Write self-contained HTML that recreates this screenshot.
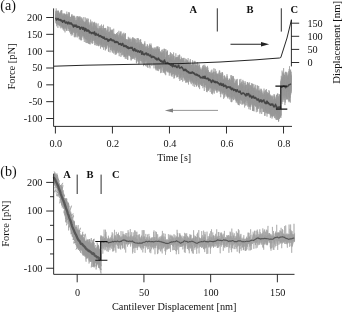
<!DOCTYPE html>
<html><head><meta charset="utf-8"><title>Force curves</title>
<style>html,body{margin:0;padding:0;background:#fff}body{width:342px;height:312px;overflow:hidden}</style></head>
<body>
<svg width="342" height="312" viewBox="0 0 342 312" style="display:block;font-family:'Liberation Serif',serif">
<rect width="342" height="312" fill="#fff"/>
<polyline fill="none" stroke="#999" stroke-width="0.6" stroke-linejoin="round" points="55.6,18.0 55.6,19.2 55.6,16.9 55.7,14.6 55.7,16.3 55.7,14.2 55.7,18.3 55.8,23.3 55.8,16.1 55.8,15.7 55.8,20.0 55.8,19.5 55.9,18.5 55.9,14.5 55.9,18.0 55.9,20.9 56.0,12.9 56.0,16.4 56.0,10.7 56.0,13.1 56.1,11.0 56.1,17.3 56.1,13.2 56.1,19.3 56.1,18.8 56.2,17.5 56.2,8.4 56.2,16.1 56.2,18.1 56.3,18.7 56.3,12.3 56.3,16.4 56.3,14.4 56.3,15.1 56.4,22.5 56.4,15.1 56.4,18.2 56.4,21.8 56.5,16.0 56.5,17.9 56.5,18.8 56.5,18.6 56.5,13.6 56.6,18.7 56.6,23.8 56.6,12.3 56.6,21.8 56.7,18.9 56.7,15.9 56.7,26.3 56.7,21.5 56.7,13.7 56.8,18.8 56.8,20.8 56.8,17.7 56.8,21.2 56.9,18.2 56.9,21.2 56.9,24.2 56.9,15.9 57.0,19.3 57.0,16.7 57.0,19.1 57.0,13.9 57.0,16.3 57.1,17.8 57.1,22.2 57.1,23.1 57.1,13.4 57.2,15.5 57.2,21.2 57.2,10.7 57.2,16.8 57.2,18.3 57.3,23.7 57.3,21.4 57.3,17.4 57.3,17.2 57.4,17.7 57.4,24.8 57.4,17.0 57.4,17.5 57.4,20.1 57.5,18.3 57.5,18.0 57.5,14.3 57.5,18.7 57.6,17.0 57.6,23.4 57.6,21.4 57.6,18.7 57.7,21.5 57.7,17.5 57.7,23.0 57.7,18.8 57.7,21.2 57.8,13.7 57.8,20.3 57.8,12.2 57.8,10.8 57.9,17.7 57.9,15.3 57.9,19.6 57.9,27.9 57.9,15.6 58.0,16.5 58.0,19.8 58.0,20.9 58.0,18.3 58.1,18.2 58.1,21.8 58.1,21.1 58.1,14.9 58.1,18.7 58.2,19.2 58.2,14.8 58.2,20.1 58.2,15.6 58.3,23.0 58.3,19.9 58.3,19.4 58.3,16.7 58.4,18.6 58.4,11.1 58.4,14.6 58.4,20.6 58.4,10.6 58.5,22.5 58.5,12.2 58.5,22.2 58.5,15.8 58.6,22.3 58.6,19.7 58.6,13.0 58.6,24.2 58.6,25.0 58.7,19.0 58.7,18.1 58.7,18.6 58.7,15.3 58.8,23.7 58.8,17.1 58.8,19.1 58.8,16.1 58.8,16.8 58.9,14.2 58.9,24.4 58.9,18.7 58.9,23.2 59.0,19.4 59.0,16.6 59.0,18.1 59.0,17.1 59.0,19.4 59.1,17.9 59.1,18.2 59.1,13.8 59.1,16.2 59.2,26.1 59.2,16.7 59.2,15.2 59.2,20.8 59.3,25.2 59.3,13.6 59.3,18.6 59.3,16.9 59.3,12.4 59.4,22.5 59.4,19.4 59.4,19.8 59.4,16.5 59.5,21.4 59.5,17.4 59.5,19.0 59.5,15.1 59.5,14.7 59.6,25.0 59.6,17.5 59.6,20.8 59.6,19.5 59.7,17.8 59.7,17.6 59.7,22.2 59.7,18.4 59.7,19.1 59.8,19.8 59.8,24.5 59.8,22.5 59.8,21.3 59.9,17.4 59.9,14.1 59.9,23.6 59.9,23.7 60.0,19.2 60.0,22.0 60.0,23.0 60.0,23.2 60.0,23.5 60.1,17.9 60.1,26.0 60.1,14.7 60.1,23.3 60.2,21.8 60.2,23.4 60.2,27.5 60.2,25.9 60.2,15.2 60.3,13.0 60.3,23.2 60.3,15.7 60.3,19.9 60.4,23.3 60.4,13.2 60.4,11.3 60.4,21.0 60.4,20.1 60.5,19.0 60.5,20.1 60.5,16.5 60.5,13.8 60.6,19.3 60.6,16.0 60.6,13.3 60.6,22.1 60.6,19.8 60.7,21.7 60.7,16.0 60.7,17.4 60.7,16.0 60.8,16.4 60.8,20.9 60.8,16.9 60.8,21.6 60.9,21.5 60.9,28.4 60.9,14.4 60.9,23.8 60.9,19.8 61.0,20.1 61.0,14.2 61.0,18.3 61.0,23.2 61.1,19.9 61.1,20.5 61.1,19.0 61.1,25.0 61.1,20.1 61.2,11.2 61.2,17.4 61.2,12.1 61.2,10.0 61.3,18.1 61.3,25.8 61.3,20.5 61.3,15.5 61.3,16.4 61.4,25.0 61.4,21.0 61.4,20.5 61.4,20.1 61.5,20.5 61.5,23.7 61.5,22.7 61.5,21.3 61.6,16.1 61.6,22.5 61.6,17.6 61.6,24.9 61.6,15.2 61.7,19.9 61.7,20.4 61.7,15.0 61.7,27.6 61.8,26.5 61.8,18.6 61.8,23.7 61.8,22.1 61.8,10.1 61.9,21.6 61.9,20.3 61.9,20.9 61.9,16.1 62.0,19.4 62.0,19.8 62.0,25.5 62.0,22.0 62.0,20.6 62.1,27.0 62.1,18.3 62.1,19.0 62.1,13.1 62.2,27.2 62.2,24.7 62.2,24.5 62.2,23.4 62.2,21.1 62.3,21.6 62.3,19.6 62.3,19.9 62.3,20.9 62.4,27.0 62.4,23.0 62.4,20.5 62.4,18.3 62.5,18.1 62.5,27.5 62.5,22.9 62.5,21.1 62.5,19.3 62.6,16.2 62.6,20.5 62.6,24.5 62.6,19.2 62.7,19.9 62.7,19.9 62.7,21.3 62.7,14.2 62.7,19.9 62.8,17.3 62.8,24.6 62.8,17.7 62.8,23.3 62.9,27.3 62.9,19.6 62.9,18.4 62.9,21.7 62.9,20.9 63.0,16.8 63.0,22.9 63.0,29.4 63.0,19.9 63.1,20.1 63.1,16.6 63.1,22.4 63.1,15.8 63.2,16.4 63.2,26.4 63.2,17.2 63.2,25.6 63.2,27.5 63.3,22.2 63.3,23.4 63.3,29.3 63.3,20.3 63.4,18.6 63.4,15.4 63.4,21.3 63.4,27.4 63.4,25.2 63.5,17.2 63.5,17.6 63.5,19.1 63.5,22.4 63.6,20.3 63.6,22.1 63.6,22.5 63.6,20.0 63.6,21.1 63.7,22.1 63.7,20.9 63.7,23.4 63.7,29.2 63.8,23.8 63.8,21.5 63.8,14.2 63.8,22.9 63.9,13.1 63.9,15.4 63.9,24.9 63.9,24.3 63.9,20.7 64.0,14.1 64.0,19.8 64.0,18.5 64.0,24.1 64.1,31.0 64.1,22.3 64.1,18.1 64.1,16.5 64.1,21.2 64.2,20.7 64.2,16.6 64.2,22.0 64.2,16.6 64.3,26.2 64.3,26.0 64.3,26.1 64.3,19.5 64.3,23.7 64.4,21.0 64.4,19.9 64.4,20.1 64.4,16.0 64.5,15.4 64.5,24.9 64.5,20.8 64.5,22.5 64.5,25.9 64.6,14.2 64.6,18.3 64.6,22.4 64.6,23.3 64.7,20.0 64.7,26.0 64.7,22.6 64.7,16.5 64.8,17.7 64.8,25.1 64.8,23.7 64.8,13.6 64.8,27.5 64.9,24.3 64.9,27.5 64.9,20.1 64.9,20.5 65.0,16.9 65.0,32.4 65.0,21.0 65.0,28.6 65.0,19.0 65.1,22.5 65.1,14.7 65.1,20.2 65.1,26.0 65.2,16.5 65.2,26.4 65.2,23.3 65.2,17.4 65.2,19.7 65.3,19.9 65.3,21.7 65.3,19.6 65.3,18.4 65.4,20.6 65.4,17.5 65.4,16.4 65.4,21.7 65.5,25.7 65.5,15.4 65.5,22.0 65.5,19.2 65.5,17.8 65.6,25.7 65.6,19.8 65.6,28.5 65.6,18.7 65.7,23.7 65.7,21.1 65.7,18.8 65.7,24.6 65.7,21.4 65.8,24.7 65.8,21.9 65.8,17.4 65.8,21.7 65.9,22.3 65.9,26.3 65.9,18.2 65.9,22.0 65.9,14.7 66.0,25.0 66.0,17.5 66.0,14.4 66.0,21.9 66.1,27.0 66.1,15.6 66.1,17.5 66.1,19.0 66.1,17.4 66.2,23.9 66.2,18.8 66.2,19.2 66.2,24.8 66.3,19.0 66.3,24.2 66.3,18.1 66.3,17.1 66.4,14.4 66.4,30.4 66.4,21.0 66.4,23.4 66.4,22.2 66.5,23.1 66.5,22.6 66.5,30.7 66.5,17.9 66.6,15.7 66.6,18.0 66.6,16.6 66.6,25.7 66.6,26.0 66.7,18.3 66.7,16.4 66.7,20.9 66.7,28.5 66.8,11.6 66.8,24.8 66.8,17.8 66.8,27.0 66.8,17.8 66.9,21.3 66.9,16.0 66.9,18.3 66.9,28.6 67.0,26.1 67.0,20.8 67.0,18.8 67.0,14.4 67.1,20.9 67.1,22.5 67.1,22.3 67.1,22.2 67.1,17.8 67.2,22.4 67.2,22.5 67.2,28.3 67.2,30.8 67.3,22.1 67.3,19.4 67.3,22.4 67.3,20.1 67.3,19.5 67.4,22.5 67.4,18.2 67.4,25.4 67.4,22.3 67.5,23.9 67.5,22.0 67.5,19.6 67.5,18.6 67.5,21.8 67.6,20.4 67.6,23.8 67.6,22.8 67.6,16.9 67.7,23.1 67.7,17.0 67.7,20.2 67.7,21.6 67.8,13.8 67.8,23.3 67.8,23.6 67.8,22.2 67.8,21.1 67.9,21.3 67.9,18.7 67.9,21.8 67.9,20.5 68.0,23.4 68.0,17.7 68.0,24.0 68.0,23.6 68.0,22.4 68.1,21.1 68.1,25.4 68.1,15.7 68.1,25.1 68.2,24.1 68.2,24.3 68.2,24.8 68.2,20.2 68.2,21.9 68.3,25.9 68.3,25.0 68.3,24.0 68.3,16.4 68.4,25.5 68.4,28.3 68.4,27.6 68.4,24.2 68.4,16.3 68.5,27.3 68.5,22.5 68.5,12.2 68.5,24.9 68.6,16.6 68.6,17.5 68.6,20.4 68.6,28.9 68.7,21.6 68.7,24.5 68.7,31.0 68.7,30.3 68.7,22.8 68.8,22.2 68.8,17.7 68.8,20.2 68.8,25.2 68.9,25.1 68.9,23.8 68.9,27.8 68.9,19.9 68.9,23.1 69.0,26.6 69.0,26.0 69.0,28.1 69.0,25.2 69.1,22.0 69.1,25.0 69.1,19.0 69.1,16.2 69.1,26.0 69.2,23.2 69.2,24.8 69.2,15.9 69.2,21.9 69.3,20.8 69.3,19.7 69.3,13.5 69.3,22.0 69.4,27.5 69.4,25.2 69.4,20.9 69.4,23.5 69.4,26.9 69.5,12.4 69.5,23.0 69.5,26.0 69.5,26.6 69.6,31.2 69.6,28.7 69.6,25.0 69.6,25.0 69.6,27.2 69.7,21.2 69.7,23.5 69.7,27.7 69.7,32.4 69.8,23.0 69.8,23.5 69.8,24.6 69.8,29.7 69.8,23.6 69.9,30.3 69.9,19.4 69.9,22.9 69.9,22.9 70.0,27.3 70.0,28.5 70.0,17.0 70.0,19.7 70.0,25.3 70.1,20.9 70.1,17.0 70.1,28.5 70.1,26.1 70.2,26.1 70.2,21.7 70.2,28.5 70.2,22.8 70.3,28.8 70.3,19.8 70.3,20.1 70.3,24.8 70.3,20.8 70.4,27.0 70.4,25.1 70.4,19.8 70.4,24.3 70.5,22.4 70.5,28.1 70.5,21.1 70.5,22.0 70.5,29.4 70.6,34.1 70.6,33.0 70.6,24.3 70.6,25.0 70.7,30.9 70.7,23.5 70.7,19.7 70.7,24.6 70.7,26.1 70.8,20.4 70.8,16.7 70.8,17.6 70.8,27.1 70.9,20.7 70.9,23.5 70.9,25.1 70.9,27.0 71.0,22.7 71.0,26.4 71.0,20.2 71.0,22.6 71.0,19.6 71.1,29.3 71.1,24.1 71.1,20.9 71.1,22.7 71.2,23.3 71.2,27.4 71.2,17.1 71.2,19.6 71.2,22.6 71.3,35.6 71.3,28.6 71.3,23.8 71.3,27.5 71.4,33.6 71.4,23.3 71.4,22.7 71.4,29.8 71.4,26.6 71.5,27.4 71.5,22.1 71.5,33.1 71.5,32.2 71.6,27.0 71.6,27.5 71.6,15.2 71.6,27.3 71.7,23.6 71.7,26.4 71.7,27.6 71.7,22.9 71.7,16.8 71.8,26.2 71.8,21.1 71.8,23.0 71.8,21.8 71.9,23.0 71.9,14.0 71.9,30.1 71.9,25.7 71.9,29.6 72.0,33.6 72.0,24.7 72.0,16.4 72.0,20.5 72.1,19.1 72.1,22.3 72.1,25.0 72.1,15.5 72.1,26.2 72.2,17.8 72.2,26.0 72.2,24.2 72.2,23.3 72.3,24.4 72.3,22.2 72.3,21.9 72.3,17.0 72.3,24.6 72.4,33.2 72.4,33.8 72.4,30.8 72.4,28.0 72.5,21.7 72.5,31.4 72.5,24.5 72.5,24.5 72.6,23.5 72.6,25.2 72.6,22.8 72.6,24.5 72.6,19.9 72.7,23.1 72.7,35.3 72.7,24.6 72.7,23.8 72.8,27.3 72.8,28.1 72.8,19.8 72.8,24.0 72.8,29.1 72.9,26.2 72.9,25.5 72.9,32.1 72.9,21.9 73.0,25.4 73.0,22.6 73.0,31.8 73.0,16.0 73.0,21.9 73.1,22.6 73.1,28.1 73.1,27.8 73.1,31.5 73.2,17.8 73.2,28.5 73.2,23.7 73.2,22.0 73.3,27.6 73.3,20.9 73.3,15.6 73.3,23.4 73.3,18.2 73.4,22.2 73.4,26.9 73.4,26.6 73.4,32.5 73.5,24.3 73.5,18.1 73.5,21.7 73.5,21.0 73.5,19.6 73.6,27.2 73.6,22.3 73.6,16.1 73.6,28.5 73.7,24.7 73.7,26.9 73.7,25.8 73.7,28.2 73.7,25.5 73.8,31.0 73.8,27.3 73.8,27.1 73.8,27.2 73.9,18.6 73.9,24.6 73.9,24.2 73.9,26.3 73.9,19.1 74.0,32.9 74.0,25.9 74.0,19.8 74.0,17.5 74.1,24.1 74.1,25.0 74.1,22.1 74.1,25.9 74.2,22.5 74.2,28.0 74.2,22.1 74.2,25.3 74.2,30.0 74.3,37.1 74.3,20.8 74.3,23.4 74.3,21.6 74.4,29.2 74.4,20.2 74.4,23.3 74.4,25.4 74.4,21.0 74.5,21.1 74.5,23.4 74.5,15.8 74.5,18.9 74.6,23.7 74.6,26.3 74.6,24.8 74.6,17.4 74.6,23.5 74.7,29.4 74.7,28.3 74.7,25.3 74.7,21.6 74.8,28.6 74.8,23.0 74.8,20.3 74.8,22.0 74.9,32.5 74.9,26.8 74.9,31.2 74.9,23.5 74.9,30.2 75.0,23.0 75.0,25.1 75.0,37.4 75.0,29.4 75.1,23.5 75.1,25.4 75.1,27.4 75.1,31.5 75.1,23.6 75.2,17.7 75.2,24.6 75.2,26.0 75.2,26.4 75.3,32.1 75.3,27.4 75.3,29.7 75.3,20.8 75.3,30.0 75.4,35.8 75.4,29.6 75.4,27.2 75.4,26.7 75.5,34.4 75.5,21.6 75.5,25.5 75.5,28.2 75.5,29.5 75.6,24.0 75.6,27.5 75.6,24.7 75.6,26.6 75.7,25.4 75.7,20.7 75.7,26.0 75.7,30.2 75.8,21.6 75.8,25.0 75.8,29.2 75.8,21.1 75.8,27.0 75.9,21.2 75.9,31.5 75.9,37.0 75.9,35.7 76.0,25.2 76.0,29.7 76.0,26.8 76.0,26.7 76.0,33.5 76.1,20.0 76.1,31.2 76.1,26.0 76.1,32.9 76.2,27.1 76.2,23.1 76.2,27.6 76.2,29.8 76.2,26.5 76.3,28.6 76.3,23.9 76.3,16.3 76.3,30.6 76.4,29.6 76.4,27.1 76.4,26.7 76.4,31.3 76.5,24.2 76.5,23.1 76.5,25.5 76.5,32.0 76.5,19.9 76.6,32.1 76.6,23.4 76.6,21.2 76.6,32.4 76.7,26.0 76.7,20.3 76.7,24.8 76.7,30.9 76.7,32.1 76.8,24.5 76.8,28.4 76.8,29.9 76.8,23.5 76.9,28.2 76.9,26.4 76.9,24.0 76.9,24.2 76.9,26.9 77.0,26.7 77.0,23.9 77.0,24.6 77.0,31.9 77.1,27.6 77.1,30.8 77.1,32.4 77.1,29.5 77.2,37.5 77.2,22.7 77.2,30.5 77.2,25.2 77.2,35.5 77.3,34.8 77.3,17.4 77.3,22.1 77.3,29.9 77.4,30.5 77.4,30.3 77.4,26.4 77.4,28.9 77.4,29.9 77.5,26.4 77.5,31.7 77.5,16.0 77.5,29.8 77.6,21.9 77.6,31.4 77.6,25.8 77.6,22.6 77.6,28.6 77.7,22.5 77.7,22.5 77.7,19.4 77.7,26.8 77.8,29.3 77.8,31.8 77.8,26.2 77.8,31.9 77.8,27.0 77.9,26.5 77.9,29.7 77.9,32.0 77.9,25.3 78.0,25.8 78.0,26.2 78.0,27.4 78.0,22.7 78.1,31.9 78.1,25.1 78.1,29.3 78.1,23.1 78.1,28.8 78.2,28.9 78.2,25.1 78.2,36.8 78.2,28.9 78.3,35.6 78.3,31.7 78.3,23.9 78.3,25.3 78.3,29.2 78.4,27.4 78.4,27.4 78.4,25.8 78.4,18.5 78.5,26.1 78.5,16.5 78.5,29.0 78.5,23.7 78.5,23.8 78.6,26.2 78.6,28.6 78.6,20.4 78.6,18.8 78.7,22.1 78.7,17.4 78.7,22.6 78.7,35.0 78.8,22.2 78.8,30.5 78.8,20.7 78.8,28.8 78.8,25.8 78.9,27.1 78.9,30.1 78.9,35.8 78.9,28.3 79.0,28.0 79.0,22.7 79.0,30.2 79.0,26.2 79.0,31.4 79.1,27.2 79.1,35.9 79.1,17.9 79.1,26.0 79.2,31.7 79.2,25.8 79.2,23.7 79.2,26.2 79.2,20.8 79.3,28.1 79.3,39.3 79.3,33.1 79.3,22.2 79.4,23.3 79.4,25.6 79.4,32.4 79.4,23.6 79.4,24.2 79.5,31.9 79.5,31.8 79.5,25.8 79.5,22.2 79.6,20.1 79.6,24.3 79.6,16.8 79.6,31.3 79.7,24.6 79.7,30.0 79.7,36.8 79.7,33.4 79.7,22.1 79.8,31.9 79.8,33.3 79.8,24.1 79.8,23.1 79.9,27.2 79.9,20.0 79.9,34.9 79.9,16.1 79.9,22.4 80.0,26.5 80.0,26.7 80.0,28.6 80.0,29.1 80.1,26.8 80.1,33.4 80.1,17.4 80.1,27.9 80.1,24.4 80.2,28.5 80.2,29.0 80.2,23.4 80.2,24.8 80.3,31.8 80.3,29.6 80.3,24.6 80.3,37.9 80.4,39.2 80.4,20.8 80.4,29.4 80.4,40.2 80.4,31.8 80.5,29.1 80.5,27.0 80.5,25.4 80.5,27.0 80.6,25.3 80.6,31.7 80.6,26.1 80.6,25.9 80.6,22.2 80.7,27.8 80.7,23.7 80.7,27.2 80.7,33.2 80.8,29.9 80.8,30.6 80.8,29.9 80.8,28.4 80.8,27.5 80.9,26.6 80.9,31.9 80.9,22.9 80.9,34.8 81.0,28.4 81.0,24.5 81.0,25.8 81.0,24.9 81.1,29.0 81.1,24.7 81.1,33.9 81.1,24.4 81.1,17.1 81.2,24.7 81.2,18.4 81.2,28.1 81.2,33.5 81.3,31.5 81.3,21.7 81.3,24.6 81.3,37.1 81.3,29.9 81.4,28.4 81.4,33.6 81.4,40.4 81.4,34.8 81.5,29.1 81.5,30.1 81.5,31.5 81.5,25.4 81.5,23.2 81.6,28.7 81.6,23.8 81.6,28.2 81.6,28.9 81.7,40.0 81.7,24.3 81.7,27.9 81.7,27.7 81.7,30.7 81.8,33.7 81.8,26.1 81.8,24.5 81.8,20.4 81.9,24.0 81.9,31.2 81.9,28.8 81.9,23.6 82.0,26.7 82.0,28.8 82.0,31.1 82.0,25.7 82.0,27.4 82.1,19.6 82.1,22.9 82.1,36.7 82.1,17.8 82.2,27.0 82.2,29.8 82.2,26.8 82.2,24.7 82.2,28.4 82.3,28.7 82.3,28.3 82.3,19.4 82.3,28.0 82.4,24.5 82.4,26.0 82.4,29.9 82.4,32.0 82.4,33.2 82.5,26.3 82.5,33.4 82.5,34.6 82.5,34.5 82.6,35.7 82.6,28.1 82.6,28.0 82.6,33.0 82.7,22.1 82.7,29.9 82.7,26.3 82.7,27.1 82.7,20.3 82.8,24.5 82.8,28.8 82.8,33.4 82.8,33.9 82.9,28.6 82.9,28.0 82.9,24.8 82.9,31.0 82.9,27.8 83.0,32.0 83.0,37.7 83.0,28.9 83.0,21.6 83.1,24.8 83.1,21.8 83.1,23.1 83.1,35.6 83.1,30.2 83.2,21.5 83.2,32.3 83.2,35.4 83.2,27.3 83.3,25.8 83.3,27.4 83.3,30.6 83.3,32.3 83.3,35.0 83.4,35.2 83.4,35.1 83.4,36.0 83.4,32.5 83.5,21.6 83.5,28.6 83.5,30.8 83.5,27.3 83.6,33.8 83.6,27.5 83.6,24.6 83.6,36.4 83.6,32.6 83.7,30.4 83.7,33.9 83.7,34.6 83.7,31.0 83.8,17.1 83.8,26.0 83.8,27.1 83.8,24.4 83.8,30.3 83.9,35.3 83.9,27.0 83.9,23.7 83.9,39.5 84.0,27.2 84.0,23.3 84.0,30.6 84.0,31.5 84.0,25.9 84.1,33.4 84.1,27.0 84.1,24.9 84.1,30.4 84.2,33.3 84.2,26.3 84.2,31.1 84.2,29.0 84.3,42.0 84.3,26.0 84.3,36.4 84.3,29.3 84.3,28.9 84.4,33.2 84.4,34.0 84.4,35.9 84.4,31.2 84.5,26.6 84.5,26.9 84.5,32.2 84.5,32.5 84.5,36.6 84.6,31.7 84.6,34.9 84.6,37.2 84.6,30.5 84.7,22.3 84.7,23.8 84.7,22.5 84.7,37.6 84.7,25.5 84.8,35.9 84.8,32.6 84.8,38.3 84.8,34.7 84.9,29.3 84.9,28.8 84.9,30.2 84.9,30.7 85.0,27.2 85.0,29.6 85.0,37.8 85.0,21.4 85.0,31.1 85.1,25.3 85.1,30.8 85.1,34.0 85.1,29.6 85.2,33.7 85.2,22.0 85.2,35.4 85.2,26.9 85.2,33.0 85.3,30.8 85.3,17.5 85.3,26.2 85.3,31.0 85.4,37.7 85.4,31.4 85.4,31.3 85.4,23.0 85.4,37.1 85.5,39.0 85.5,30.2 85.5,28.9 85.5,22.0 85.6,34.4 85.6,42.5 85.6,33.6 85.6,36.4 85.6,32.8 85.7,25.2 85.7,36.8 85.7,24.0 85.7,29.1 85.8,31.5 85.8,34.5 85.8,32.2 85.8,32.1 85.9,26.4 85.9,23.7 85.9,30.5 85.9,26.6 85.9,23.7 86.0,23.9 86.0,27.8 86.0,21.0 86.0,23.5 86.1,22.1 86.1,31.2 86.1,32.3 86.1,40.3 86.1,22.8 86.2,26.9 86.2,34.8 86.2,29.2 86.2,28.7 86.3,38.8 86.3,28.6 86.3,24.6 86.3,23.8 86.3,32.0 86.4,31.9 86.4,23.5 86.4,25.5 86.4,33.1 86.5,33.3 86.5,27.2 86.5,33.5 86.5,33.3 86.6,21.6 86.6,28.9 86.6,32.5 86.6,27.6 86.6,19.8 86.7,29.1 86.7,34.2 86.7,38.4 86.7,19.6 86.8,43.0 86.8,24.9 86.8,35.3 86.8,36.7 86.8,35.5 86.9,31.3 86.9,24.8 86.9,33.7 86.9,27.0 87.0,18.1 87.0,43.1 87.0,34.2 87.0,39.7 87.0,26.1 87.1,38.0 87.1,38.6 87.1,38.4 87.1,30.6 87.2,24.7 87.2,29.8 87.2,19.7 87.2,22.2 87.2,31.2 87.3,25.8 87.3,29.9 87.3,30.2 87.3,40.4 87.4,37.2 87.4,30.6 87.4,36.8 87.4,26.9 87.5,29.1 87.5,35.3 87.5,24.6 87.5,29.4 87.5,24.3 87.6,31.4 87.6,39.0 87.6,27.1 87.6,32.0 87.7,26.4 87.7,25.2 87.7,24.7 87.7,38.2 87.7,42.7 87.8,33.3 87.8,27.4 87.8,34.5 87.8,29.3 87.9,35.0 87.9,32.4 87.9,32.4 87.9,34.0 87.9,28.1 88.0,29.0 88.0,22.4 88.0,28.8 88.0,23.9 88.1,30.3 88.1,26.3 88.1,31.6 88.1,33.3 88.2,24.0 88.2,27.0 88.2,26.4 88.2,34.8 88.2,39.6 88.3,35.4 88.3,29.4 88.3,38.5 88.3,23.6 88.4,38.6 88.4,27.9 88.4,18.7 88.4,43.7 88.4,39.1 88.5,26.1 88.5,32.1 88.5,30.2 88.5,31.7 88.6,23.8 88.6,27.9 88.6,33.6 88.6,32.4 88.6,37.3 88.7,31.7 88.7,43.0 88.7,27.7 88.7,32.6 88.8,21.8 88.8,25.1 88.8,38.0 88.8,26.7 88.8,34.0 88.9,31.1 88.9,26.2 88.9,29.7 88.9,28.8 89.0,29.0 89.0,35.2 89.0,34.7 89.0,28.6 89.1,26.9 89.1,32.9 89.1,31.0 89.1,36.6 89.1,44.0 89.2,35.7 89.2,31.3 89.2,30.7 89.2,27.2 89.3,27.0 89.3,26.5 89.3,29.6 89.3,29.4 89.3,35.3 89.4,29.6 89.4,30.6 89.4,25.5 89.4,39.8 89.5,34.1 89.5,40.5 89.5,35.6 89.5,39.1 89.5,30.4 89.6,35.2 89.6,44.1 89.6,25.6 89.6,37.6 89.7,40.2 89.7,33.8 89.7,35.5 89.7,38.1 89.8,28.4 89.8,33.8 89.8,27.3 89.8,28.3 89.8,28.6 89.9,31.0 89.9,32.5 89.9,34.1 89.9,24.6 90.0,41.9 90.0,37.7 90.0,35.5 90.0,30.0 90.0,31.4 90.1,34.7 90.1,34.0 90.1,23.3 90.1,35.7 90.2,44.4 90.2,22.4 90.2,37.0 90.2,33.8 90.2,31.4 90.3,39.0 90.3,25.9 90.3,32.8 90.3,39.5 90.4,31.0 90.4,29.8 90.4,32.6 90.4,29.7 90.5,39.9 90.5,27.4 90.5,36.5 90.5,25.6 90.5,35.5 90.6,31.5 90.6,19.6 90.6,32.0 90.6,26.6 90.7,29.8 90.7,40.0 90.7,26.4 90.7,26.7 90.7,39.5 90.8,32.7 90.8,40.1 90.8,33.8 90.8,27.6 90.9,31.8 90.9,38.5 90.9,37.0 90.9,32.2 90.9,32.5 91.0,31.6 91.0,29.3 91.0,42.2 91.0,32.3 91.1,26.4 91.1,29.8 91.1,36.0 91.1,35.6 91.1,31.6 91.2,28.9 91.2,32.4 91.2,23.7 91.2,25.6 91.3,36.4 91.3,29.9 91.3,34.3 91.3,38.6 91.4,35.7 91.4,32.5 91.4,43.3 91.4,35.8 91.4,30.6 91.5,36.2 91.5,34.5 91.5,28.0 91.5,32.8 91.6,31.6 91.6,22.4 91.6,31.6 91.6,31.0 91.6,30.2 91.7,24.0 91.7,30.7 91.7,32.3 91.7,33.0 91.8,26.7 91.8,35.8 91.8,26.3 91.8,31.4 91.8,39.3 91.9,29.0 91.9,30.0 91.9,38.1 91.9,30.6 92.0,31.1 92.0,33.8 92.0,38.0 92.0,21.3 92.1,28.4 92.1,27.5 92.1,27.1 92.1,28.3 92.1,28.4 92.2,34.2 92.2,28.1 92.2,33.3 92.2,34.8 92.3,29.0 92.3,33.4 92.3,41.1 92.3,34.4 92.3,29.5 92.4,32.4 92.4,28.1 92.4,34.2 92.4,37.2 92.5,28.6 92.5,31.8 92.5,38.5 92.5,30.3 92.5,33.8 92.6,27.6 92.6,28.7 92.6,30.3 92.6,43.8 92.7,30.9 92.7,30.3 92.7,30.1 92.7,32.1 92.7,36.2 92.8,33.9 92.8,43.2 92.8,34.0 92.8,40.2 92.9,34.4 92.9,36.0 92.9,25.8 92.9,32.4 93.0,32.7 93.0,31.8 93.0,22.3 93.0,37.4 93.0,31.1 93.1,30.9 93.1,31.8 93.1,31.9 93.1,35.1 93.2,26.7 93.2,28.4 93.2,34.6 93.2,33.9 93.2,31.2 93.3,30.3 93.3,29.0 93.3,32.9 93.3,39.1 93.4,27.9 93.4,40.8 93.4,37.4 93.4,30.9 93.4,37.1 93.5,25.9 93.5,24.6 93.5,26.8 93.5,31.2 93.6,31.6 93.6,30.7 93.6,33.8 93.6,22.6 93.7,35.8 93.7,26.2 93.7,30.0 93.7,31.3 93.7,27.5 93.8,26.5 93.8,28.3 93.8,33.3 93.8,36.3 93.9,36.2 93.9,28.4 93.9,29.4 93.9,28.8 93.9,35.7 94.0,23.2 94.0,39.6 94.0,31.0 94.0,29.5 94.1,35.2 94.1,38.6 94.1,35.2 94.1,38.8 94.1,34.2 94.2,39.7 94.2,39.7 94.2,33.0 94.2,40.7 94.3,34.4 94.3,34.0 94.3,28.9 94.3,32.1 94.4,37.5 94.4,27.0 94.4,36.8 94.4,35.3 94.4,35.0 94.5,22.6 94.5,33.1 94.5,36.9 94.5,29.8 94.6,34.1 94.6,21.8 94.6,37.0 94.6,30.4 94.6,38.1 94.7,24.5 94.7,37.2 94.7,32.5 94.7,37.8 94.8,29.1 94.8,30.7 94.8,45.0 94.8,29.6 94.8,30.2 94.9,32.4 94.9,28.7 94.9,39.8 94.9,42.4 95.0,30.3 95.0,25.2 95.0,39.7 95.0,39.4 95.0,38.0 95.1,39.7 95.1,29.5 95.1,33.0 95.1,27.0 95.2,26.8 95.2,38.8 95.2,30.6 95.2,45.3 95.3,34.3 95.3,30.7 95.3,38.0 95.3,43.0 95.3,36.4 95.4,27.9 95.4,35.8 95.4,40.9 95.4,31.5 95.5,30.1 95.5,39.1 95.5,34.7 95.5,28.5 95.5,32.2 95.6,30.3 95.6,35.6 95.6,34.6 95.6,39.9 95.7,37.7 95.7,26.3 95.7,36.2 95.7,38.6 95.7,36.4 95.8,39.3 95.8,31.4 95.8,29.4 95.8,38.8 95.9,28.8 95.9,23.4 95.9,39.3 95.9,30.6 96.0,32.7 96.0,27.2 96.0,27.6 96.0,28.5 96.0,32.4 96.1,36.1 96.1,22.8 96.1,38.0 96.1,28.4 96.2,29.0 96.2,37.7 96.2,33.9 96.2,26.6 96.2,43.6 96.3,30.0 96.3,35.6 96.3,35.4 96.3,41.4 96.4,32.1 96.4,39.4 96.4,30.7 96.4,40.0 96.4,30.6 96.5,32.6 96.5,43.9 96.5,36.0 96.5,35.0 96.6,45.7 96.6,36.3 96.6,30.4 96.6,38.2 96.6,28.6 96.7,40.2 96.7,40.6 96.7,31.7 96.7,31.4 96.8,35.4 96.8,34.6 96.8,29.7 96.8,37.4 96.9,24.4 96.9,32.4 96.9,32.6 96.9,33.2 96.9,36.2 97.0,28.5 97.0,37.6 97.0,33.7 97.0,31.4 97.1,27.8 97.1,28.7 97.1,36.5 97.1,29.9 97.1,35.0 97.2,40.0 97.2,39.9 97.2,42.5 97.2,33.3 97.3,29.3 97.3,39.9 97.3,36.3 97.3,40.4 97.3,34.8 97.4,40.8 97.4,39.0 97.4,38.4 97.4,37.3 97.5,36.8 97.5,36.0 97.5,36.0 97.5,39.8 97.6,32.3 97.6,43.6 97.6,34.3 97.6,39.8 97.6,34.4 97.7,33.7 97.7,45.1 97.7,33.4 97.7,28.5 97.8,31.4 97.8,33.4 97.8,45.8 97.8,36.0 97.8,39.7 97.9,30.0 97.9,36.8 97.9,38.4 97.9,44.0 98.0,31.5 98.0,38.1 98.0,36.6 98.0,29.9 98.0,35.0 98.1,33.7 98.1,23.4 98.1,38.1 98.1,37.8 98.2,32.9 98.2,28.4 98.2,42.5 98.2,36.5 98.2,40.2 98.3,42.2 98.3,32.5 98.3,39.2 98.3,34.0 98.4,34.9 98.4,34.8 98.4,35.2 98.4,40.8 98.5,35.8 98.5,34.5 98.5,33.9 98.5,37.0 98.5,30.8 98.6,32.7 98.6,35.0 98.6,32.5 98.6,34.7 98.7,32.2 98.7,45.4 98.7,42.0 98.7,37.6 98.7,35.1 98.8,46.3 98.8,37.0 98.8,34.9 98.8,36.9 98.9,36.9 98.9,42.5 98.9,35.3 98.9,45.9 98.9,31.0 99.0,38.9 99.0,30.4 99.0,44.6 99.0,33.8 99.1,35.2 99.1,40.1 99.1,41.8 99.1,29.9 99.2,33.8 99.2,28.5 99.2,36.2 99.2,35.0 99.2,33.8 99.3,32.1 99.3,33.6 99.3,31.8 99.3,38.2 99.4,43.2 99.4,25.9 99.4,35.0 99.4,33.5 99.4,38.1 99.5,30.9 99.5,34.9 99.5,30.4 99.5,39.2 99.6,36.2 99.6,34.9 99.6,37.5 99.6,34.5 99.6,27.9 99.7,38.7 99.7,37.2 99.7,35.0 99.7,40.7 99.8,41.9 99.8,30.3 99.8,31.8 99.8,43.5 99.9,42.9 99.9,32.1 99.9,29.9 99.9,32.6 99.9,33.3 100.0,27.9 100.0,36.0 100.0,29.4 100.0,29.8 100.1,40.5 100.1,32.4 100.1,35.5 100.1,39.1 100.1,40.0 100.2,34.2 100.2,36.1 100.2,31.8 100.2,44.7 100.3,39.2 100.3,30.4 100.3,36.0 100.3,39.6 100.3,38.4 100.4,45.2 100.4,42.9 100.4,33.3 100.4,35.6 100.5,29.6 100.5,37.3 100.5,36.8 100.5,48.6 100.5,36.6 100.6,25.6 100.6,32.7 100.6,36.7 100.6,29.8 100.7,31.8 100.7,34.3 100.7,37.8 100.7,35.3 100.8,31.7 100.8,40.1 100.8,33.5 100.8,33.7 100.8,29.3 100.9,32.2 100.9,39.5 100.9,28.1 100.9,35.9 101.0,39.8 101.0,34.3 101.0,37.5 101.0,30.7 101.0,42.8 101.1,41.8 101.1,37.5 101.1,27.5 101.1,31.1 101.2,41.2 101.2,44.9 101.2,37.8 101.2,42.6 101.2,33.3 101.3,35.4 101.3,36.4 101.3,38.5 101.3,28.7 101.4,41.1 101.4,43.0 101.4,30.6 101.4,29.6 101.5,38.2 101.5,33.2 101.5,24.5 101.5,40.5 101.5,37.2 101.6,34.1 101.6,47.1 101.6,37.2 101.6,32.7 101.7,37.0 101.7,31.3 101.7,32.7 101.7,38.5 101.7,33.8 101.8,34.3 101.8,44.9 101.8,40.9 101.8,40.6 101.9,39.2 101.9,39.0 101.9,43.9 101.9,36.5 101.9,46.0 102.0,31.9 102.0,35.4 102.0,29.7 102.0,34.9 102.1,39.3 102.1,44.0 102.1,33.4 102.1,36.7 102.1,34.9 102.2,33.0 102.2,30.8 102.2,37.0 102.2,28.0 102.3,37.3 102.3,36.9 102.3,33.5 102.3,31.7 102.4,29.8 102.4,46.2 102.4,30.1 102.4,44.6 102.4,39.8 102.5,35.0 102.5,31.0 102.5,42.1 102.5,45.6 102.6,32.2 102.6,35.4 102.6,42.2 102.6,38.6 102.6,47.0 102.7,34.1 102.7,39.7 102.7,30.7 102.7,47.5 102.8,33.3 102.8,25.9 102.8,36.3 102.8,36.3 102.8,46.6 102.9,35.3 102.9,36.9 102.9,40.0 102.9,45.0 103.0,36.7 103.0,42.3 103.0,39.7 103.0,35.6 103.1,37.5 103.1,37.2 103.1,32.5 103.1,43.2 103.1,30.1 103.2,43.0 103.2,41.9 103.2,36.7 103.2,33.3 103.3,36.0 103.3,39.5 103.3,40.9 103.3,38.6 103.3,42.2 103.4,34.4 103.4,38.4 103.4,29.3 103.4,41.1 103.5,38.0 103.5,35.2 103.5,43.1 103.5,40.7 103.5,24.7 103.6,37.5 103.6,30.0 103.6,42.7 103.6,49.8 103.7,34.7 103.7,37.7 103.7,36.1 103.7,39.1 103.8,40.6 103.8,43.8 103.8,32.4 103.8,45.3 103.8,32.7 103.9,38.8 103.9,43.2 103.9,41.0 103.9,32.7 104.0,33.9 104.0,35.1 104.0,37.2 104.0,43.2 104.0,31.0 104.1,39.8 104.1,40.6 104.1,40.3 104.1,39.9 104.2,45.2 104.2,40.0 104.2,41.8 104.2,40.4 104.2,46.6 104.3,28.0 104.3,44.0 104.3,36.3 104.3,36.2 104.4,32.7 104.4,28.2 104.4,35.7 104.4,34.2 104.4,40.1 104.5,30.2 104.5,44.9 104.5,39.0 104.5,36.4 104.6,34.1 104.6,33.7 104.6,32.0 104.6,35.0 104.7,37.7 104.7,36.8 104.7,30.6 104.7,36.4 104.7,33.3 104.8,38.6 104.8,47.2 104.8,40.9 104.8,36.2 104.9,29.6 104.9,30.7 104.9,29.3 104.9,41.5 104.9,34.0 105.0,38.2 105.0,34.7 105.0,38.3 105.0,44.9 105.1,34.4 105.1,36.2 105.1,33.8 105.1,42.3 105.1,32.8 105.2,32.2 105.2,31.0 105.2,30.9 105.2,40.3 105.3,50.5 105.3,33.0 105.3,42.8 105.3,39.3 105.4,32.5 105.4,36.6 105.4,36.8 105.4,34.5 105.4,47.7 105.5,28.4 105.5,40.0 105.5,39.7 105.5,35.2 105.6,38.8 105.6,42.5 105.6,38.9 105.6,40.2 105.6,41.6 105.7,27.9 105.7,45.6 105.7,49.6 105.7,43.1 105.8,43.3 105.8,31.1 105.8,37.6 105.8,34.1 105.8,35.2 105.9,43.1 105.9,34.2 105.9,37.6 105.9,28.6 106.0,37.4 106.0,38.7 106.0,34.7 106.0,34.6 106.0,47.8 106.1,32.2 106.1,33.0 106.1,34.2 106.1,44.4 106.2,48.9 106.2,40.0 106.2,34.7 106.2,36.2 106.3,43.7 106.3,33.8 106.3,45.7 106.3,45.5 106.3,38.7 106.4,41.7 106.4,42.2 106.4,46.2 106.4,33.1 106.5,44.4 106.5,36.6 106.5,34.6 106.5,39.0 106.5,37.4 106.6,33.5 106.6,30.5 106.6,33.8 106.6,45.8 106.7,48.4 106.7,41.8 106.7,44.5 106.7,35.9 106.7,38.2 106.8,40.0 106.8,33.1 106.8,33.6 106.8,39.1 106.9,37.0 106.9,33.3 106.9,40.6 106.9,37.3 107.0,43.8 107.0,38.6 107.0,37.1 107.0,39.3 107.0,37.8 107.1,35.3 107.1,36.7 107.1,42.5 107.1,42.0 107.2,45.2 107.2,30.2 107.2,36.8 107.2,36.7 107.2,39.6 107.3,36.5 107.3,36.2 107.3,42.7 107.3,39.7 107.4,32.9 107.4,45.5 107.4,43.8 107.4,35.9 107.4,43.0 107.5,35.1 107.5,44.5 107.5,37.8 107.5,34.8 107.6,37.0 107.6,35.0 107.6,39.9 107.6,39.8 107.7,39.1 107.7,36.1 107.7,26.3 107.7,39.4 107.7,29.4 107.8,40.2 107.8,44.7 107.8,40.4 107.8,37.0 107.9,38.1 107.9,38.3 107.9,36.3 107.9,36.1 107.9,34.4 108.0,45.0 108.0,39.0 108.0,43.9 108.0,37.8 108.1,39.4 108.1,38.2 108.1,41.4 108.1,43.3 108.1,40.3 108.2,35.7 108.2,35.2 108.2,47.5 108.2,37.7 108.3,37.7 108.3,46.6 108.3,44.7 108.3,41.9 108.3,37.2 108.4,51.1 108.4,41.2 108.4,42.0 108.4,38.4 108.5,32.1 108.5,32.5 108.5,41.3 108.5,41.3 108.6,38.1 108.6,33.4 108.6,32.0 108.6,37.7 108.6,32.0 108.7,43.9 108.7,45.1 108.7,52.0 108.7,43.8 108.8,36.4 108.8,35.0 108.8,26.8 108.8,36.4 108.8,38.5 108.9,44.3 108.9,42.5 108.9,42.4 108.9,40.5 109.0,42.8 109.0,46.8 109.0,34.1 109.0,37.2 109.0,32.5 109.1,47.7 109.1,46.0 109.1,43.3 109.1,33.5 109.2,40.4 109.2,38.4 109.2,40.0 109.2,38.6 109.3,42.2 109.3,37.6 109.3,43.9 109.3,40.8 109.3,38.1 109.4,39.0 109.4,37.4 109.4,43.7 109.4,38.3 109.5,41.1 109.5,37.7 109.5,32.2 109.5,44.2 109.5,34.3 109.6,43.1 109.6,41.8 109.6,31.4 109.6,35.0 109.7,37.1 109.7,35.6 109.7,33.8 109.7,43.5 109.7,38.6 109.8,41.7 109.8,37.6 109.8,41.3 109.8,36.0 109.9,39.7 109.9,42.8 109.9,40.1 109.9,37.5 109.9,34.4 110.0,40.7 110.0,41.6 110.0,38.6 110.0,36.0 110.1,42.6 110.1,52.4 110.1,38.4 110.1,41.6 110.2,41.8 110.2,27.3 110.2,40.6 110.2,36.4 110.2,47.0 110.3,38.7 110.3,36.1 110.3,38.9 110.3,40.8 110.4,37.2 110.4,39.8 110.4,33.2 110.4,38.9 110.4,44.0 110.5,50.0 110.5,43.6 110.5,41.4 110.5,46.1 110.6,45.2 110.6,48.5 110.6,45.6 110.6,39.5 110.6,41.4 110.7,41.0 110.7,41.7 110.7,41.2 110.7,36.2 110.8,29.6 110.8,36.8 110.8,30.0 110.8,40.5 110.9,40.2 110.9,31.8 110.9,43.7 110.9,44.6 110.9,40.7 111.0,48.7 111.0,49.7 111.0,34.2 111.0,45.5 111.1,42.5 111.1,42.4 111.1,45.0 111.1,36.7 111.1,37.3 111.2,36.2 111.2,36.5 111.2,39.9 111.2,33.0 111.3,35.1 111.3,43.3 111.3,40.0 111.3,42.3 111.3,30.9 111.4,36.5 111.4,37.6 111.4,40.6 111.4,37.5 111.5,45.2 111.5,40.2 111.5,40.6 111.5,40.5 111.5,44.1 111.6,38.1 111.6,46.2 111.6,42.8 111.6,41.3 111.7,40.7 111.7,43.2 111.7,45.7 111.7,45.3 111.8,42.5 111.8,45.0 111.8,41.2 111.8,46.9 111.8,40.5 111.9,30.1 111.9,47.4 111.9,41.2 111.9,34.7 112.0,39.7 112.0,36.2 112.0,51.3 112.0,43.2 112.0,32.8 112.1,43.5 112.1,38.7 112.1,50.4 112.1,35.4 112.2,29.4 112.2,41.1 112.2,39.0 112.2,38.7 112.2,30.0 112.3,42.9 112.3,49.2 112.3,31.2 112.3,46.7 112.4,37.9 112.4,52.7 112.4,43.0 112.4,39.9 112.5,46.4 112.5,43.5 112.5,37.9 112.5,44.5 112.5,38.3 112.6,31.9 112.6,51.2 112.6,39.1 112.6,37.8 112.7,42.6 112.7,33.1 112.7,34.1 112.7,38.4 112.7,38.3 112.8,41.3 112.8,46.7 112.8,38.6 112.8,43.5 112.9,44.1 112.9,35.5 112.9,42.2 112.9,36.3 112.9,46.4 113.0,43.4 113.0,41.2 113.0,34.3 113.0,41.7 113.1,37.2 113.1,44.7 113.1,40.5 113.1,37.0 113.2,45.8 113.2,44.8 113.2,38.2 113.2,47.0 113.2,39.7 113.3,39.6 113.3,41.8 113.3,37.4 113.3,39.0 113.4,40.4 113.4,49.0 113.4,48.8 113.4,39.9 113.4,49.4 113.5,41.0 113.5,43.2 113.5,45.7 113.5,42.8 113.6,53.5 113.6,42.5 113.6,35.3 113.6,47.9 113.6,39.2 113.7,39.8 113.7,28.7 113.7,46.4 113.7,45.5 113.8,45.4 113.8,46.3 113.8,49.9 113.8,41.2 113.8,46.2 113.9,37.7 113.9,39.6 113.9,46.8 113.9,43.4 114.0,34.7 114.0,43.3 114.0,40.6 114.0,37.3 114.1,43.7 114.1,39.5 114.1,33.6 114.1,35.9 114.1,50.5 114.2,33.9 114.2,42.7 114.2,44.6 114.2,44.8 114.3,35.4 114.3,40.0 114.3,42.3 114.3,45.6 114.3,38.4 114.4,35.7 114.4,46.7 114.4,47.2 114.4,43.5 114.5,38.6 114.5,43.7 114.5,42.2 114.5,45.9 114.5,35.4 114.6,42.3 114.6,40.9 114.6,36.1 114.6,42.8 114.7,41.9 114.7,39.7 114.7,43.8 114.7,34.6 114.8,41.5 114.8,44.0 114.8,43.2 114.8,47.2 114.8,35.7 114.9,34.2 114.9,43.0 114.9,44.1 114.9,52.6 115.0,45.0 115.0,37.4 115.0,46.0 115.0,37.6 115.0,34.4 115.1,54.5 115.1,43.6 115.1,45.5 115.1,44.8 115.2,51.1 115.2,43.4 115.2,48.1 115.2,36.8 115.2,34.9 115.3,49.2 115.3,49.5 115.3,44.6 115.3,43.2 115.4,42.9 115.4,38.5 115.4,49.8 115.4,45.4 115.4,44.6 115.5,44.0 115.5,47.4 115.5,44.6 115.5,45.9 115.6,36.2 115.6,44.7 115.6,53.2 115.6,39.5 115.7,41.5 115.7,46.7 115.7,47.0 115.7,45.3 115.7,34.0 115.8,44.7 115.8,36.2 115.8,38.0 115.8,45.0 115.9,40.7 115.9,46.3 115.9,54.9 115.9,46.2 115.9,45.9 116.0,37.7 116.0,39.0 116.0,36.9 116.0,39.6 116.1,36.8 116.1,39.0 116.1,41.3 116.1,37.3 116.1,35.2 116.2,35.5 116.2,44.7 116.2,42.7 116.2,47.6 116.3,47.7 116.3,40.7 116.3,45.8 116.3,35.1 116.4,54.0 116.4,48.5 116.4,41.3 116.4,36.6 116.4,44.4 116.5,33.0 116.5,38.5 116.5,46.3 116.5,42.9 116.6,40.0 116.6,47.3 116.6,37.3 116.6,44.0 116.6,40.0 116.7,38.3 116.7,44.9 116.7,37.5 116.7,52.2 116.8,39.6 116.8,52.7 116.8,37.1 116.8,45.7 116.8,36.5 116.9,35.8 116.9,43.4 116.9,46.1 116.9,36.2 117.0,48.7 117.0,38.6 117.0,43.3 117.0,44.6 117.1,45.7 117.1,33.6 117.1,50.9 117.1,45.6 117.1,40.6 117.2,37.6 117.2,34.2 117.2,35.9 117.2,45.5 117.3,41.1 117.3,37.1 117.3,40.1 117.3,50.7 117.3,41.1 117.4,39.9 117.4,49.7 117.4,45.2 117.4,43.1 117.5,39.8 117.5,35.0 117.5,37.0 117.5,40.5 117.5,41.8 117.6,44.7 117.6,45.7 117.6,44.1 117.6,44.1 117.7,37.8 117.7,32.0 117.7,40.3 117.7,38.1 117.7,39.7 117.8,41.6 117.8,36.7 117.8,37.4 117.8,42.5 117.9,43.6 117.9,39.7 117.9,45.6 117.9,41.9 118.0,37.9 118.0,43.3 118.0,52.6 118.0,39.7 118.0,49.0 118.1,50.1 118.1,50.7 118.1,39.0 118.1,53.3 118.2,43.7 118.2,41.9 118.2,42.0 118.2,46.2 118.2,43.4 118.3,42.3 118.3,49.7 118.3,39.5 118.3,37.9 118.4,47.2 118.4,46.8 118.4,48.8 118.4,37.8 118.4,48.7 118.5,45.7 118.5,52.2 118.5,37.0 118.5,44.4 118.6,41.9 118.6,35.3 118.6,39.7 118.6,49.0 118.7,41.0 118.7,39.7 118.7,47.8 118.7,48.4 118.7,48.4 118.8,39.4 118.8,43.1 118.8,48.6 118.8,40.1 118.9,39.6 118.9,47.6 118.9,51.4 118.9,37.6 118.9,30.8 119.0,36.1 119.0,38.3 119.0,42.8 119.0,46.6 119.1,42.8 119.1,40.0 119.1,44.3 119.1,38.7 119.1,43.3 119.2,40.3 119.2,56.2 119.2,47.7 119.2,39.3 119.3,38.5 119.3,41.4 119.3,35.3 119.3,39.9 119.3,39.9 119.4,48.1 119.4,41.5 119.4,39.6 119.4,36.9 119.5,37.7 119.5,43.3 119.5,42.6 119.5,49.4 119.6,40.5 119.6,49.1 119.6,45.0 119.6,43.7 119.6,33.6 119.7,37.2 119.7,47.5 119.7,50.9 119.7,44.8 119.8,47.7 119.8,41.7 119.8,41.9 119.8,40.5 119.8,48.8 119.9,45.6 119.9,42.7 119.9,42.2 119.9,46.7 120.0,45.5 120.0,39.7 120.0,52.6 120.0,45.2 120.0,44.0 120.1,51.4 120.1,49.1 120.1,43.5 120.1,46.7 120.2,38.5 120.2,40.7 120.2,32.5 120.2,50.2 120.3,34.4 120.3,47.5 120.3,39.8 120.3,39.0 120.3,43.0 120.4,45.4 120.4,47.1 120.4,53.0 120.4,45.9 120.5,48.5 120.5,41.0 120.5,47.7 120.5,44.9 120.5,41.8 120.6,43.6 120.6,43.8 120.6,45.1 120.6,46.2 120.7,41.6 120.7,40.4 120.7,48.0 120.7,35.6 120.7,41.0 120.8,52.1 120.8,31.5 120.8,40.7 120.8,47.7 120.9,35.9 120.9,56.9 120.9,31.6 120.9,51.5 120.9,52.2 121.0,48.9 121.0,43.2 121.0,46.1 121.0,39.8 121.1,48.4 121.1,38.6 121.1,42.9 121.1,49.4 121.2,38.7 121.2,42.5 121.2,45.2 121.2,37.6 121.2,50.3 121.3,46.1 121.3,36.7 121.3,44.2 121.3,40.5 121.4,41.1 121.4,44.8 121.4,40.8 121.4,49.4 121.4,40.9 121.5,49.5 121.5,44.3 121.5,48.8 121.5,41.8 121.6,41.9 121.6,38.7 121.6,47.5 121.6,49.3 121.6,55.3 121.7,51.1 121.7,45.8 121.7,43.5 121.7,46.6 121.8,44.5 121.8,52.0 121.8,49.4 121.8,40.4 121.9,41.1 121.9,51.6 121.9,46.2 121.9,43.5 121.9,50.7 122.0,42.7 122.0,43.3 122.0,42.4 122.0,34.7 122.1,49.1 122.1,38.6 122.1,41.8 122.1,41.0 122.1,48.4 122.2,44.4 122.2,44.8 122.2,36.2 122.2,44.3 122.3,37.3 122.3,46.4 122.3,46.7 122.3,44.7 122.3,55.2 122.4,47.5 122.4,47.9 122.4,45.6 122.4,43.9 122.5,49.8 122.5,50.5 122.5,38.3 122.5,50.3 122.6,47.5 122.6,49.8 122.6,47.3 122.6,38.6 122.6,39.0 122.7,54.2 122.7,46.2 122.7,37.8 122.7,46.8 122.8,43.2 122.8,35.6 122.8,33.4 122.8,36.9 122.8,46.4 122.9,44.8 122.9,43.8 122.9,46.5 122.9,48.1 123.0,34.4 123.0,43.6 123.0,40.9 123.0,38.8 123.0,42.3 123.1,44.5 123.1,43.8 123.1,37.7 123.1,42.7 123.2,55.4 123.2,39.8 123.2,36.6 123.2,46.6 123.2,48.2 123.3,47.6 123.3,39.5 123.3,50.3 123.3,41.2 123.4,39.5 123.4,42.2 123.4,44.7 123.4,48.9 123.5,48.4 123.5,45.2 123.5,50.0 123.5,45.7 123.5,49.9 123.6,38.2 123.6,37.3 123.6,49.3 123.6,38.3 123.7,43.8 123.7,44.9 123.7,42.9 123.7,43.1 123.7,52.5 123.8,32.7 123.8,49.9 123.8,57.1 123.8,45.5 123.9,45.3 123.9,49.1 123.9,54.7 123.9,39.4 123.9,45.9 124.0,44.5 124.0,48.3 124.0,46.3 124.0,48.9 124.1,43.4 124.1,45.8 124.1,42.1 124.1,42.2 124.2,44.8 124.2,44.8 124.2,39.6 124.2,53.6 124.2,44.9 124.3,38.6 124.3,51.2 124.3,41.8 124.3,48.2 124.4,45.5 124.4,46.9 124.4,46.5 124.4,42.7 124.4,45.9 124.5,56.0 124.5,34.3 124.5,46.0 124.5,47.9 124.6,40.4 124.6,38.8 124.6,56.7 124.6,43.9 124.6,56.3 124.7,48.5 124.7,46.2 124.7,48.2 124.7,49.0 124.8,51.8 124.8,48.0 124.8,46.6 124.8,46.7 124.8,52.7 124.9,50.0 124.9,40.8 124.9,42.6 124.9,47.6 125.0,42.7 125.0,44.0 125.0,41.0 125.0,44.6 125.1,48.1 125.1,51.0 125.1,46.0 125.1,56.5 125.1,45.6 125.2,58.7 125.2,51.1 125.2,48.5 125.2,43.5 125.3,33.3 125.3,45.2 125.3,46.9 125.3,55.8 125.3,39.0 125.4,55.7 125.4,44.8 125.4,49.7 125.4,33.4 125.5,46.8 125.5,44.3 125.5,49.6 125.5,46.6 125.5,40.3 125.6,50.9 125.6,49.7 125.6,49.2 125.6,51.3 125.7,51.8 125.7,46.1 125.7,39.3 125.7,39.1 125.8,53.1 125.8,49.8 125.8,46.7 125.8,44.0 125.8,46.4 125.9,46.4 125.9,44.5 125.9,42.7 125.9,57.3 126.0,47.4 126.0,43.2 126.0,39.7 126.0,42.6 126.0,50.0 126.1,50.2 126.1,45.2 126.1,46.6 126.1,44.8 126.2,40.7 126.2,53.0 126.2,48.3 126.2,59.0 126.2,42.5 126.3,45.7 126.3,50.9 126.3,45.2 126.3,39.4 126.4,41.6 126.4,47.0 126.4,48.2 126.4,46.0 126.5,51.6 126.5,51.5 126.5,48.1 126.5,46.6 126.5,45.2 126.6,49.3 126.6,51.2 126.6,46.9 126.6,48.8 126.7,44.9 126.7,39.4 126.7,41.5 126.7,50.5 126.7,48.9 126.8,54.7 126.8,46.9 126.8,51.0 126.8,53.4 126.9,51.7 126.9,43.6 126.9,45.7 126.9,47.3 126.9,41.7 127.0,49.1 127.0,51.9 127.0,44.3 127.0,56.8 127.1,45.2 127.1,45.7 127.1,45.5 127.1,43.1 127.1,48.9 127.2,46.9 127.2,55.2 127.2,49.9 127.2,49.5 127.3,45.7 127.3,39.6 127.3,46.4 127.3,42.5 127.4,51.7 127.4,46.7 127.4,55.3 127.4,50.6 127.4,51.1 127.5,48.1 127.5,48.0 127.5,50.2 127.5,51.6 127.6,43.3 127.6,49.4 127.6,59.7 127.6,46.5 127.6,45.7 127.7,43.4 127.7,39.6 127.7,53.0 127.7,47.3 127.8,48.5 127.8,56.4 127.8,59.8 127.8,42.5 127.8,52.4 127.9,50.2 127.9,49.1 127.9,49.5 127.9,47.0 128.0,55.2 128.0,50.2 128.0,48.9 128.0,53.5 128.1,51.7 128.1,49.5 128.1,48.8 128.1,56.1 128.1,49.8 128.2,46.7 128.2,42.8 128.2,45.4 128.2,41.9 128.3,47.8 128.3,48.5 128.3,36.8 128.3,47.3 128.3,50.6 128.4,48.1 128.4,42.4 128.4,53.7 128.4,43.7 128.5,41.0 128.5,41.8 128.5,47.2 128.5,52.3 128.5,53.3 128.6,48.4 128.6,41.3 128.6,44.0 128.6,42.8 128.7,46.5 128.7,38.3 128.7,48.0 128.7,50.7 128.7,46.7 128.8,49.8 128.8,42.6 128.8,40.0 128.8,44.2 128.9,53.3 128.9,52.7 128.9,45.1 128.9,53.6 129.0,45.8 129.0,55.2 129.0,50.0 129.0,45.2 129.0,51.6 129.1,43.6 129.1,42.8 129.1,40.2 129.1,48.9 129.2,47.3 129.2,47.2 129.2,45.5 129.2,54.9 129.2,45.4 129.3,43.9 129.3,54.0 129.3,54.9 129.3,49.4 129.4,38.8 129.4,44.6 129.4,50.8 129.4,47.8 129.4,55.6 129.5,40.7 129.5,51.2 129.5,44.5 129.5,54.5 129.6,47.3 129.6,53.0 129.6,44.4 129.6,40.6 129.7,42.1 129.7,44.7 129.7,42.6 129.7,53.9 129.7,54.6 129.8,49.2 129.8,42.5 129.8,47.2 129.8,44.3 129.9,55.3 129.9,49.5 129.9,50.4 129.9,45.8 129.9,37.6 130.0,44.0 130.0,42.2 130.0,49.8 130.0,48.4 130.1,43.8 130.1,46.0 130.1,55.9 130.1,43.1 130.1,43.3 130.2,46.8 130.2,44.4 130.2,45.8 130.2,50.7 130.3,56.8 130.3,38.9 130.3,47.9 130.3,48.2 130.4,47.6 130.4,47.1 130.4,46.3 130.4,53.2 130.4,45.7 130.5,47.4 130.5,48.1 130.5,48.7 130.5,47.2 130.6,53.2 130.6,48.1 130.6,49.0 130.6,47.9 130.6,43.0 130.7,43.9 130.7,42.8 130.7,49.2 130.7,44.6 130.8,42.8 130.8,49.4 130.8,50.9 130.8,39.3 130.8,56.9 130.9,48.4 130.9,47.7 130.9,53.7 130.9,48.6 131.0,45.2 131.0,59.5 131.0,42.8 131.0,47.8 131.0,52.6 131.1,42.9 131.1,47.8 131.1,50.3 131.1,60.6 131.2,43.8 131.2,48.1 131.2,51.8 131.2,48.8 131.3,42.3 131.3,50.5 131.3,49.0 131.3,50.7 131.3,54.2 131.4,53.6 131.4,50.5 131.4,50.1 131.4,42.9 131.5,47.8 131.5,49.6 131.5,46.5 131.5,49.0 131.5,44.3 131.6,56.4 131.6,59.5 131.6,46.6 131.6,50.6 131.7,47.4 131.7,55.0 131.7,50.8 131.7,49.0 131.7,47.5 131.8,49.3 131.8,43.5 131.8,52.1 131.8,45.0 131.9,51.4 131.9,49.3 131.9,54.3 131.9,48.6 132.0,53.9 132.0,44.0 132.0,51.8 132.0,47.6 132.0,49.7 132.1,49.1 132.1,53.5 132.1,38.4 132.1,50.4 132.2,41.1 132.2,54.9 132.2,38.7 132.2,43.7 132.2,40.3 132.3,57.2 132.3,42.2 132.3,49.4 132.3,46.1 132.4,39.7 132.4,47.1 132.4,52.3 132.4,47.9 132.4,53.7 132.5,47.1 132.5,48.9 132.5,47.0 132.5,50.7 132.6,58.6 132.6,50.8 132.6,49.9 132.6,45.8 132.6,45.1 132.7,56.5 132.7,43.3 132.7,44.3 132.7,48.5 132.8,46.8 132.8,59.0 132.8,37.0 132.8,50.9 132.9,52.7 132.9,43.3 132.9,45.8 132.9,51.3 132.9,57.4 133.0,44.4 133.0,41.0 133.0,54.1 133.0,56.9 133.1,47.4 133.1,37.8 133.1,56.6 133.1,48.1 133.1,54.9 133.2,49.0 133.2,47.3 133.2,46.9 133.2,56.7 133.3,56.5 133.3,38.3 133.3,44.5 133.3,58.3 133.3,47.4 133.4,42.3 133.4,49.3 133.4,48.7 133.4,48.8 133.5,46.8 133.5,47.7 133.5,47.0 133.5,51.0 133.6,45.2 133.6,47.9 133.6,48.6 133.6,56.0 133.6,51.3 133.7,48.8 133.7,52.1 133.7,51.5 133.7,55.0 133.8,52.0 133.8,58.6 133.8,56.3 133.8,49.2 133.8,47.3 133.9,54.0 133.9,52.1 133.9,49.0 133.9,41.9 134.0,40.1 134.0,51.3 134.0,53.5 134.0,53.6 134.0,43.0 134.1,54.8 134.1,46.8 134.1,51.5 134.1,51.7 134.2,45.5 134.2,46.6 134.2,39.0 134.2,44.9 134.2,40.4 134.3,51.9 134.3,49.9 134.3,54.3 134.3,51.5 134.4,46.4 134.4,51.4 134.4,47.7 134.4,52.8 134.5,51.3 134.5,44.7 134.5,49.7 134.5,50.0 134.5,48.2 134.6,54.3 134.6,58.5 134.6,47.9 134.6,48.0 134.7,38.3 134.7,49.1 134.7,47.6 134.7,38.8 134.7,51.3 134.8,52.8 134.8,46.1 134.8,47.9 134.8,44.9 134.9,53.8 134.9,42.1 134.9,48.3 134.9,59.9 134.9,50.2 135.0,52.3 135.0,49.2 135.0,43.9 135.0,49.8 135.1,52.0 135.1,44.7 135.1,51.7 135.1,56.3 135.2,55.4 135.2,41.9 135.2,45.0 135.2,41.8 135.2,55.5 135.3,53.1 135.3,53.6 135.3,45.5 135.3,44.1 135.4,50.5 135.4,50.6 135.4,45.7 135.4,50.8 135.4,53.4 135.5,51.3 135.5,44.8 135.5,39.3 135.5,48.8 135.6,51.0 135.6,48.8 135.6,48.0 135.6,46.6 135.6,53.8 135.7,49.9 135.7,50.8 135.7,45.2 135.7,47.0 135.8,51.1 135.8,45.1 135.8,43.8 135.8,48.6 135.9,56.4 135.9,51.2 135.9,57.7 135.9,49.6 135.9,48.7 136.0,43.2 136.0,47.4 136.0,57.7 136.0,52.0 136.1,54.1 136.1,54.0 136.1,50.3 136.1,49.3 136.1,51.0 136.2,53.8 136.2,52.7 136.2,52.9 136.2,51.2 136.3,46.5 136.3,49.1 136.3,45.6 136.3,55.6 136.3,39.7 136.4,49.4 136.4,62.7 136.4,48.7 136.4,44.7 136.5,50.4 136.5,57.1 136.5,49.7 136.5,53.7 136.5,51.0 136.6,48.6 136.6,63.3 136.6,50.9 136.6,47.8 136.7,48.1 136.7,52.5 136.7,52.7 136.7,54.6 136.8,51.3 136.8,43.3 136.8,53.4 136.8,49.1 136.8,49.2 136.9,43.1 136.9,47.7 136.9,47.0 136.9,50.5 137.0,43.3 137.0,51.0 137.0,51.4 137.0,45.0 137.0,47.5 137.1,46.4 137.1,55.4 137.1,38.0 137.1,49.0 137.2,42.3 137.2,48.6 137.2,55.1 137.2,47.6 137.2,51.5 137.3,46.5 137.3,60.8 137.3,55.5 137.3,56.6 137.4,44.1 137.4,45.2 137.4,56.4 137.4,49.9 137.5,49.6 137.5,52.6 137.5,44.5 137.5,54.9 137.5,51.0 137.6,53.4 137.6,47.5 137.6,53.6 137.6,47.4 137.7,55.9 137.7,56.8 137.7,55.7 137.7,53.7 137.7,54.3 137.8,38.2 137.8,55.3 137.8,49.6 137.8,51.5 137.9,49.6 137.9,44.0 137.9,48.3 137.9,54.5 137.9,58.4 138.0,47.9 138.0,46.5 138.0,58.6 138.0,46.6 138.1,61.8 138.1,51.4 138.1,46.6 138.1,56.2 138.1,59.9 138.2,43.8 138.2,59.2 138.2,49.8 138.2,58.8 138.3,49.3 138.3,43.2 138.3,53.8 138.3,56.0 138.4,62.0 138.4,60.1 138.4,54.8 138.4,50.1 138.4,48.6 138.5,49.8 138.5,47.1 138.5,49.9 138.5,38.5 138.6,52.3 138.6,51.2 138.6,64.2 138.6,55.3 138.6,48.9 138.7,54.3 138.7,45.1 138.7,48.3 138.7,41.9 138.8,58.8 138.8,54.5 138.8,45.4 138.8,51.1 138.8,56.3 138.9,54.0 138.9,53.4 138.9,47.1 138.9,48.2 139.0,52.0 139.0,56.2 139.0,47.3 139.0,45.8 139.1,57.4 139.1,46.8 139.1,57.1 139.1,52.8 139.1,56.1 139.2,60.5 139.2,55.1 139.2,55.6 139.2,46.9 139.3,48.1 139.3,54.9 139.3,59.5 139.3,58.8 139.3,63.5 139.4,53.3 139.4,52.7 139.4,56.8 139.4,51.8 139.5,51.4 139.5,46.3 139.5,56.8 139.5,46.2 139.5,54.4 139.6,44.5 139.6,57.4 139.6,46.5 139.6,56.1 139.7,43.6 139.7,49.5 139.7,57.8 139.7,47.7 139.8,52.2 139.8,49.4 139.8,40.0 139.8,53.4 139.8,54.1 139.9,46.2 139.9,54.8 139.9,47.8 139.9,46.8 140.0,51.9 140.0,48.4 140.0,63.7 140.0,44.0 140.0,55.7 140.1,57.0 140.1,41.8 140.1,43.1 140.1,54.9 140.2,49.5 140.2,54.0 140.2,57.8 140.2,50.1 140.2,46.6 140.3,39.2 140.3,53.1 140.3,47.3 140.3,53.7 140.4,53.3 140.4,45.0 140.4,60.9 140.4,57.6 140.4,56.5 140.5,46.0 140.5,50.0 140.5,49.3 140.5,50.0 140.6,46.4 140.6,54.4 140.6,53.3 140.6,54.1 140.7,49.6 140.7,58.8 140.7,53.2 140.7,39.4 140.7,48.9 140.8,51.9 140.8,57.2 140.8,50.7 140.8,51.0 140.9,48.9 140.9,55.7 140.9,50.0 140.9,49.2 140.9,48.5 141.0,55.2 141.0,49.6 141.0,43.7 141.0,55.5 141.1,48.8 141.1,54.2 141.1,54.3 141.1,58.5 141.1,57.7 141.2,49.4 141.2,51.6 141.2,45.8 141.2,61.0 141.3,54.7 141.3,59.6 141.3,50.8 141.3,42.0 141.4,60.3 141.4,53.0 141.4,53.2 141.4,52.8 141.4,55.8 141.5,55.2 141.5,44.4 141.5,58.1 141.5,49.8 141.6,50.2 141.6,61.4 141.6,57.3 141.6,50.8 141.6,43.1 141.7,53.4 141.7,55.4 141.7,52.2 141.7,46.2 141.8,48.6 141.8,46.2 141.8,53.8 141.8,56.9 141.8,57.9 141.9,48.9 141.9,53.9 141.9,55.5 141.9,50.1 142.0,52.0 142.0,63.6 142.0,53.8 142.0,57.3 142.0,50.5 142.1,53.0 142.1,44.0 142.1,52.6 142.1,58.9 142.2,63.6 142.2,58.9 142.2,56.3 142.2,53.1 142.3,49.8 142.3,52.0 142.3,56.0 142.3,48.8 142.3,57.7 142.4,47.8 142.4,43.8 142.4,47.7 142.4,44.4 142.5,45.9 142.5,58.7 142.5,51.9 142.5,54.1 142.5,58.9 142.6,59.4 142.6,50.4 142.6,59.8 142.6,55.0 142.7,53.0 142.7,55.3 142.7,45.7 142.7,49.0 142.7,52.5 142.8,56.2 142.8,51.1 142.8,52.4 142.8,58.0 142.9,60.3 142.9,57.0 142.9,59.6 142.9,51.0 143.0,51.5 143.0,54.8 143.0,51.6 143.0,50.5 143.0,61.6 143.1,52.1 143.1,48.2 143.1,55.7 143.1,62.6 143.2,53.6 143.2,59.5 143.2,51.0 143.2,50.7 143.2,49.7 143.3,52.5 143.3,62.7 143.3,47.3 143.3,61.7 143.4,48.1 143.4,52.1 143.4,57.6 143.4,56.5 143.4,54.8 143.5,44.9 143.5,55.2 143.5,48.1 143.5,66.2 143.6,52.3 143.6,54.3 143.6,47.5 143.6,50.9 143.7,46.8 143.7,58.4 143.7,52.1 143.7,56.3 143.7,49.9 143.8,50.9 143.8,60.1 143.8,48.5 143.8,44.2 143.9,55.6 143.9,47.6 143.9,51.2 143.9,58.2 143.9,49.3 144.0,58.0 144.0,50.0 144.0,61.2 144.0,60.4 144.1,51.1 144.1,52.5 144.1,49.3 144.1,54.6 144.1,59.5 144.2,46.2 144.2,58.3 144.2,46.8 144.2,49.2 144.3,44.5 144.3,64.5 144.3,54.0 144.3,54.9 144.3,50.2 144.4,59.2 144.4,42.9 144.4,53.8 144.4,65.0 144.5,51.8 144.5,53.8 144.5,57.2 144.5,49.6 144.6,53.9 144.6,58.7 144.6,54.8 144.6,55.7 144.6,52.0 144.7,55.4 144.7,54.1 144.7,61.3 144.7,57.5 144.8,52.6 144.8,41.3 144.8,57.5 144.8,57.7 144.8,49.2 144.9,43.6 144.9,48.0 144.9,58.7 144.9,48.4 145.0,51.6 145.0,55.1 145.0,60.2 145.0,53.9 145.0,53.4 145.1,51.1 145.1,62.4 145.1,59.5 145.1,53.5 145.2,46.8 145.2,49.9 145.2,57.0 145.2,50.3 145.3,58.6 145.3,55.9 145.3,55.6 145.3,57.4 145.3,56.6 145.4,49.7 145.4,52.4 145.4,66.1 145.4,47.9 145.5,51.7 145.5,59.6 145.5,53.3 145.5,50.0 145.5,47.4 145.6,56.9 145.6,59.4 145.6,61.4 145.6,54.5 145.7,59.6 145.7,48.9 145.7,55.1 145.7,50.7 145.7,55.1 145.8,58.1 145.8,59.8 145.8,49.2 145.8,60.8 145.9,51.8 145.9,49.0 145.9,53.4 145.9,46.8 145.9,54.3 146.0,55.8 146.0,53.3 146.0,57.1 146.0,52.7 146.1,54.4 146.1,47.0 146.1,54.6 146.1,50.0 146.2,52.1 146.2,53.9 146.2,55.4 146.2,46.0 146.2,46.4 146.3,52.9 146.3,56.9 146.3,56.3 146.3,59.1 146.4,61.2 146.4,57.0 146.4,54.4 146.4,49.2 146.4,49.7 146.5,52.1 146.5,55.9 146.5,55.7 146.5,54.6 146.6,53.8 146.6,57.8 146.6,55.7 146.6,56.1 146.6,56.2 146.7,51.8 146.7,49.3 146.7,57.1 146.7,56.8 146.8,53.5 146.8,52.5 146.8,66.4 146.8,50.8 146.9,53.6 146.9,56.1 146.9,48.8 146.9,55.3 146.9,64.0 147.0,59.5 147.0,58.0 147.0,57.8 147.0,55.3 147.1,59.7 147.1,54.0 147.1,52.6 147.1,55.3 147.1,59.5 147.2,56.5 147.2,58.3 147.2,44.4 147.2,61.0 147.3,66.9 147.3,61.7 147.3,53.2 147.3,50.5 147.3,56.3 147.4,49.8 147.4,58.6 147.4,52.2 147.4,59.9 147.5,61.9 147.5,44.5 147.5,56.4 147.5,51.4 147.5,47.7 147.6,51.8 147.6,53.9 147.6,60.3 147.6,47.2 147.7,60.4 147.7,65.4 147.7,58.1 147.7,57.8 147.8,55.0 147.8,49.0 147.8,57.8 147.8,57.0 147.8,58.8 147.9,68.0 147.9,58.8 147.9,57.3 147.9,63.2 148.0,48.2 148.0,49.3 148.0,53.2 148.0,51.8 148.0,58.7 148.1,53.5 148.1,64.1 148.1,63.0 148.1,59.2 148.2,53.2 148.2,58.4 148.2,59.4 148.2,49.7 148.2,57.0 148.3,58.9 148.3,56.4 148.3,63.4 148.3,61.5 148.4,51.0 148.4,55.9 148.4,51.0 148.4,58.3 148.5,50.9 148.5,60.1 148.5,57.3 148.5,60.3 148.5,54.6 148.6,47.9 148.6,64.5 148.6,54.5 148.6,62.5 148.7,57.6 148.7,58.9 148.7,64.8 148.7,57.2 148.7,62.6 148.8,47.8 148.8,59.9 148.8,54.2 148.8,54.8 148.9,55.5 148.9,57.3 148.9,64.0 148.9,46.0 148.9,55.7 149.0,51.8 149.0,61.5 149.0,53.4 149.0,57.9 149.1,53.5 149.1,59.0 149.1,60.8 149.1,53.5 149.2,55.9 149.2,48.3 149.2,57.2 149.2,60.0 149.2,52.8 149.3,61.4 149.3,45.0 149.3,46.1 149.3,48.5 149.4,53.2 149.4,55.8 149.4,55.3 149.4,55.4 149.4,59.4 149.5,53.3 149.5,49.2 149.5,49.3 149.5,66.6 149.6,43.7 149.6,54.9 149.6,63.3 149.6,58.3 149.6,51.5 149.7,55.8 149.7,60.3 149.7,62.1 149.7,51.2 149.8,59.8 149.8,57.2 149.8,61.6 149.8,63.0 149.8,54.1 149.9,48.4 149.9,57.9 149.9,65.1 149.9,59.5 150.0,57.1 150.0,68.3 150.0,50.6 150.0,60.6 150.1,53.0 150.1,56.2 150.1,56.4 150.1,63.8 150.1,51.2 150.2,53.3 150.2,47.8 150.2,58.5 150.2,53.7 150.3,58.2 150.3,50.5 150.3,54.2 150.3,61.4 150.3,55.2 150.4,59.3 150.4,58.8 150.4,54.3 150.4,48.1 150.5,61.2 150.5,57.0 150.5,61.2 150.5,45.8 150.5,47.6 150.6,45.1 150.6,51.7 150.6,61.6 150.6,59.1 150.7,56.0 150.7,56.9 150.7,60.1 150.7,54.7 150.8,58.3 150.8,57.0 150.8,45.0 150.8,54.3 150.8,63.3 150.9,54.3 150.9,55.6 150.9,53.2 150.9,53.8 151.0,62.1 151.0,55.0 151.0,51.1 151.0,43.5 151.0,53.4 151.1,46.2 151.1,47.0 151.1,60.5 151.1,60.1 151.2,46.5 151.2,60.8 151.2,58.8 151.2,52.4 151.2,60.2 151.3,48.1 151.3,50.3 151.3,49.1 151.3,50.8 151.4,61.0 151.4,49.6 151.4,50.6 151.4,51.6 151.4,57.5 151.5,54.8 151.5,61.0 151.5,52.9 151.5,49.9 151.6,54.0 151.6,56.8 151.6,51.8 151.6,58.0 151.7,65.9 151.7,53.6 151.7,56.8 151.7,63.6 151.7,53.3 151.8,52.2 151.8,51.0 151.8,58.7 151.8,59.3 151.9,55.8 151.9,56.8 151.9,63.2 151.9,61.1 151.9,49.4 152.0,56.6 152.0,57.2 152.0,60.4 152.0,55.5 152.1,53.3 152.1,54.3 152.1,47.5 152.1,56.5 152.1,53.6 152.2,59.1 152.2,51.4 152.2,54.4 152.2,51.6 152.3,51.2 152.3,60.3 152.3,54.3 152.3,59.0 152.4,50.9 152.4,57.2 152.4,48.0 152.4,54.3 152.4,54.1 152.5,59.7 152.5,57.7 152.5,55.8 152.5,61.1 152.6,57.7 152.6,59.5 152.6,60.7 152.6,56.4 152.6,55.3 152.7,58.5 152.7,54.7 152.7,58.8 152.7,62.5 152.8,61.2 152.8,54.9 152.8,50.2 152.8,56.6 152.8,56.2 152.9,62.6 152.9,54.9 152.9,55.8 152.9,60.7 153.0,54.4 153.0,56.1 153.0,65.7 153.0,64.6 153.1,60.2 153.1,58.3 153.1,52.0 153.1,59.8 153.1,57.3 153.2,58.1 153.2,54.3 153.2,56.9 153.2,56.1 153.3,58.6 153.3,64.4 153.3,58.9 153.3,48.5 153.3,52.0 153.4,48.9 153.4,53.0 153.4,59.9 153.4,59.1 153.5,54.0 153.5,58.5 153.5,53.2 153.5,49.8 153.5,49.9 153.6,52.7 153.6,64.5 153.6,50.2 153.6,63.6 153.7,64.0 153.7,56.2 153.7,56.9 153.7,54.0 153.7,57.1 153.8,60.6 153.8,57.3 153.8,62.4 153.8,63.3 153.9,59.0 153.9,58.9 153.9,56.9 153.9,59.0 154.0,51.5 154.0,59.4 154.0,58.3 154.0,52.9 154.0,68.4 154.1,52.3 154.1,52.8 154.1,58.8 154.1,47.4 154.2,53.3 154.2,49.5 154.2,52.4 154.2,56.7 154.2,59.0 154.3,63.1 154.3,61.5 154.3,63.5 154.3,60.4 154.4,55.0 154.4,63.2 154.4,54.9 154.4,54.3 154.4,65.3 154.5,61.5 154.5,58.6 154.5,61.4 154.5,62.0 154.6,50.5 154.6,57.0 154.6,51.4 154.6,58.2 154.7,54.1 154.7,64.5 154.7,60.2 154.7,53.4 154.7,57.5 154.8,51.3 154.8,57.8 154.8,60.4 154.8,59.0 154.9,47.7 154.9,55.9 154.9,60.2 154.9,59.2 154.9,63.6 155.0,51.0 155.0,60.4 155.0,54.3 155.0,58.7 155.1,59.8 155.1,61.2 155.1,54.7 155.1,58.7 155.1,51.7 155.2,50.4 155.2,60.6 155.2,57.5 155.2,49.4 155.3,53.4 155.3,57.9 155.3,65.8 155.3,63.2 155.3,61.9 155.4,48.6 155.4,57.3 155.4,60.3 155.4,59.9 155.5,60.0 155.5,56.6 155.5,66.9 155.5,65.5 155.6,57.4 155.6,52.8 155.6,68.5 155.6,55.0 155.6,64.1 155.7,67.8 155.7,53.1 155.7,59.4 155.7,56.2 155.8,60.6 155.8,59.6 155.8,68.0 155.8,61.0 155.8,57.9 155.9,63.8 155.9,56.6 155.9,56.1 155.9,69.6 156.0,53.8 156.0,55.5 156.0,58.3 156.0,52.6 156.0,47.2 156.1,63.5 156.1,54.0 156.1,55.3 156.1,56.2 156.2,53.0 156.2,52.6 156.2,59.0 156.2,70.5 156.3,62.0 156.3,62.0 156.3,50.4 156.3,58.1 156.3,52.1 156.4,62.2 156.4,57.0 156.4,58.4 156.4,57.8 156.5,55.2 156.5,50.4 156.5,61.2 156.5,51.1 156.5,52.2 156.6,56.7 156.6,54.6 156.6,59.6 156.6,63.5 156.7,59.6 156.7,59.3 156.7,58.5 156.7,62.8 156.7,48.8 156.8,60.3 156.8,53.5 156.8,52.0 156.8,58.4 156.9,56.4 156.9,61.4 156.9,64.1 156.9,46.4 156.9,58.1 157.0,68.6 157.0,62.9 157.0,65.9 157.0,59.0 157.1,51.1 157.1,52.7 157.1,62.2 157.1,63.5 157.2,54.7 157.2,57.1 157.2,59.9 157.2,49.5 157.2,56.7 157.3,66.9 157.3,69.9 157.3,58.0 157.3,68.1 157.4,55.9 157.4,54.4 157.4,47.0 157.4,63.6 157.4,56.7 157.5,70.7 157.5,60.4 157.5,59.6 157.5,49.3 157.6,66.4 157.6,56.8 157.6,57.9 157.6,47.3 157.6,63.5 157.7,63.8 157.7,55.6 157.7,59.2 157.7,60.8 157.8,63.7 157.8,59.3 157.8,67.7 157.8,57.5 157.9,55.7 157.9,56.4 157.9,46.2 157.9,54.7 157.9,64.1 158.0,60.2 158.0,54.6 158.0,60.7 158.0,48.4 158.1,57.4 158.1,61.6 158.1,62.5 158.1,54.9 158.1,63.7 158.2,68.6 158.2,56.7 158.2,62.8 158.2,50.9 158.3,48.8 158.3,62.2 158.3,59.2 158.3,60.0 158.3,56.0 158.4,57.5 158.4,63.2 158.4,67.9 158.4,57.9 158.5,50.5 158.5,65.7 158.5,62.2 158.5,62.6 158.6,60.1 158.6,71.1 158.6,59.5 158.6,61.8 158.6,49.6 158.7,56.2 158.7,55.6 158.7,59.0 158.7,61.0 158.8,55.3 158.8,68.2 158.8,53.7 158.8,56.9 158.8,60.5 158.9,52.8 158.9,62.2 158.9,62.5 158.9,57.8 159.0,69.2 159.0,59.7 159.0,60.8 159.0,54.3 159.0,50.6 159.1,56.1 159.1,57.7 159.1,57.0 159.1,63.3 159.2,47.0 159.2,53.5 159.2,49.9 159.2,66.3 159.2,56.5 159.3,56.7 159.3,53.7 159.3,64.1 159.3,57.3 159.4,60.6 159.4,48.9 159.4,65.5 159.4,61.5 159.5,62.3 159.5,65.9 159.5,58.5 159.5,58.6 159.5,63.2 159.6,61.7 159.6,58.3 159.6,59.8 159.6,56.9 159.7,63.3 159.7,64.4 159.7,59.6 159.7,69.3 159.7,51.6 159.8,58.4 159.8,68.5 159.8,57.5 159.8,51.3 159.9,66.9 159.9,62.5 159.9,53.5 159.9,63.7 159.9,54.4 160.0,52.7 160.0,58.9 160.0,57.2 160.0,54.0 160.1,57.8 160.1,54.5 160.1,60.1 160.1,59.6 160.2,63.6 160.2,57.4 160.2,52.9 160.2,53.0 160.2,58.5 160.3,67.8 160.3,64.2 160.3,56.5 160.3,64.7 160.4,53.8 160.4,65.1 160.4,57.9 160.4,63.9 160.4,63.1 160.5,58.5 160.5,61.6 160.5,54.4 160.5,59.6 160.6,65.6 160.6,73.1 160.6,63.6 160.6,60.4 160.6,54.7 160.7,65.5 160.7,51.4 160.7,55.8 160.7,61.9 160.8,53.8 160.8,68.0 160.8,65.7 160.8,57.1 160.8,57.2 160.9,53.2 160.9,52.8 160.9,62.4 160.9,63.3 161.0,61.9 161.0,61.5 161.0,57.2 161.0,62.0 161.1,52.5 161.1,60.2 161.1,67.8 161.1,67.1 161.1,57.8 161.2,58.5 161.2,67.4 161.2,69.5 161.2,52.4 161.3,58.0 161.3,61.5 161.3,66.6 161.3,55.9 161.3,63.6 161.4,58.7 161.4,72.6 161.4,62.5 161.4,59.6 161.5,58.6 161.5,65.8 161.5,63.9 161.5,54.7 161.5,61.5 161.6,53.4 161.6,56.4 161.6,53.6 161.6,53.5 161.7,56.8 161.7,55.3 161.7,63.2 161.7,64.6 161.8,59.2 161.8,54.6 161.8,64.6 161.8,49.9 161.8,50.4 161.9,64.3 161.9,63.9 161.9,65.6 161.9,59.4 162.0,54.0 162.0,57.9 162.0,63.5 162.0,56.6 162.0,56.9 162.1,53.3 162.1,54.5 162.1,65.0 162.1,63.0 162.2,54.6 162.2,55.0 162.2,57.7 162.2,63.5 162.2,54.6 162.3,59.8 162.3,49.5 162.3,54.1 162.3,62.9 162.4,65.4 162.4,54.7 162.4,56.7 162.4,64.9 162.5,58.7 162.5,57.9 162.5,63.4 162.5,61.8 162.5,66.5 162.6,64.9 162.6,57.8 162.6,60.2 162.6,60.5 162.7,53.7 162.7,55.7 162.7,65.9 162.7,52.6 162.7,66.0 162.8,62.3 162.8,60.1 162.8,63.7 162.8,63.4 162.9,67.2 162.9,58.8 162.9,59.7 162.9,59.6 162.9,70.7 163.0,65.9 163.0,56.1 163.0,59.2 163.0,57.3 163.1,61.0 163.1,62.1 163.1,72.9 163.1,51.5 163.1,66.4 163.2,63.3 163.2,57.4 163.2,60.3 163.2,58.5 163.3,61.3 163.3,66.3 163.3,53.2 163.3,67.9 163.4,59.2 163.4,68.9 163.4,63.3 163.4,67.6 163.4,64.1 163.5,66.8 163.5,61.5 163.5,56.9 163.5,64.7 163.6,64.9 163.6,72.1 163.6,50.8 163.6,60.2 163.6,66.8 163.7,54.7 163.7,60.1 163.7,72.3 163.7,68.7 163.8,56.7 163.8,68.7 163.8,67.5 163.8,65.4 163.8,63.3 163.9,62.6 163.9,56.8 163.9,58.7 163.9,65.2 164.0,62.1 164.0,71.0 164.0,59.7 164.0,48.9 164.1,59.7 164.1,62.9 164.1,63.4 164.1,61.8 164.1,57.2 164.2,69.3 164.2,58.0 164.2,65.2 164.2,60.0 164.3,55.3 164.3,68.9 164.3,48.7 164.3,57.1 164.3,63.8 164.4,59.7 164.4,65.5 164.4,61.1 164.4,59.3 164.5,72.9 164.5,60.5 164.5,60.8 164.5,56.0 164.5,57.8 164.6,65.1 164.6,64.6 164.6,61.7 164.6,58.1 164.7,65.3 164.7,52.9 164.7,60.0 164.7,60.4 164.7,57.4 164.8,62.6 164.8,58.3 164.8,57.6 164.8,71.2 164.9,65.7 164.9,68.1 164.9,62.1 164.9,66.9 165.0,65.9 165.0,68.2 165.0,74.2 165.0,60.7 165.0,63.3 165.1,61.7 165.1,49.0 165.1,54.7 165.1,62.1 165.2,65.3 165.2,59.0 165.2,67.9 165.2,68.7 165.2,59.9 165.3,69.4 165.3,71.2 165.3,64.5 165.3,57.0 165.4,69.7 165.4,61.3 165.4,60.2 165.4,62.7 165.4,59.3 165.5,67.7 165.5,66.2 165.5,68.5 165.5,65.2 165.6,58.1 165.6,61.4 165.6,66.8 165.6,60.1 165.7,75.2 165.7,61.0 165.7,59.2 165.7,68.2 165.7,66.2 165.8,62.1 165.8,61.1 165.8,64.5 165.8,66.6 165.9,66.3 165.9,60.8 165.9,64.6 165.9,66.7 165.9,66.3 166.0,49.4 166.0,57.7 166.0,58.4 166.0,61.2 166.1,63.3 166.1,67.2 166.1,65.6 166.1,61.8 166.1,62.6 166.2,71.6 166.2,59.3 166.2,64.0 166.2,70.6 166.3,64.3 166.3,51.9 166.3,64.4 166.3,60.5 166.4,61.9 166.4,68.0 166.4,65.0 166.4,61.2 166.4,67.2 166.5,64.8 166.5,63.1 166.5,64.1 166.5,63.9 166.6,60.8 166.6,60.2 166.6,62.7 166.6,57.7 166.6,56.1 166.7,69.4 166.7,61.4 166.7,62.5 166.7,62.0 166.8,62.8 166.8,62.8 166.8,63.0 166.8,58.5 166.8,67.6 166.9,59.1 166.9,68.1 166.9,52.8 166.9,57.2 167.0,67.9 167.0,62.0 167.0,59.3 167.0,64.7 167.0,57.4 167.1,63.2 167.1,51.3 167.1,60.5 167.1,59.5 167.2,65.6 167.2,67.4 167.2,58.4 167.2,71.2 167.3,59.8 167.3,52.2 167.3,50.5 167.3,70.9 167.3,62.5 167.4,59.6 167.4,59.0 167.4,57.3 167.4,70.0 167.5,62.5 167.5,72.3 167.5,61.9 167.5,50.8 167.5,67.4 167.6,61.1 167.6,61.8 167.6,71.2 167.6,61.7 167.7,69.1 167.7,63.0 167.7,59.2 167.7,65.7 167.7,60.0 167.8,69.5 167.8,68.1 167.8,63.4 167.8,66.3 167.9,66.1 167.9,61.7 167.9,67.8 167.9,62.0 168.0,66.4 168.0,58.2 168.0,63.7 168.0,65.4 168.0,59.1 168.1,61.1 168.1,60.5 168.1,67.0 168.1,59.5 168.2,65.5 168.2,71.2 168.2,65.1 168.2,54.9 168.2,64.0 168.3,68.7 168.3,61.8 168.3,69.1 168.3,66.6 168.4,65.5 168.4,62.0 168.4,60.7 168.4,62.1 168.4,63.7 168.5,66.1 168.5,65.6 168.5,61.9 168.5,63.8 168.6,65.5 168.6,55.0 168.6,59.5 168.6,59.3 168.6,62.4 168.7,62.1 168.7,62.2 168.7,59.0 168.7,67.0 168.8,65.0 168.8,55.0 168.8,63.6 168.8,57.7 168.9,72.5 168.9,61.2 168.9,61.6 168.9,64.1 168.9,62.6 169.0,63.3 169.0,71.7 169.0,64.8 169.0,68.0 169.1,69.6 169.1,58.6 169.1,72.5 169.1,67.3 169.1,68.7 169.2,59.2 169.2,68.0 169.2,65.9 169.2,61.0 169.3,75.7 169.3,66.7 169.3,62.6 169.3,64.8 169.3,68.6 169.4,69.7 169.4,66.9 169.4,70.2 169.4,71.5 169.5,57.4 169.5,61.3 169.5,59.0 169.5,64.4 169.6,71.4 169.6,67.3 169.6,58.5 169.6,62.4 169.6,69.3 169.7,61.2 169.7,63.5 169.7,65.6 169.7,54.5 169.8,68.0 169.8,65.8 169.8,67.0 169.8,58.9 169.8,60.0 169.9,60.9 169.9,65.3 169.9,64.4 169.9,64.7 170.0,73.4 170.0,70.9 170.0,60.3 170.0,60.7 170.0,73.0 170.1,62.5 170.1,71.3 170.1,72.5 170.1,61.3 170.2,62.7 170.2,64.6 170.2,59.7 170.2,59.1 170.2,62.1 170.3,68.6 170.3,61.9 170.3,63.1 170.3,61.8 170.4,57.1 170.4,72.0 170.4,52.1 170.4,60.9 170.5,67.2 170.5,57.0 170.5,67.4 170.5,70.8 170.5,59.8 170.6,65.4 170.6,58.5 170.6,67.0 170.6,64.8 170.7,65.5 170.7,71.5 170.7,66.8 170.7,71.4 170.7,67.7 170.8,58.1 170.8,65.8 170.8,67.0 170.8,56.9 170.9,71.4 170.9,64.8 170.9,66.4 170.9,59.8 170.9,64.8 171.0,66.0 171.0,62.8 171.0,64.9 171.0,53.5 171.1,71.6 171.1,58.7 171.1,53.2 171.1,59.5 171.2,60.2 171.2,67.4 171.2,59.8 171.2,66.1 171.2,59.6 171.3,76.1 171.3,67.4 171.3,74.8 171.3,59.3 171.4,68.1 171.4,59.7 171.4,67.7 171.4,68.2 171.4,56.4 171.5,58.7 171.5,58.6 171.5,56.8 171.5,60.9 171.6,59.7 171.6,57.2 171.6,65.2 171.6,67.6 171.6,57.9 171.7,61.8 171.7,64.8 171.7,63.5 171.7,61.1 171.8,69.0 171.8,69.2 171.8,68.3 171.8,63.7 171.9,75.1 171.9,73.9 171.9,62.7 171.9,64.2 171.9,71.0 172.0,60.7 172.0,66.9 172.0,65.1 172.0,61.2 172.1,63.7 172.1,56.7 172.1,62.1 172.1,54.5 172.1,76.8 172.2,72.7 172.2,71.3 172.2,66.5 172.2,70.1 172.3,71.6 172.3,70.2 172.3,69.7 172.3,60.2 172.3,67.2 172.4,62.2 172.4,58.8 172.4,59.0 172.4,67.2 172.5,70.5 172.5,57.9 172.5,74.1 172.5,72.7 172.5,63.0 172.6,62.6 172.6,64.7 172.6,70.2 172.6,63.1 172.7,59.3 172.7,66.9 172.7,54.3 172.7,65.8 172.8,71.1 172.8,66.7 172.8,69.2 172.8,67.7 172.8,68.9 172.9,65.9 172.9,60.8 172.9,64.0 172.9,64.8 173.0,71.7 173.0,73.7 173.0,67.4 173.0,61.3 173.0,61.4 173.1,64.2 173.1,72.5 173.1,67.0 173.1,65.0 173.2,61.3 173.2,69.9 173.2,66.8 173.2,65.0 173.2,65.8 173.3,74.1 173.3,64.5 173.3,74.1 173.3,71.8 173.4,65.6 173.4,70.0 173.4,64.7 173.4,61.0 173.5,64.0 173.5,60.6 173.5,68.1 173.5,65.5 173.5,68.4 173.6,69.7 173.6,52.4 173.6,67.1 173.6,56.0 173.7,66.3 173.7,60.9 173.7,66.0 173.7,72.6 173.7,56.6 173.8,66.5 173.8,65.1 173.8,55.6 173.8,68.9 173.9,65.7 173.9,62.9 173.9,61.8 173.9,78.6 173.9,63.5 174.0,56.2 174.0,60.7 174.0,63.7 174.0,63.6 174.1,65.2 174.1,60.2 174.1,68.5 174.1,63.1 174.1,58.6 174.2,61.4 174.2,63.7 174.2,70.1 174.2,68.2 174.3,63.9 174.3,65.8 174.3,66.8 174.3,76.4 174.4,62.5 174.4,68.2 174.4,69.5 174.4,60.8 174.4,66.8 174.5,66.6 174.5,63.3 174.5,68.8 174.5,71.2 174.6,71.7 174.6,64.8 174.6,66.8 174.6,78.1 174.6,60.1 174.7,67.0 174.7,70.5 174.7,66.7 174.7,69.3 174.8,66.8 174.8,69.8 174.8,72.6 174.8,64.8 174.8,67.0 174.9,65.7 174.9,63.8 174.9,65.9 174.9,60.1 175.0,69.9 175.0,74.9 175.0,74.9 175.0,72.7 175.1,61.0 175.1,74.0 175.1,62.3 175.1,65.8 175.1,75.7 175.2,60.5 175.2,70.5 175.2,67.5 175.2,65.3 175.3,61.5 175.3,68.3 175.3,63.7 175.3,71.6 175.3,72.5 175.4,58.9 175.4,63.5 175.4,64.5 175.4,60.0 175.5,60.3 175.5,66.6 175.5,65.1 175.5,57.6 175.5,63.4 175.6,68.9 175.6,59.9 175.6,61.4 175.6,74.5 175.7,73.1 175.7,57.8 175.7,59.2 175.7,68.3 175.8,60.1 175.8,65.0 175.8,64.0 175.8,69.2 175.8,53.3 175.9,54.8 175.9,59.9 175.9,71.7 175.9,65.6 176.0,57.5 176.0,69.0 176.0,70.1 176.0,65.1 176.0,64.7 176.1,68.7 176.1,72.7 176.1,67.2 176.1,69.2 176.2,66.2 176.2,64.5 176.2,61.7 176.2,67.8 176.2,64.9 176.3,65.2 176.3,71.4 176.3,69.1 176.3,71.1 176.4,58.3 176.4,69.5 176.4,63.5 176.4,62.3 176.4,62.1 176.5,72.9 176.5,70.9 176.5,62.9 176.5,60.7 176.6,66.7 176.6,64.2 176.6,75.3 176.6,59.0 176.7,57.1 176.7,65.3 176.7,66.7 176.7,67.4 176.7,70.6 176.8,77.5 176.8,64.9 176.8,63.9 176.8,57.5 176.9,68.0 176.9,71.2 176.9,65.4 176.9,72.9 176.9,66.9 177.0,74.7 177.0,68.5 177.0,61.3 177.0,63.5 177.1,58.8 177.1,57.8 177.1,68.2 177.1,71.4 177.1,77.1 177.2,66.6 177.2,65.6 177.2,61.1 177.2,72.1 177.3,68.9 177.3,63.8 177.3,70.5 177.3,69.9 177.4,57.2 177.4,70.8 177.4,67.7 177.4,64.9 177.4,64.8 177.5,76.1 177.5,75.0 177.5,76.5 177.5,61.0 177.6,63.6 177.6,71.8 177.6,60.7 177.6,63.3 177.6,57.6 177.7,76.7 177.7,72.6 177.7,69.5 177.7,68.2 177.8,64.9 177.8,65.0 177.8,70.3 177.8,63.4 177.8,73.6 177.9,64.6 177.9,62.6 177.9,73.9 177.9,66.4 178.0,70.1 178.0,65.0 178.0,55.4 178.0,70.1 178.0,60.2 178.1,72.9 178.1,59.1 178.1,57.5 178.1,68.9 178.2,69.5 178.2,67.8 178.2,60.9 178.2,71.9 178.3,59.6 178.3,64.9 178.3,63.2 178.3,65.4 178.3,71.8 178.4,64.0 178.4,70.3 178.4,71.0 178.4,58.4 178.5,61.3 178.5,65.4 178.5,64.3 178.5,69.0 178.5,57.3 178.6,71.2 178.6,71.3 178.6,66.6 178.6,60.2 178.7,67.5 178.7,64.7 178.7,70.4 178.7,67.0 178.7,71.3 178.8,65.2 178.8,75.1 178.8,55.5 178.8,62.2 178.9,70.1 178.9,59.7 178.9,71.4 178.9,61.2 179.0,68.1 179.0,62.8 179.0,65.3 179.0,68.5 179.0,67.1 179.1,65.6 179.1,78.9 179.1,67.7 179.1,62.6 179.2,72.5 179.2,72.0 179.2,74.1 179.2,77.0 179.2,62.8 179.3,73.2 179.3,73.7 179.3,67.7 179.3,69.0 179.4,54.7 179.4,64.8 179.4,77.1 179.4,58.4 179.4,65.0 179.5,69.3 179.5,70.8 179.5,76.3 179.5,58.6 179.6,68.0 179.6,72.3 179.6,61.0 179.6,67.6 179.7,77.7 179.7,74.8 179.7,70.7 179.7,54.8 179.7,67.2 179.8,69.9 179.8,66.3 179.8,67.6 179.8,81.0 179.9,66.8 179.9,62.9 179.9,69.2 179.9,66.3 179.9,66.4 180.0,67.5 180.0,72.0 180.0,69.2 180.0,61.7 180.1,67.3 180.1,70.5 180.1,65.6 180.1,74.1 180.1,72.1 180.2,62.9 180.2,69.8 180.2,78.5 180.2,76.3 180.3,67.8 180.3,72.8 180.3,64.6 180.3,60.6 180.3,71.0 180.4,69.4 180.4,70.9 180.4,68.0 180.4,69.9 180.5,65.5 180.5,70.7 180.5,72.6 180.5,67.9 180.6,72.5 180.6,59.0 180.6,64.1 180.6,75.8 180.6,77.5 180.7,69.6 180.7,67.7 180.7,61.7 180.7,70.2 180.8,72.4 180.8,60.6 180.8,71.2 180.8,70.9 180.8,70.6 180.9,62.5 180.9,71.2 180.9,60.5 180.9,76.2 181.0,69.1 181.0,62.3 181.0,75.4 181.0,74.5 181.0,65.0 181.1,80.0 181.1,63.2 181.1,70.1 181.1,74.6 181.2,56.6 181.2,73.7 181.2,68.1 181.2,68.4 181.3,62.9 181.3,70.2 181.3,62.7 181.3,63.5 181.3,66.2 181.4,62.1 181.4,76.8 181.4,61.6 181.4,64.6 181.5,66.9 181.5,68.6 181.5,72.8 181.5,72.9 181.5,67.0 181.6,66.6 181.6,68.8 181.6,73.0 181.6,72.3 181.7,66.0 181.7,57.9 181.7,79.9 181.7,73.7 181.7,70.1 181.8,70.5 181.8,66.0 181.8,63.5 181.8,67.0 181.9,67.6 181.9,65.5 181.9,61.1 181.9,67.1 181.9,71.8 182.0,66.2 182.0,68.9 182.0,58.0 182.0,67.7 182.1,68.2 182.1,62.4 182.1,59.8 182.1,71.0 182.2,64.6 182.2,71.4 182.2,66.7 182.2,72.2 182.2,67.1 182.3,61.0 182.3,68.5 182.3,67.2 182.3,72.4 182.4,66.6 182.4,66.9 182.4,73.5 182.4,75.1 182.4,73.0 182.5,74.4 182.5,71.4 182.5,73.0 182.5,73.6 182.6,71.1 182.6,69.4 182.6,69.8 182.6,81.7 182.6,69.1 182.7,67.8 182.7,67.2 182.7,68.9 182.7,70.4 182.8,63.2 182.8,58.7 182.8,70.7 182.8,60.7 182.9,70.5 182.9,69.9 182.9,75.2 182.9,77.9 182.9,71.1 183.0,66.3 183.0,63.0 183.0,65.1 183.0,69.4 183.1,58.4 183.1,69.6 183.1,69.2 183.1,72.6 183.1,67.5 183.2,69.8 183.2,65.4 183.2,66.9 183.2,60.0 183.3,70.0 183.3,77.4 183.3,70.2 183.3,71.3 183.3,64.2 183.4,76.9 183.4,65.3 183.4,73.6 183.4,69.9 183.5,64.4 183.5,74.8 183.5,69.5 183.5,70.4 183.5,71.8 183.6,69.3 183.6,67.5 183.6,71.9 183.6,67.3 183.7,69.8 183.7,66.0 183.7,61.7 183.7,66.0 183.8,66.9 183.8,69.6 183.8,75.7 183.8,60.7 183.8,70.2 183.9,58.0 183.9,64.1 183.9,66.9 183.9,57.8 184.0,59.9 184.0,70.4 184.0,70.0 184.0,69.0 184.0,65.4 184.1,80.9 184.1,68.8 184.1,65.1 184.1,78.5 184.2,72.9 184.2,67.7 184.2,75.9 184.2,70.5 184.2,73.1 184.3,71.0 184.3,64.3 184.3,74.8 184.3,70.6 184.4,64.5 184.4,65.8 184.4,74.8 184.4,67.8 184.5,70.0 184.5,73.2 184.5,70.5 184.5,61.8 184.5,73.2 184.6,74.8 184.6,74.4 184.6,78.3 184.6,71.8 184.7,73.9 184.7,78.2 184.7,68.4 184.7,79.0 184.7,79.0 184.8,74.0 184.8,79.6 184.8,74.4 184.8,65.3 184.9,75.9 184.9,71.7 184.9,72.1 184.9,70.8 184.9,77.1 185.0,72.9 185.0,66.4 185.0,72.6 185.0,73.9 185.1,66.2 185.1,67.8 185.1,68.0 185.1,66.9 185.2,71.9 185.2,75.4 185.2,80.0 185.2,76.4 185.2,75.5 185.3,76.1 185.3,77.1 185.3,68.2 185.3,73.8 185.4,71.8 185.4,69.5 185.4,67.8 185.4,67.5 185.4,68.8 185.5,63.7 185.5,72.9 185.5,70.1 185.5,70.8 185.6,72.0 185.6,74.0 185.6,67.1 185.6,69.7 185.6,61.8 185.7,58.6 185.7,60.1 185.7,78.4 185.7,60.7 185.8,72.8 185.8,78.1 185.8,67.9 185.8,78.9 185.8,80.0 185.9,75.3 185.9,82.8 185.9,73.6 185.9,66.6 186.0,73.1 186.0,68.1 186.0,63.6 186.0,63.8 186.1,82.6 186.1,67.6 186.1,70.4 186.1,67.0 186.1,71.2 186.2,69.3 186.2,68.4 186.2,64.2 186.2,63.1 186.3,66.7 186.3,72.1 186.3,81.5 186.3,76.1 186.3,80.2 186.4,73.2 186.4,70.2 186.4,63.7 186.4,70.7 186.5,59.4 186.5,69.1 186.5,79.3 186.5,72.4 186.5,76.7 186.6,68.7 186.6,63.5 186.6,68.3 186.6,68.7 186.7,77.1 186.7,81.2 186.7,66.9 186.7,68.9 186.8,70.1 186.8,69.0 186.8,64.3 186.8,71.4 186.8,72.8 186.9,72.9 186.9,64.6 186.9,70.3 186.9,61.8 187.0,75.7 187.0,65.6 187.0,69.5 187.0,68.6 187.0,67.9 187.1,65.4 187.1,61.7 187.1,80.1 187.1,72.4 187.2,72.4 187.2,82.1 187.2,70.5 187.2,74.0 187.2,71.2 187.3,77.3 187.3,73.7 187.3,72.8 187.3,69.8 187.4,72.6 187.4,77.2 187.4,60.2 187.4,70.5 187.4,69.0 187.5,69.6 187.5,60.8 187.5,75.0 187.5,66.8 187.6,70.0 187.6,68.6 187.6,62.5 187.6,68.9 187.7,61.6 187.7,66.3 187.7,69.6 187.7,71.3 187.7,71.6 187.8,70.6 187.8,82.5 187.8,73.6 187.8,64.9 187.9,68.1 187.9,67.9 187.9,70.4 187.9,68.2 187.9,66.9 188.0,80.0 188.0,71.6 188.0,69.6 188.0,70.1 188.1,70.3 188.1,78.7 188.1,73.9 188.1,77.3 188.1,58.1 188.2,73.2 188.2,77.0 188.2,81.9 188.2,71.7 188.3,62.5 188.3,74.6 188.3,68.4 188.3,62.1 188.4,68.3 188.4,77.1 188.4,77.9 188.4,75.4 188.4,66.1 188.5,84.5 188.5,65.5 188.5,71.2 188.5,64.0 188.6,78.6 188.6,74.0 188.6,76.3 188.6,72.1 188.6,71.3 188.7,72.6 188.7,61.8 188.7,76.9 188.7,76.5 188.8,69.7 188.8,71.7 188.8,73.3 188.8,80.0 188.8,74.0 188.9,72.0 188.9,69.1 188.9,63.9 188.9,68.7 189.0,72.2 189.0,70.5 189.0,72.2 189.0,75.8 189.1,74.2 189.1,73.3 189.1,75.3 189.1,72.9 189.1,71.8 189.2,74.4 189.2,62.9 189.2,78.5 189.2,65.2 189.3,76.4 189.3,72.0 189.3,77.8 189.3,72.2 189.3,67.0 189.4,77.7 189.4,73.0 189.4,72.7 189.4,72.5 189.5,77.3 189.5,76.4 189.5,73.3 189.5,63.9 189.5,70.0 189.6,72.7 189.6,81.6 189.6,74.2 189.6,71.7 189.7,78.4 189.7,71.6 189.7,72.0 189.7,73.0 189.7,64.3 189.8,77.2 189.8,74.5 189.8,70.7 189.8,66.2 189.9,73.4 189.9,79.6 189.9,68.9 189.9,66.7 190.0,74.5 190.0,63.9 190.0,60.6 190.0,70.0 190.0,68.7 190.1,70.9 190.1,69.5 190.1,74.1 190.1,71.2 190.2,69.2 190.2,70.0 190.2,75.7 190.2,77.5 190.2,77.2 190.3,76.1 190.3,59.0 190.3,67.2 190.3,70.8 190.4,73.6 190.4,64.0 190.4,80.0 190.4,74.1 190.4,69.2 190.5,73.4 190.5,70.7 190.5,68.5 190.5,75.2 190.6,70.2 190.6,65.1 190.6,69.2 190.6,72.0 190.7,66.9 190.7,79.2 190.7,66.9 190.7,81.9 190.7,77.3 190.8,67.7 190.8,73.3 190.8,78.9 190.8,71.7 190.9,66.4 190.9,73.3 190.9,83.2 190.9,64.9 190.9,75.7 191.0,72.8 191.0,72.1 191.0,70.7 191.0,71.1 191.1,78.3 191.1,75.9 191.1,67.6 191.1,81.0 191.1,66.0 191.2,76.3 191.2,73.8 191.2,79.2 191.2,74.8 191.3,78.5 191.3,72.8 191.3,78.0 191.3,74.7 191.3,84.2 191.4,69.3 191.4,79.2 191.4,75.4 191.4,73.9 191.5,70.0 191.5,75.4 191.5,65.3 191.5,65.8 191.6,76.8 191.6,64.9 191.6,80.6 191.6,71.6 191.6,74.4 191.7,73.5 191.7,75.3 191.7,71.6 191.7,71.2 191.8,72.5 191.8,78.7 191.8,79.1 191.8,79.9 191.8,75.1 191.9,72.1 191.9,64.3 191.9,76.6 191.9,77.6 192.0,71.1 192.0,77.5 192.0,80.0 192.0,73.7 192.0,78.8 192.1,74.9 192.1,64.1 192.1,70.8 192.1,71.1 192.2,76.1 192.2,68.8 192.2,71.0 192.2,68.3 192.3,73.1 192.3,73.7 192.3,78.5 192.3,77.6 192.3,74.2 192.4,74.6 192.4,74.0 192.4,74.0 192.4,81.5 192.5,60.3 192.5,72.5 192.5,75.1 192.5,79.4 192.5,67.7 192.6,75.3 192.6,78.0 192.6,71.1 192.6,63.4 192.7,71.6 192.7,67.2 192.7,76.9 192.7,69.0 192.7,82.9 192.8,74.3 192.8,69.3 192.8,70.9 192.8,67.8 192.9,75.6 192.9,81.4 192.9,72.5 192.9,78.5 192.9,68.7 193.0,75.2 193.0,85.8 193.0,66.2 193.0,80.1 193.1,79.8 193.1,63.8 193.1,66.1 193.1,68.5 193.2,78.8 193.2,71.4 193.2,72.8 193.2,77.4 193.2,74.4 193.3,74.9 193.3,72.1 193.3,79.7 193.3,69.7 193.4,82.6 193.4,72.0 193.4,69.6 193.4,77.2 193.4,76.2 193.5,63.4 193.5,75.0 193.5,66.7 193.5,69.5 193.6,78.0 193.6,69.3 193.6,75.7 193.6,71.9 193.6,84.1 193.7,73.4 193.7,67.7 193.7,68.1 193.7,69.1 193.8,74.6 193.8,73.9 193.8,79.0 193.8,74.8 193.9,74.6 193.9,75.6 193.9,73.3 193.9,75.5 193.9,78.1 194.0,78.1 194.0,71.1 194.0,64.7 194.0,69.7 194.1,75.5 194.1,60.9 194.1,71.5 194.1,76.4 194.1,71.1 194.2,68.1 194.2,83.3 194.2,81.3 194.2,72.7 194.3,81.0 194.3,80.9 194.3,68.1 194.3,86.9 194.3,69.1 194.4,72.7 194.4,68.3 194.4,74.5 194.4,67.2 194.5,74.1 194.5,79.8 194.5,75.3 194.5,72.7 194.6,82.3 194.6,69.4 194.6,79.3 194.6,72.6 194.6,75.3 194.7,74.3 194.7,74.9 194.7,73.9 194.7,70.1 194.8,71.2 194.8,76.5 194.8,73.6 194.8,68.1 194.8,70.5 194.9,70.6 194.9,73.9 194.9,75.2 194.9,74.7 195.0,70.8 195.0,74.3 195.0,67.0 195.0,60.9 195.0,74.0 195.1,65.6 195.1,69.3 195.1,67.9 195.1,77.6 195.2,67.9 195.2,75.7 195.2,71.7 195.2,67.8 195.2,66.0 195.3,76.7 195.3,76.3 195.3,78.4 195.3,84.0 195.4,75.7 195.4,75.8 195.4,73.7 195.4,74.9 195.5,72.5 195.5,69.6 195.5,84.8 195.5,64.5 195.5,75.7 195.6,76.7 195.6,75.1 195.6,69.3 195.6,73.4 195.7,71.9 195.7,68.7 195.7,74.1 195.7,72.2 195.7,71.5 195.8,78.0 195.8,68.8 195.8,76.7 195.8,71.2 195.9,76.6 195.9,74.8 195.9,75.7 195.9,69.2 195.9,70.3 196.0,69.9 196.0,75.3 196.0,78.4 196.0,80.1 196.1,71.8 196.1,74.9 196.1,65.9 196.1,62.8 196.2,69.9 196.2,71.0 196.2,66.3 196.2,65.1 196.2,77.3 196.3,70.3 196.3,65.6 196.3,86.7 196.3,75.4 196.4,72.8 196.4,78.1 196.4,70.5 196.4,82.9 196.4,66.4 196.5,67.6 196.5,73.8 196.5,70.5 196.5,82.0 196.6,66.1 196.6,70.7 196.6,75.8 196.6,77.5 196.6,79.8 196.7,76.4 196.7,86.2 196.7,72.1 196.7,75.5 196.8,79.1 196.8,72.9 196.8,73.0 196.8,72.2 196.8,71.2 196.9,68.7 196.9,71.7 196.9,66.5 196.9,76.6 197.0,66.2 197.0,85.5 197.0,83.6 197.0,80.4 197.1,73.5 197.1,71.6 197.1,81.1 197.1,75.6 197.1,77.6 197.2,70.9 197.2,80.3 197.2,70.5 197.2,75.3 197.3,65.6 197.3,71.3 197.3,77.3 197.3,72.3 197.3,72.4 197.4,78.9 197.4,74.4 197.4,81.3 197.4,62.0 197.5,77.7 197.5,77.4 197.5,66.7 197.5,68.0 197.5,79.4 197.6,69.2 197.6,71.5 197.6,78.0 197.6,73.1 197.7,77.3 197.7,70.3 197.7,76.4 197.7,80.5 197.8,76.6 197.8,63.3 197.8,78.3 197.8,75.2 197.8,70.1 197.9,82.2 197.9,65.7 197.9,84.8 197.9,71.6 198.0,83.2 198.0,74.7 198.0,68.0 198.0,75.5 198.0,76.7 198.1,77.8 198.1,80.6 198.1,70.3 198.1,77.6 198.2,78.9 198.2,73.6 198.2,70.1 198.2,70.0 198.2,79.0 198.3,79.3 198.3,70.7 198.3,68.0 198.3,81.6 198.4,66.9 198.4,75.9 198.4,70.9 198.4,65.9 198.5,75.8 198.5,74.1 198.5,82.7 198.5,87.1 198.5,74.2 198.6,80.6 198.6,80.7 198.6,72.4 198.6,70.6 198.7,83.7 198.7,73.3 198.7,75.1 198.7,73.7 198.7,74.5 198.8,72.1 198.8,79.2 198.8,81.9 198.8,73.3 198.9,68.0 198.9,75.6 198.9,67.5 198.9,72.0 198.9,81.8 199.0,87.5 199.0,77.3 199.0,69.8 199.0,79.5 199.1,63.6 199.1,71.7 199.1,83.4 199.1,79.3 199.1,68.1 199.2,66.7 199.2,79.9 199.2,75.2 199.2,72.3 199.3,77.6 199.3,72.4 199.3,65.4 199.3,79.7 199.4,72.1 199.4,70.2 199.4,68.5 199.4,76.8 199.4,71.3 199.5,78.8 199.5,74.1 199.5,81.2 199.5,73.5 199.6,72.1 199.6,65.2 199.6,69.8 199.6,79.4 199.6,89.1 199.7,69.0 199.7,70.2 199.7,77.4 199.7,78.2 199.8,72.1 199.8,76.1 199.8,67.2 199.8,74.1 199.8,80.4 199.9,84.3 199.9,74.8 199.9,74.4 199.9,78.1 200.0,81.6 200.0,78.3 200.0,71.8 200.0,77.6 200.1,80.9 200.1,72.0 200.1,68.8 200.1,78.5 200.1,77.7 200.2,80.9 200.2,76.3 200.2,72.5 200.2,73.6 200.3,70.5 200.3,70.9 200.3,72.9 200.3,73.4 200.3,81.8 200.4,69.5 200.4,75.7 200.4,72.8 200.4,83.8 200.5,77.3 200.5,74.0 200.5,80.3 200.5,76.3 200.5,73.5 200.6,84.1 200.6,79.8 200.6,85.1 200.6,82.1 200.7,80.1 200.7,76.8 200.7,70.4 200.7,79.8 200.7,76.5 200.8,79.7 200.8,76.1 200.8,72.5 200.8,70.9 200.9,79.8 200.9,83.0 200.9,74.7 200.9,78.6 201.0,83.5 201.0,71.8 201.0,74.4 201.0,70.3 201.0,82.4 201.1,77.6 201.1,73.8 201.1,67.6 201.1,75.3 201.2,81.5 201.2,74.7 201.2,74.1 201.2,79.7 201.2,69.9 201.3,76.6 201.3,79.5 201.3,72.3 201.3,72.0 201.4,77.7 201.4,75.9 201.4,75.2 201.4,77.5 201.4,77.6 201.5,71.6 201.5,72.9 201.5,78.8 201.5,82.3 201.6,83.6 201.6,72.0 201.6,82.2 201.6,80.5 201.7,76.4 201.7,79.1 201.7,80.9 201.7,85.9 201.7,71.0 201.8,79.7 201.8,75.8 201.8,75.5 201.8,82.6 201.9,80.9 201.9,71.3 201.9,75.1 201.9,77.8 201.9,69.2 202.0,81.2 202.0,76.3 202.0,77.5 202.0,78.4 202.1,86.2 202.1,76.9 202.1,74.8 202.1,85.8 202.1,74.1 202.2,74.0 202.2,69.5 202.2,82.4 202.2,78.2 202.3,79.3 202.3,77.7 202.3,76.1 202.3,72.7 202.4,72.7 202.4,79.1 202.4,77.5 202.4,85.4 202.4,72.9 202.5,74.3 202.5,71.5 202.5,84.1 202.5,70.5 202.6,81.0 202.6,84.5 202.6,76.2 202.6,80.7 202.6,65.8 202.7,74.9 202.7,68.3 202.7,77.9 202.7,77.0 202.8,73.0 202.8,82.0 202.8,78.9 202.8,74.3 202.8,74.4 202.9,69.4 202.9,76.1 202.9,88.2 202.9,73.4 203.0,79.3 203.0,74.2 203.0,81.3 203.0,79.4 203.0,75.9 203.1,67.8 203.1,74.5 203.1,83.4 203.1,75.9 203.2,80.5 203.2,74.7 203.2,67.4 203.2,79.4 203.3,78.9 203.3,74.2 203.3,75.3 203.3,78.8 203.3,74.2 203.4,79.1 203.4,76.2 203.4,64.9 203.4,76.5 203.5,74.2 203.5,72.9 203.5,79.4 203.5,74.8 203.5,80.2 203.6,83.1 203.6,78.1 203.6,69.3 203.6,73.6 203.7,82.2 203.7,76.0 203.7,73.2 203.7,76.9 203.7,80.1 203.8,78.8 203.8,80.8 203.8,73.1 203.8,76.0 203.9,76.2 203.9,77.4 203.9,66.5 203.9,76.3 204.0,70.5 204.0,84.8 204.0,85.7 204.0,86.3 204.0,81.8 204.1,75.0 204.1,82.6 204.1,76.5 204.1,80.8 204.2,72.9 204.2,74.5 204.2,80.1 204.2,86.9 204.2,77.5 204.3,89.5 204.3,91.0 204.3,71.0 204.3,77.5 204.4,72.7 204.4,77.0 204.4,74.9 204.4,77.4 204.4,82.8 204.5,82.7 204.5,79.1 204.5,77.8 204.5,78.4 204.6,78.5 204.6,80.8 204.6,77.8 204.6,80.5 204.6,71.0 204.7,82.0 204.7,87.0 204.7,78.8 204.7,70.5 204.8,85.0 204.8,76.2 204.8,64.7 204.8,76.8 204.9,81.1 204.9,79.9 204.9,84.4 204.9,81.2 204.9,78.6 205.0,67.6 205.0,72.1 205.0,78.9 205.0,81.5 205.1,72.6 205.1,74.8 205.1,80.5 205.1,68.0 205.1,67.8 205.2,76.8 205.2,79.4 205.2,75.6 205.2,66.1 205.3,78.2 205.3,71.1 205.3,81.5 205.3,77.6 205.3,79.5 205.4,81.5 205.4,75.4 205.4,82.5 205.4,84.7 205.5,80.3 205.5,85.2 205.5,74.9 205.5,83.0 205.6,79.6 205.6,73.0 205.6,77.8 205.6,75.5 205.6,75.3 205.7,78.7 205.7,83.8 205.7,76.6 205.7,78.9 205.8,70.6 205.8,78.9 205.8,84.4 205.8,82.6 205.8,80.8 205.9,75.6 205.9,73.2 205.9,77.9 205.9,71.3 206.0,71.9 206.0,83.3 206.0,73.6 206.0,87.8 206.0,70.9 206.1,80.7 206.1,72.3 206.1,79.4 206.1,73.0 206.2,78.7 206.2,77.6 206.2,76.1 206.2,81.2 206.2,86.4 206.3,75.4 206.3,83.2 206.3,79.0 206.3,78.4 206.4,90.1 206.4,67.2 206.4,75.0 206.4,69.1 206.5,76.9 206.5,77.4 206.5,91.9 206.5,80.4 206.5,88.0 206.6,85.4 206.6,76.3 206.6,81.2 206.6,87.4 206.7,79.6 206.7,79.8 206.7,81.3 206.7,70.8 206.7,74.4 206.8,80.5 206.8,81.6 206.8,73.9 206.8,77.0 206.9,78.1 206.9,77.9 206.9,82.4 206.9,79.3 206.9,79.6 207.0,71.3 207.0,73.2 207.0,80.5 207.0,70.4 207.1,80.2 207.1,75.3 207.1,74.6 207.1,82.2 207.2,75.3 207.2,74.3 207.2,75.3 207.2,79.2 207.2,92.2 207.3,67.7 207.3,78.8 207.3,77.6 207.3,83.9 207.4,77.0 207.4,65.9 207.4,85.9 207.4,73.2 207.4,78.6 207.5,71.7 207.5,73.2 207.5,76.3 207.5,83.5 207.6,83.4 207.6,75.8 207.6,81.6 207.6,77.0 207.6,79.6 207.7,79.8 207.7,82.3 207.7,75.8 207.7,78.3 207.8,80.2 207.8,79.5 207.8,74.8 207.8,88.1 207.9,76.6 207.9,83.1 207.9,80.1 207.9,85.5 207.9,67.6 208.0,89.9 208.0,78.0 208.0,72.6 208.0,79.8 208.1,91.0 208.1,81.8 208.1,72.7 208.1,76.7 208.1,86.2 208.2,71.8 208.2,78.2 208.2,77.6 208.2,90.6 208.3,77.7 208.3,86.1 208.3,75.6 208.3,75.0 208.3,84.5 208.4,82.5 208.4,70.1 208.4,82.6 208.4,82.7 208.5,76.0 208.5,80.4 208.5,80.7 208.5,76.7 208.5,76.2 208.6,75.8 208.6,77.9 208.6,72.3 208.6,79.1 208.7,71.5 208.7,79.8 208.7,78.9 208.7,73.9 208.8,83.9 208.8,89.6 208.8,86.4 208.8,72.2 208.8,86.1 208.9,80.6 208.9,79.2 208.9,76.3 208.9,79.4 209.0,86.8 209.0,82.3 209.0,77.3 209.0,76.0 209.0,77.3 209.1,82.6 209.1,89.4 209.1,74.0 209.1,79.5 209.2,77.5 209.2,75.6 209.2,81.7 209.2,82.5 209.2,72.1 209.3,74.1 209.3,85.9 209.3,81.3 209.3,82.4 209.4,77.0 209.4,77.6 209.4,82.1 209.4,77.0 209.5,73.8 209.5,79.7 209.5,84.4 209.5,74.3 209.5,85.3 209.6,83.4 209.6,75.2 209.6,79.8 209.6,79.5 209.7,83.1 209.7,83.3 209.7,72.9 209.7,72.7 209.7,85.2 209.8,80.4 209.8,82.0 209.8,81.6 209.8,87.9 209.9,73.5 209.9,85.6 209.9,75.5 209.9,83.7 209.9,86.9 210.0,72.6 210.0,82.0 210.0,78.4 210.0,78.4 210.1,80.1 210.1,74.4 210.1,74.9 210.1,83.4 210.1,84.4 210.2,77.0 210.2,72.3 210.2,92.1 210.2,85.8 210.3,81.9 210.3,74.6 210.3,76.9 210.3,81.3 210.4,75.0 210.4,88.4 210.4,80.8 210.4,82.1 210.4,74.7 210.5,75.3 210.5,75.9 210.5,81.5 210.5,78.7 210.6,78.6 210.6,81.8 210.6,81.3 210.6,87.9 210.6,79.1 210.7,74.8 210.7,80.1 210.7,87.8 210.7,77.3 210.8,80.4 210.8,78.3 210.8,82.3 210.8,81.6 210.8,76.0 210.9,79.0 210.9,85.2 210.9,86.0 210.9,85.1 211.0,84.8 211.0,78.5 211.0,78.4 211.0,85.2 211.1,74.2 211.1,80.0 211.1,70.6 211.1,78.4 211.1,76.7 211.2,74.1 211.2,83.4 211.2,76.5 211.2,78.5 211.3,79.0 211.3,76.6 211.3,87.8 211.3,77.8 211.3,81.5 211.4,73.6 211.4,78.0 211.4,78.8 211.4,78.9 211.5,77.4 211.5,81.2 211.5,88.6 211.5,79.8 211.5,79.8 211.6,78.5 211.6,93.8 211.6,89.0 211.6,83.5 211.7,84.2 211.7,76.9 211.7,79.8 211.7,81.7 211.8,81.2 211.8,76.1 211.8,76.5 211.8,83.3 211.8,82.3 211.9,69.6 211.9,81.1 211.9,87.3 211.9,77.3 212.0,81.9 212.0,73.1 212.0,85.0 212.0,74.9 212.0,74.2 212.1,79.1 212.1,93.1 212.1,77.6 212.1,74.2 212.2,83.2 212.2,82.0 212.2,89.4 212.2,74.2 212.2,72.5 212.3,79.2 212.3,82.8 212.3,82.7 212.3,86.5 212.4,73.1 212.4,76.6 212.4,80.2 212.4,85.3 212.4,83.4 212.5,78.7 212.5,75.6 212.5,85.5 212.5,85.9 212.6,94.4 212.6,80.0 212.6,89.4 212.6,74.7 212.7,78.1 212.7,77.4 212.7,78.6 212.7,76.4 212.7,78.2 212.8,80.7 212.8,78.7 212.8,84.5 212.8,80.6 212.9,81.0 212.9,88.7 212.9,82.7 212.9,81.9 212.9,81.0 213.0,81.4 213.0,84.1 213.0,76.9 213.0,87.1 213.1,89.3 213.1,87.2 213.1,78.6 213.1,72.9 213.1,78.9 213.2,82.0 213.2,85.5 213.2,80.2 213.2,79.6 213.3,89.1 213.3,77.7 213.3,86.8 213.3,86.0 213.4,74.3 213.4,82.7 213.4,78.4 213.4,76.3 213.4,71.6 213.5,73.1 213.5,83.5 213.5,79.3 213.5,82.7 213.6,75.8 213.6,79.7 213.6,79.9 213.6,73.3 213.6,72.7 213.7,83.7 213.7,82.2 213.7,76.5 213.7,80.9 213.8,84.9 213.8,91.0 213.8,76.8 213.8,84.7 213.8,92.5 213.9,81.8 213.9,89.1 213.9,68.3 213.9,89.0 214.0,81.4 214.0,71.7 214.0,85.6 214.0,87.0 214.0,87.8 214.1,87.8 214.1,81.4 214.1,77.7 214.1,79.2 214.2,81.4 214.2,83.7 214.2,79.1 214.2,81.9 214.3,86.2 214.3,83.3 214.3,93.6 214.3,92.9 214.3,75.7 214.4,78.7 214.4,74.8 214.4,75.6 214.4,84.5 214.5,76.5 214.5,76.2 214.5,80.3 214.5,85.9 214.5,79.9 214.6,79.9 214.6,86.5 214.6,84.2 214.6,84.2 214.7,86.7 214.7,76.5 214.7,82.9 214.7,78.5 214.7,87.2 214.8,86.1 214.8,76.4 214.8,88.8 214.8,75.7 214.9,88.0 214.9,82.9 214.9,77.3 214.9,76.0 215.0,80.3 215.0,81.8 215.0,78.2 215.0,84.9 215.0,74.6 215.1,81.9 215.1,82.0 215.1,72.2 215.1,83.6 215.2,75.4 215.2,68.9 215.2,78.8 215.2,80.8 215.2,86.7 215.3,79.5 215.3,89.8 215.3,89.6 215.3,87.8 215.4,89.0 215.4,83.9 215.4,79.2 215.4,85.5 215.4,87.2 215.5,83.4 215.5,80.8 215.5,73.9 215.5,85.7 215.6,84.0 215.6,75.3 215.6,82.7 215.6,86.0 215.7,81.6 215.7,86.3 215.7,86.2 215.7,74.4 215.7,80.6 215.8,84.8 215.8,87.0 215.8,89.6 215.8,72.2 215.9,81.9 215.9,86.0 215.9,88.7 215.9,91.1 215.9,77.4 216.0,80.3 216.0,76.8 216.0,86.6 216.0,75.4 216.1,88.6 216.1,87.3 216.1,84.9 216.1,70.9 216.1,78.8 216.2,86.3 216.2,74.9 216.2,81.1 216.2,81.9 216.3,87.1 216.3,83.9 216.3,83.9 216.3,80.1 216.3,82.5 216.4,81.8 216.4,86.3 216.4,81.5 216.4,87.9 216.5,73.6 216.5,88.8 216.5,81.6 216.5,88.5 216.6,83.0 216.6,87.0 216.6,90.4 216.6,79.6 216.6,83.0 216.7,81.7 216.7,83.7 216.7,74.1 216.7,81.7 216.8,81.3 216.8,78.5 216.8,81.6 216.8,74.5 216.8,90.0 216.9,85.0 216.9,92.6 216.9,78.1 216.9,76.5 217.0,84.2 217.0,73.9 217.0,83.9 217.0,79.0 217.0,81.0 217.1,84.1 217.1,83.0 217.1,92.5 217.1,86.1 217.2,76.0 217.2,87.9 217.2,75.7 217.2,83.2 217.3,76.2 217.3,78.4 217.3,89.7 217.3,79.9 217.3,79.4 217.4,79.9 217.4,81.2 217.4,90.4 217.4,76.6 217.5,76.3 217.5,85.9 217.5,74.5 217.5,81.0 217.5,88.9 217.6,82.9 217.6,80.4 217.6,79.2 217.6,78.1 217.7,79.8 217.7,83.6 217.7,89.5 217.7,88.0 217.7,80.0 217.8,79.1 217.8,86.6 217.8,73.4 217.8,80.7 217.9,81.3 217.9,77.1 217.9,77.7 217.9,84.8 217.9,74.3 218.0,78.2 218.0,79.6 218.0,83.4 218.0,75.8 218.1,88.7 218.1,81.4 218.1,81.7 218.1,81.1 218.2,79.5 218.2,77.9 218.2,89.1 218.2,84.1 218.2,82.5 218.3,88.3 218.3,79.3 218.3,86.4 218.3,83.2 218.4,78.4 218.4,87.1 218.4,75.2 218.4,86.5 218.4,78.4 218.5,85.3 218.5,90.4 218.5,86.1 218.5,80.0 218.6,83.0 218.6,81.2 218.6,77.0 218.6,77.3 218.6,83.4 218.7,86.0 218.7,73.9 218.7,82.8 218.7,85.8 218.8,83.7 218.8,77.9 218.8,88.6 218.8,76.8 218.9,86.6 218.9,91.6 218.9,72.5 218.9,84.6 218.9,84.9 219.0,84.4 219.0,79.2 219.0,81.6 219.0,75.9 219.1,83.9 219.1,86.1 219.1,79.8 219.1,78.4 219.1,80.8 219.2,83.2 219.2,83.6 219.2,82.7 219.2,83.6 219.3,76.4 219.3,70.5 219.3,86.5 219.3,90.8 219.3,75.9 219.4,79.8 219.4,84.9 219.4,88.3 219.4,86.7 219.5,90.0 219.5,83.1 219.5,85.5 219.5,85.5 219.5,81.1 219.6,89.7 219.6,86.7 219.6,88.5 219.6,81.4 219.7,88.8 219.7,77.9 219.7,85.5 219.7,70.6 219.8,78.2 219.8,87.3 219.8,81.1 219.8,84.4 219.8,75.0 219.9,91.6 219.9,86.6 219.9,83.4 219.9,85.7 220.0,85.2 220.0,90.9 220.0,84.7 220.0,75.9 220.0,82.2 220.1,90.3 220.1,86.6 220.1,81.4 220.1,86.8 220.2,84.2 220.2,86.8 220.2,75.3 220.2,79.0 220.2,87.1 220.3,82.5 220.3,85.5 220.3,93.9 220.3,82.1 220.4,85.0 220.4,80.8 220.4,80.4 220.4,83.3 220.5,76.1 220.5,72.8 220.5,90.9 220.5,83.2 220.5,89.6 220.6,84.4 220.6,84.6 220.6,87.3 220.6,87.6 220.7,77.5 220.7,90.1 220.7,78.8 220.7,84.9 220.7,97.2 220.8,84.3 220.8,92.6 220.8,82.1 220.8,87.1 220.9,84.2 220.9,86.1 220.9,79.5 220.9,79.1 220.9,85.7 221.0,75.8 221.0,79.5 221.0,87.3 221.0,80.8 221.1,79.3 221.1,78.2 221.1,84.8 221.1,82.1 221.2,84.8 221.2,83.0 221.2,93.7 221.2,81.8 221.2,73.8 221.3,84.7 221.3,84.1 221.3,84.9 221.3,75.7 221.4,90.0 221.4,83.9 221.4,83.9 221.4,75.9 221.4,86.6 221.5,83.8 221.5,91.2 221.5,82.0 221.5,77.7 221.6,84.9 221.6,79.4 221.6,86.4 221.6,78.6 221.6,83.5 221.7,83.0 221.7,84.1 221.7,81.6 221.7,80.0 221.8,84.0 221.8,81.3 221.8,85.1 221.8,82.9 221.8,72.6 221.9,84.0 221.9,91.5 221.9,85.9 221.9,87.4 222.0,86.7 222.0,81.9 222.0,77.4 222.0,88.6 222.1,89.8 222.1,87.3 222.1,86.6 222.1,86.5 222.1,84.3 222.2,85.8 222.2,84.5 222.2,86.1 222.2,79.6 222.3,81.2 222.3,87.4 222.3,82.7 222.3,72.0 222.3,85.1 222.4,72.7 222.4,94.4 222.4,88.2 222.4,88.0 222.5,81.1 222.5,78.8 222.5,83.5 222.5,84.7 222.5,80.6 222.6,85.4 222.6,88.2 222.6,87.7 222.6,79.3 222.7,73.5 222.7,84.7 222.7,81.3 222.7,87.0 222.8,93.1 222.8,93.1 222.8,86.2 222.8,90.4 222.8,93.2 222.9,85.0 222.9,86.2 222.9,89.1 222.9,84.6 223.0,82.2 223.0,81.0 223.0,84.9 223.0,81.7 223.0,88.9 223.1,83.2 223.1,92.4 223.1,91.1 223.1,78.6 223.2,90.4 223.2,82.9 223.2,91.9 223.2,87.6 223.2,84.7 223.3,88.4 223.3,82.1 223.3,86.7 223.3,87.0 223.4,84.3 223.4,87.0 223.4,79.9 223.4,87.9 223.4,78.9 223.5,88.3 223.5,87.5 223.5,88.7 223.5,82.3 223.6,98.9 223.6,84.0 223.6,85.9 223.6,81.3 223.7,92.5 223.7,82.8 223.7,90.3 223.7,80.4 223.7,86.8 223.8,83.4 223.8,90.0 223.8,83.8 223.8,80.9 223.9,87.6 223.9,79.3 223.9,80.5 223.9,89.3 223.9,75.9 224.0,89.2 224.0,83.4 224.0,80.8 224.0,86.7 224.1,88.6 224.1,82.5 224.1,84.6 224.1,89.5 224.1,89.3 224.2,85.2 224.2,81.6 224.2,80.7 224.2,82.5 224.3,89.0 224.3,88.5 224.3,87.1 224.3,92.6 224.4,84.1 224.4,83.7 224.4,83.7 224.4,95.3 224.4,75.3 224.5,87.1 224.5,87.9 224.5,86.0 224.5,97.5 224.6,91.7 224.6,89.6 224.6,81.2 224.6,88.3 224.6,83.9 224.7,86.0 224.7,86.8 224.7,83.4 224.7,89.0 224.8,94.1 224.8,91.1 224.8,87.0 224.8,76.2 224.8,91.4 224.9,91.4 224.9,85.0 224.9,83.5 224.9,89.3 225.0,81.9 225.0,90.0 225.0,80.6 225.0,81.4 225.1,86.1 225.1,78.7 225.1,86.1 225.1,88.7 225.1,79.5 225.2,90.7 225.2,83.3 225.2,88.9 225.2,87.2 225.3,83.8 225.3,83.5 225.3,77.6 225.3,82.7 225.3,82.3 225.4,94.4 225.4,91.3 225.4,79.3 225.4,90.2 225.5,87.3 225.5,84.3 225.5,88.6 225.5,90.2 225.5,83.4 225.6,84.9 225.6,87.1 225.6,81.4 225.6,87.2 225.7,85.9 225.7,82.9 225.7,82.1 225.7,87.9 225.7,90.8 225.8,88.0 225.8,82.1 225.8,90.2 225.8,87.3 225.9,89.4 225.9,92.3 225.9,81.9 225.9,85.7 226.0,83.5 226.0,82.1 226.0,96.5 226.0,91.2 226.0,77.6 226.1,88.6 226.1,83.7 226.1,92.3 226.1,87.0 226.2,85.7 226.2,87.3 226.2,88.5 226.2,86.7 226.2,85.5 226.3,85.9 226.3,89.2 226.3,81.0 226.3,86.6 226.4,86.0 226.4,84.2 226.4,90.3 226.4,80.2 226.4,84.8 226.5,82.4 226.5,89.4 226.5,84.4 226.5,86.9 226.6,88.6 226.6,78.7 226.6,89.0 226.6,83.0 226.7,85.5 226.7,86.2 226.7,90.8 226.7,90.5 226.7,95.6 226.8,87.7 226.8,84.4 226.8,84.3 226.8,90.1 226.9,94.9 226.9,88.5 226.9,84.0 226.9,88.2 226.9,88.2 227.0,87.0 227.0,83.2 227.0,74.2 227.0,84.2 227.1,92.2 227.1,88.0 227.1,75.9 227.1,87.0 227.1,77.7 227.2,96.9 227.2,87.9 227.2,81.0 227.2,91.0 227.3,83.1 227.3,89.8 227.3,87.1 227.3,81.1 227.3,90.4 227.4,80.3 227.4,93.8 227.4,87.4 227.4,81.9 227.5,78.0 227.5,95.2 227.5,94.4 227.5,80.8 227.6,95.4 227.6,88.0 227.6,86.0 227.6,86.7 227.6,85.8 227.7,94.3 227.7,87.9 227.7,78.0 227.7,97.7 227.8,91.6 227.8,81.8 227.8,85.4 227.8,82.7 227.8,87.5 227.9,89.2 227.9,88.4 227.9,84.3 227.9,83.3 228.0,91.5 228.0,86.8 228.0,98.6 228.0,83.3 228.0,91.3 228.1,87.6 228.1,83.5 228.1,94.2 228.1,88.0 228.2,82.9 228.2,85.8 228.2,92.5 228.2,81.3 228.3,94.3 228.3,90.8 228.3,86.0 228.3,94.2 228.3,96.2 228.4,90.4 228.4,88.3 228.4,96.7 228.4,95.0 228.5,82.8 228.5,86.5 228.5,86.4 228.5,85.4 228.5,80.0 228.6,92.1 228.6,88.0 228.6,88.0 228.6,94.6 228.7,84.7 228.7,87.3 228.7,89.0 228.7,85.4 228.7,87.0 228.8,91.5 228.8,87.6 228.8,94.3 228.8,83.9 228.9,88.7 228.9,80.5 228.9,87.1 228.9,84.1 228.9,94.5 229.0,91.4 229.0,90.3 229.0,97.0 229.0,95.0 229.1,91.3 229.1,84.3 229.1,80.5 229.1,87.6 229.2,86.0 229.2,84.5 229.2,86.3 229.2,79.4 229.2,95.3 229.3,82.0 229.3,84.4 229.3,90.7 229.3,79.6 229.4,92.5 229.4,92.6 229.4,86.3 229.4,82.4 229.4,85.5 229.5,78.5 229.5,94.9 229.5,88.2 229.5,84.2 229.6,83.3 229.6,90.8 229.6,95.6 229.6,81.5 229.6,85.0 229.7,79.1 229.7,91.4 229.7,88.8 229.7,99.4 229.8,87.4 229.8,85.8 229.8,84.4 229.8,92.4 229.9,79.8 229.9,91.9 229.9,89.3 229.9,85.5 229.9,83.5 230.0,93.4 230.0,97.6 230.0,85.8 230.0,90.8 230.1,97.0 230.1,85.0 230.1,86.9 230.1,81.9 230.1,87.4 230.2,87.8 230.2,86.0 230.2,84.4 230.2,80.1 230.3,81.4 230.3,83.2 230.3,91.5 230.3,85.6 230.3,83.9 230.4,91.6 230.4,91.1 230.4,84.4 230.4,85.1 230.5,91.7 230.5,90.2 230.5,84.0 230.5,89.5 230.6,88.2 230.6,94.0 230.6,83.9 230.6,92.9 230.6,90.6 230.7,83.2 230.7,93.8 230.7,93.0 230.7,81.7 230.8,98.5 230.8,82.5 230.8,83.7 230.8,86.8 230.8,92.4 230.9,91.4 230.9,88.0 230.9,95.5 230.9,90.6 231.0,95.6 231.0,101.9 231.0,89.5 231.0,75.3 231.0,86.2 231.1,83.0 231.1,89.0 231.1,89.1 231.1,82.2 231.2,82.6 231.2,87.2 231.2,87.6 231.2,75.2 231.2,93.6 231.3,88.8 231.3,88.6 231.3,90.2 231.3,83.3 231.4,88.4 231.4,94.0 231.4,94.2 231.4,91.1 231.5,87.2 231.5,84.4 231.5,95.5 231.5,91.4 231.5,86.5 231.6,77.4 231.6,84.2 231.6,78.7 231.6,95.2 231.7,89.7 231.7,84.9 231.7,87.3 231.7,102.2 231.7,95.2 231.8,81.8 231.8,88.1 231.8,82.4 231.8,79.8 231.9,89.8 231.9,101.5 231.9,97.1 231.9,89.1 231.9,86.9 232.0,90.0 232.0,94.3 232.0,81.2 232.0,79.1 232.1,98.8 232.1,90.4 232.1,97.4 232.1,90.2 232.2,96.8 232.2,85.7 232.2,91.6 232.2,97.2 232.2,94.4 232.3,86.6 232.3,93.8 232.3,85.5 232.3,81.5 232.4,91.8 232.4,96.5 232.4,93.6 232.4,82.4 232.4,93.7 232.5,92.7 232.5,86.7 232.5,75.9 232.5,94.5 232.6,93.8 232.6,91.8 232.6,79.9 232.6,81.2 232.6,94.6 232.7,93.4 232.7,91.8 232.7,87.9 232.7,91.3 232.8,86.3 232.8,87.6 232.8,84.6 232.8,90.6 232.8,87.0 232.9,94.3 232.9,93.1 232.9,84.9 232.9,99.1 233.0,83.3 233.0,91.7 233.0,95.1 233.0,96.2 233.1,77.5 233.1,94.7 233.1,95.9 233.1,97.1 233.1,77.5 233.2,85.7 233.2,88.9 233.2,87.0 233.2,96.6 233.3,85.8 233.3,96.0 233.3,92.4 233.3,81.6 233.3,84.1 233.4,86.9 233.4,90.0 233.4,94.8 233.4,88.5 233.5,94.4 233.5,81.0 233.5,76.1 233.5,87.7 233.5,92.0 233.6,87.6 233.6,84.1 233.6,91.8 233.6,100.0 233.7,89.0 233.7,85.7 233.7,85.0 233.7,100.2 233.8,89.4 233.8,92.9 233.8,96.2 233.8,95.4 233.8,84.7 233.9,94.8 233.9,94.2 233.9,92.3 233.9,95.1 234.0,86.7 234.0,89.3 234.0,86.9 234.0,93.8 234.0,86.2 234.1,91.8 234.1,83.9 234.1,89.1 234.1,87.8 234.2,89.2 234.2,90.5 234.2,88.8 234.2,88.6 234.2,78.7 234.3,95.8 234.3,86.5 234.3,88.5 234.3,85.4 234.4,95.2 234.4,85.0 234.4,92.6 234.4,96.2 234.5,98.7 234.5,96.3 234.5,93.2 234.5,83.5 234.5,96.9 234.6,96.3 234.6,94.5 234.6,94.3 234.6,90.4 234.7,87.2 234.7,95.8 234.7,96.8 234.7,84.4 234.7,94.9 234.8,91.4 234.8,94.8 234.8,91.5 234.8,96.1 234.9,95.6 234.9,94.9 234.9,82.7 234.9,94.6 234.9,90.4 235.0,84.1 235.0,94.0 235.0,82.9 235.0,95.0 235.1,99.3 235.1,87.5 235.1,95.2 235.1,92.7 235.1,93.7 235.2,83.0 235.2,93.5 235.2,91.0 235.2,94.3 235.3,90.4 235.3,96.2 235.3,91.8 235.3,94.0 235.4,97.7 235.4,91.4 235.4,95.7 235.4,91.6 235.4,93.2 235.5,87.6 235.5,94.6 235.5,97.0 235.5,90.0 235.6,94.7 235.6,92.8 235.6,84.6 235.6,92.4 235.6,97.5 235.7,88.0 235.7,81.1 235.7,91.7 235.7,87.2 235.8,100.7 235.8,90.4 235.8,90.6 235.8,87.3 235.8,92.0 235.9,87.7 235.9,85.9 235.9,90.3 235.9,86.4 236.0,97.7 236.0,84.5 236.0,90.3 236.0,87.1 236.1,83.4 236.1,99.5 236.1,79.6 236.1,98.4 236.1,83.3 236.2,91.2 236.2,102.7 236.2,79.5 236.2,83.5 236.3,97.7 236.3,91.7 236.3,87.9 236.3,90.7 236.3,85.7 236.4,91.5 236.4,98.7 236.4,88.8 236.4,91.6 236.5,97.2 236.5,101.4 236.5,87.8 236.5,92.5 236.5,88.0 236.6,87.5 236.6,88.8 236.6,87.6 236.6,81.8 236.7,80.5 236.7,87.1 236.7,91.7 236.7,97.4 236.7,88.2 236.8,90.1 236.8,94.5 236.8,94.9 236.8,90.4 236.9,90.8 236.9,100.9 236.9,89.3 236.9,88.5 237.0,82.5 237.0,93.4 237.0,89.7 237.0,101.2 237.0,89.4 237.1,95.4 237.1,96.1 237.1,99.8 237.1,84.3 237.2,99.4 237.2,91.2 237.2,90.6 237.2,89.6 237.2,89.1 237.3,89.4 237.3,78.9 237.3,93.9 237.3,91.6 237.4,86.2 237.4,90.9 237.4,103.4 237.4,93.3 237.4,89.2 237.5,100.3 237.5,87.1 237.5,90.5 237.5,88.4 237.6,90.1 237.6,95.2 237.6,94.4 237.6,87.5 237.7,90.7 237.7,91.8 237.7,89.2 237.7,91.2 237.7,87.6 237.8,87.5 237.8,91.6 237.8,86.0 237.8,93.6 237.9,90.4 237.9,86.6 237.9,88.2 237.9,88.9 237.9,90.6 238.0,92.1 238.0,90.4 238.0,86.9 238.0,99.0 238.1,96.3 238.1,92.1 238.1,96.5 238.1,93.2 238.1,90.2 238.2,92.0 238.2,104.9 238.2,96.8 238.2,97.0 238.3,89.5 238.3,94.7 238.3,103.4 238.3,93.8 238.4,97.2 238.4,98.2 238.4,95.0 238.4,99.9 238.4,92.9 238.5,94.3 238.5,88.4 238.5,105.0 238.5,93.3 238.6,92.3 238.6,99.0 238.6,89.2 238.6,91.7 238.6,87.6 238.7,91.9 238.7,89.7 238.7,94.6 238.7,91.1 238.8,88.6 238.8,90.2 238.8,91.2 238.8,89.1 238.8,96.7 238.9,95.3 238.9,92.6 238.9,85.6 238.9,94.5 239.0,85.2 239.0,92.8 239.0,92.1 239.0,88.8 239.0,87.6 239.1,88.3 239.1,102.6 239.1,90.5 239.1,90.8 239.2,96.9 239.2,94.1 239.2,97.5 239.2,85.6 239.3,86.3 239.3,105.3 239.3,91.8 239.3,90.5 239.3,92.8 239.4,97.2 239.4,85.8 239.4,93.5 239.4,91.9 239.5,95.5 239.5,93.0 239.5,89.3 239.5,87.6 239.5,79.4 239.6,97.2 239.6,84.5 239.6,90.0 239.6,100.8 239.7,90.0 239.7,95.3 239.7,91.0 239.7,95.8 239.7,92.3 239.8,89.5 239.8,99.2 239.8,90.8 239.8,85.2 239.9,90.5 239.9,95.0 239.9,86.4 239.9,96.3 240.0,96.2 240.0,103.3 240.0,88.9 240.0,95.7 240.0,83.6 240.1,90.1 240.1,92.8 240.1,94.4 240.1,92.0 240.2,91.8 240.2,89.2 240.2,90.0 240.2,93.9 240.2,95.3 240.3,95.7 240.3,97.5 240.3,98.5 240.3,83.1 240.4,89.7 240.4,91.6 240.4,89.1 240.4,97.8 240.4,96.3 240.5,91.9 240.5,93.1 240.5,99.0 240.5,90.7 240.6,90.9 240.6,97.2 240.6,94.9 240.6,99.9 240.6,94.4 240.7,96.4 240.7,89.7 240.7,87.7 240.7,92.5 240.8,78.9 240.8,94.7 240.8,97.6 240.8,93.0 240.9,91.5 240.9,98.2 240.9,92.4 240.9,97.7 240.9,104.0 241.0,96.4 241.0,97.5 241.0,95.2 241.0,94.0 241.1,94.1 241.1,93.0 241.1,98.3 241.1,84.4 241.1,91.3 241.2,96.1 241.2,88.4 241.2,92.2 241.2,89.2 241.3,95.0 241.3,97.2 241.3,100.3 241.3,95.4 241.3,89.1 241.4,94.1 241.4,95.8 241.4,100.1 241.4,81.8 241.5,94.8 241.5,83.4 241.5,96.6 241.5,95.2 241.6,95.5 241.6,97.5 241.6,94.9 241.6,89.6 241.6,94.7 241.7,99.1 241.7,92.3 241.7,93.1 241.7,86.7 241.8,98.9 241.8,90.4 241.8,89.2 241.8,90.7 241.8,88.6 241.9,91.7 241.9,99.6 241.9,97.1 241.9,100.4 242.0,100.7 242.0,88.4 242.0,95.5 242.0,100.8 242.0,104.9 242.1,85.8 242.1,85.8 242.1,95.5 242.1,91.4 242.2,88.0 242.2,95.1 242.2,89.1 242.2,81.5 242.2,93.0 242.3,93.8 242.3,96.5 242.3,98.0 242.3,94.1 242.4,92.0 242.4,89.8 242.4,84.7 242.4,91.0 242.5,98.4 242.5,96.6 242.5,103.8 242.5,92.5 242.5,84.1 242.6,97.5 242.6,98.6 242.6,87.3 242.6,85.0 242.7,94.1 242.7,97.0 242.7,87.5 242.7,91.6 242.7,89.3 242.8,87.3 242.8,86.6 242.8,94.1 242.8,91.4 242.9,89.9 242.9,79.9 242.9,102.4 242.9,88.5 242.9,92.7 243.0,87.5 243.0,95.4 243.0,85.6 243.0,93.9 243.1,92.5 243.1,98.2 243.1,87.8 243.1,90.1 243.2,92.3 243.2,104.3 243.2,85.9 243.2,95.0 243.2,90.1 243.3,95.1 243.3,96.9 243.3,94.2 243.3,94.9 243.4,95.0 243.4,90.5 243.4,92.4 243.4,85.0 243.4,91.7 243.5,89.6 243.5,92.3 243.5,97.4 243.5,95.6 243.6,96.0 243.6,99.3 243.6,81.3 243.6,95.8 243.6,93.5 243.7,93.1 243.7,86.9 243.7,96.5 243.7,99.6 243.8,99.0 243.8,93.2 243.8,97.0 243.8,98.4 243.9,103.1 243.9,100.0 243.9,94.5 243.9,94.2 243.9,94.6 244.0,94.9 244.0,91.2 244.0,97.7 244.0,90.2 244.1,89.6 244.1,95.6 244.1,90.8 244.1,92.5 244.1,83.1 244.2,97.9 244.2,93.8 244.2,93.2 244.2,96.2 244.3,94.9 244.3,90.3 244.3,104.2 244.3,91.6 244.3,98.9 244.4,103.3 244.4,90.7 244.4,94.4 244.4,89.7 244.5,99.3 244.5,92.2 244.5,88.3 244.5,100.7 244.5,98.7 244.6,89.4 244.6,100.1 244.6,95.0 244.6,107.5 244.7,102.9 244.7,91.2 244.7,92.6 244.7,89.5 244.8,94.7 244.8,94.3 244.8,97.9 244.8,94.5 244.8,86.5 244.9,89.9 244.9,101.4 244.9,100.1 244.9,93.3 245.0,93.4 245.0,93.3 245.0,94.3 245.0,85.5 245.0,98.8 245.1,90.8 245.1,94.9 245.1,81.1 245.1,95.4 245.2,101.1 245.2,82.7 245.2,102.1 245.2,96.7 245.2,90.4 245.3,86.1 245.3,100.2 245.3,95.6 245.3,97.3 245.4,92.9 245.4,90.2 245.4,98.8 245.4,89.4 245.5,99.0 245.5,85.7 245.5,89.6 245.5,86.8 245.5,101.1 245.6,85.3 245.6,88.5 245.6,97.8 245.6,95.6 245.7,105.7 245.7,103.9 245.7,97.6 245.7,98.0 245.7,85.0 245.8,89.9 245.8,92.7 245.8,93.5 245.8,87.4 245.9,89.7 245.9,90.1 245.9,100.0 245.9,96.7 245.9,92.8 246.0,93.1 246.0,96.0 246.0,90.9 246.0,93.2 246.1,85.7 246.1,98.0 246.1,99.5 246.1,96.5 246.1,97.1 246.2,96.5 246.2,105.2 246.2,95.7 246.2,87.8 246.3,89.2 246.3,98.3 246.3,100.2 246.3,98.6 246.4,99.0 246.4,95.6 246.4,87.0 246.4,91.0 246.4,85.3 246.5,92.7 246.5,87.7 246.5,95.2 246.5,93.9 246.6,84.6 246.6,98.5 246.6,98.7 246.6,87.6 246.6,95.5 246.7,98.5 246.7,93.3 246.7,99.2 246.7,95.8 246.8,100.4 246.8,95.8 246.8,94.0 246.8,97.5 246.8,98.9 246.9,96.1 246.9,92.5 246.9,90.8 246.9,92.9 247.0,91.9 247.0,95.9 247.0,95.8 247.0,94.4 247.1,94.9 247.1,95.8 247.1,103.1 247.1,101.2 247.1,91.9 247.2,97.1 247.2,93.2 247.2,94.4 247.2,93.7 247.3,91.7 247.3,87.9 247.3,82.1 247.3,96.0 247.3,101.2 247.4,90.3 247.4,97.6 247.4,93.0 247.4,96.5 247.5,90.8 247.5,93.8 247.5,94.5 247.5,82.6 247.5,96.2 247.6,94.3 247.6,82.1 247.6,98.5 247.6,94.9 247.7,96.2 247.7,97.0 247.7,92.9 247.7,89.5 247.8,92.8 247.8,92.9 247.8,106.7 247.8,104.8 247.8,92.6 247.9,93.0 247.9,96.9 247.9,98.1 247.9,91.6 248.0,89.9 248.0,105.3 248.0,100.7 248.0,87.1 248.0,86.0 248.1,90.9 248.1,96.4 248.1,98.1 248.1,93.5 248.2,86.8 248.2,96.4 248.2,98.4 248.2,95.3 248.2,92.7 248.3,98.3 248.3,95.0 248.3,89.4 248.3,95.8 248.4,88.5 248.4,100.4 248.4,97.8 248.4,90.1 248.4,96.5 248.5,101.9 248.5,84.1 248.5,94.6 248.5,104.1 248.6,87.2 248.6,94.5 248.6,87.9 248.6,95.1 248.7,82.8 248.7,86.9 248.7,92.6 248.7,96.2 248.7,97.5 248.8,97.7 248.8,101.6 248.8,99.2 248.8,99.4 248.9,90.3 248.9,94.7 248.9,109.2 248.9,107.5 248.9,99.9 249.0,99.5 249.0,100.8 249.0,93.4 249.0,106.0 249.1,93.6 249.1,95.2 249.1,107.2 249.1,84.6 249.1,97.6 249.2,86.5 249.2,92.2 249.2,95.2 249.2,93.8 249.3,96.6 249.3,91.6 249.3,95.1 249.3,89.4 249.4,93.7 249.4,88.3 249.4,99.2 249.4,88.8 249.4,99.4 249.5,93.6 249.5,94.2 249.5,102.1 249.5,96.4 249.6,85.7 249.6,98.5 249.6,82.4 249.6,97.3 249.6,93.7 249.7,88.4 249.7,96.3 249.7,94.2 249.7,106.6 249.8,93.5 249.8,106.3 249.8,103.3 249.8,92.6 249.8,91.5 249.9,103.0 249.9,95.2 249.9,96.8 249.9,94.6 250.0,89.5 250.0,94.0 250.0,90.8 250.0,87.8 250.0,94.4 250.1,105.6 250.1,104.7 250.1,95.7 250.1,96.8 250.2,98.8 250.2,103.4 250.2,97.8 250.2,93.5 250.3,94.0 250.3,102.2 250.3,109.8 250.3,92.7 250.3,85.1 250.4,100.5 250.4,95.7 250.4,96.9 250.4,102.8 250.5,96.5 250.5,89.0 250.5,85.6 250.5,95.9 250.5,90.0 250.6,97.8 250.6,89.3 250.6,94.3 250.6,88.3 250.7,94.3 250.7,93.8 250.7,99.5 250.7,103.5 250.7,95.3 250.8,91.6 250.8,106.9 250.8,98.3 250.8,99.6 250.9,99.6 250.9,104.2 250.9,101.8 250.9,100.0 251.0,100.5 251.0,91.7 251.0,93.1 251.0,95.8 251.0,96.9 251.1,96.5 251.1,98.1 251.1,96.6 251.1,94.1 251.2,87.7 251.2,101.0 251.2,99.7 251.2,91.7 251.2,99.2 251.3,98.6 251.3,96.9 251.3,86.6 251.3,90.0 251.4,93.3 251.4,105.3 251.4,91.9 251.4,94.7 251.4,90.6 251.5,93.9 251.5,98.5 251.5,85.4 251.5,83.2 251.6,100.2 251.6,96.8 251.6,93.4 251.6,101.9 251.6,101.9 251.7,85.3 251.7,95.8 251.7,102.7 251.7,93.1 251.8,95.0 251.8,101.9 251.8,95.3 251.8,90.3 251.9,93.0 251.9,89.6 251.9,99.8 251.9,87.4 251.9,102.2 252.0,87.9 252.0,97.0 252.0,88.9 252.0,95.1 252.1,102.4 252.1,102.9 252.1,103.9 252.1,96.4 252.1,97.4 252.2,98.1 252.2,100.2 252.2,94.7 252.2,102.9 252.3,98.7 252.3,103.1 252.3,99.5 252.3,100.6 252.3,93.0 252.4,94.7 252.4,90.0 252.4,95.4 252.4,96.0 252.5,101.5 252.5,90.2 252.5,110.7 252.5,96.4 252.6,103.8 252.6,102.7 252.6,83.6 252.6,95.6 252.6,105.0 252.7,83.9 252.7,101.2 252.7,92.1 252.7,94.6 252.8,98.3 252.8,87.0 252.8,98.2 252.8,93.6 252.8,93.1 252.9,101.0 252.9,110.9 252.9,99.0 252.9,100.2 253.0,96.9 253.0,93.3 253.0,98.6 253.0,105.4 253.0,98.2 253.1,102.1 253.1,96.0 253.1,110.9 253.1,88.3 253.2,100.4 253.2,100.2 253.2,98.7 253.2,91.2 253.3,91.1 253.3,96.0 253.3,97.8 253.3,90.7 253.3,91.5 253.4,100.4 253.4,102.9 253.4,94.3 253.4,93.5 253.5,93.4 253.5,110.8 253.5,100.0 253.5,97.0 253.5,102.8 253.6,109.8 253.6,103.7 253.6,89.6 253.6,96.9 253.7,95.2 253.7,95.6 253.7,90.8 253.7,95.3 253.7,91.6 253.8,99.3 253.8,97.7 253.8,89.8 253.8,88.2 253.9,94.9 253.9,101.0 253.9,100.2 253.9,97.1 253.9,84.2 254.0,94.8 254.0,93.5 254.0,95.7 254.0,90.9 254.1,95.2 254.1,93.9 254.1,111.4 254.1,101.4 254.2,96.5 254.2,97.3 254.2,97.0 254.2,98.6 254.2,95.4 254.3,97.5 254.3,103.2 254.3,102.2 254.3,99.3 254.4,104.9 254.4,98.9 254.4,92.3 254.4,88.2 254.4,93.9 254.5,97.4 254.5,99.9 254.5,103.6 254.5,94.6 254.6,93.4 254.6,102.0 254.6,104.2 254.6,95.2 254.6,99.6 254.7,105.3 254.7,99.6 254.7,97.5 254.7,86.5 254.8,105.1 254.8,101.4 254.8,98.5 254.8,95.3 254.9,91.1 254.9,97.3 254.9,97.3 254.9,103.9 254.9,91.3 255.0,105.8 255.0,98.1 255.0,104.4 255.0,92.7 255.1,99.8 255.1,104.6 255.1,98.6 255.1,90.0 255.1,96.2 255.2,100.9 255.2,90.4 255.2,90.2 255.2,99.3 255.3,92.9 255.3,101.8 255.3,91.7 255.3,88.1 255.3,93.8 255.4,106.2 255.4,93.4 255.4,98.1 255.4,99.5 255.5,92.9 255.5,104.1 255.5,99.1 255.5,100.6 255.5,89.0 255.6,88.6 255.6,84.8 255.6,97.2 255.6,96.9 255.7,102.1 255.7,106.3 255.7,96.8 255.7,96.8 255.8,100.7 255.8,106.6 255.8,93.8 255.8,101.7 255.8,96.9 255.9,96.5 255.9,102.7 255.9,94.0 255.9,92.5 256.0,102.0 256.0,98.2 256.0,96.9 256.0,97.6 256.0,101.1 256.1,96.4 256.1,102.6 256.1,100.7 256.1,106.5 256.2,105.3 256.2,103.1 256.2,97.3 256.2,99.1 256.2,95.2 256.3,112.2 256.3,97.3 256.3,101.5 256.3,105.9 256.4,91.1 256.4,94.0 256.4,96.4 256.4,93.1 256.5,91.6 256.5,95.7 256.5,105.6 256.5,102.5 256.5,98.8 256.6,98.8 256.6,89.6 256.6,102.4 256.6,100.9 256.7,92.8 256.7,99.8 256.7,97.6 256.7,95.8 256.7,93.3 256.8,95.0 256.8,93.6 256.8,101.2 256.8,100.7 256.9,100.5 256.9,97.7 256.9,96.5 256.9,109.9 256.9,88.6 257.0,105.3 257.0,100.7 257.0,99.2 257.0,96.0 257.1,97.6 257.1,92.4 257.1,91.3 257.1,98.2 257.2,89.8 257.2,103.4 257.2,104.9 257.2,85.4 257.2,90.4 257.3,100.4 257.3,100.1 257.3,99.5 257.3,101.2 257.4,103.0 257.4,103.7 257.4,108.7 257.4,99.1 257.4,103.7 257.5,90.2 257.5,98.3 257.5,92.4 257.5,106.6 257.6,111.7 257.6,102.0 257.6,92.0 257.6,98.4 257.6,99.2 257.7,100.2 257.7,105.0 257.7,104.3 257.7,85.7 257.8,106.6 257.8,96.4 257.8,96.1 257.8,106.9 257.8,97.7 257.9,91.7 257.9,92.0 257.9,99.5 257.9,104.1 258.0,107.4 258.0,98.3 258.0,96.7 258.0,108.1 258.1,96.8 258.1,107.2 258.1,100.5 258.1,100.6 258.1,98.0 258.2,100.9 258.2,96.8 258.2,95.6 258.2,98.6 258.3,95.8 258.3,101.0 258.3,99.8 258.3,97.9 258.3,98.3 258.4,98.1 258.4,108.8 258.4,99.3 258.4,96.2 258.5,97.8 258.5,103.0 258.5,98.3 258.5,98.6 258.5,98.1 258.6,100.4 258.6,101.6 258.6,101.9 258.6,90.6 258.7,93.7 258.7,86.0 258.7,103.9 258.7,105.5 258.8,106.6 258.8,100.3 258.8,105.8 258.8,99.4 258.8,98.9 258.9,91.2 258.9,95.3 258.9,96.4 258.9,104.6 259.0,108.6 259.0,97.1 259.0,101.7 259.0,101.1 259.0,95.4 259.1,90.3 259.1,95.6 259.1,91.9 259.1,98.0 259.2,98.9 259.2,98.7 259.2,98.8 259.2,102.3 259.2,94.7 259.3,104.6 259.3,90.6 259.3,100.1 259.3,101.9 259.4,95.5 259.4,91.1 259.4,103.2 259.4,96.1 259.4,104.0 259.5,104.0 259.5,99.8 259.5,99.8 259.5,105.2 259.6,101.9 259.6,94.8 259.6,100.8 259.6,102.9 259.7,101.0 259.7,100.9 259.7,99.1 259.7,99.3 259.7,94.8 259.8,92.2 259.8,106.0 259.8,96.5 259.8,101.1 259.9,91.8 259.9,100.8 259.9,95.5 259.9,113.7 259.9,94.5 260.0,94.8 260.0,105.1 260.0,106.2 260.0,88.6 260.1,101.4 260.1,104.8 260.1,93.4 260.1,103.8 260.1,97.2 260.2,94.7 260.2,98.2 260.2,97.6 260.2,92.6 260.3,112.2 260.3,97.7 260.3,96.1 260.3,104.8 260.4,99.8 260.4,107.4 260.4,98.7 260.4,102.1 260.4,100.7 260.5,101.1 260.5,99.1 260.5,99.6 260.5,109.3 260.6,96.5 260.6,97.3 260.6,98.4 260.6,103.3 260.6,102.4 260.7,105.3 260.7,93.0 260.7,101.7 260.7,99.3 260.8,98.8 260.8,101.2 260.8,89.7 260.8,101.8 260.8,101.1 260.9,92.6 260.9,99.8 260.9,108.7 260.9,98.3 261.0,103.6 261.0,99.2 261.0,96.0 261.0,95.4 261.1,98.3 261.1,107.5 261.1,104.8 261.1,96.6 261.1,105.9 261.2,99.8 261.2,96.7 261.2,102.8 261.2,95.6 261.3,92.0 261.3,107.5 261.3,90.7 261.3,103.5 261.3,92.3 261.4,100.4 261.4,99.5 261.4,98.2 261.4,88.8 261.5,100.0 261.5,100.4 261.5,95.8 261.5,100.3 261.5,106.0 261.6,96.8 261.6,102.0 261.6,94.5 261.6,102.7 261.7,104.1 261.7,114.0 261.7,105.6 261.7,103.0 261.7,108.3 261.8,95.4 261.8,106.5 261.8,97.8 261.8,97.4 261.9,106.7 261.9,102.0 261.9,107.9 261.9,93.0 262.0,102.3 262.0,98.0 262.0,99.4 262.0,90.6 262.0,105.9 262.1,102.0 262.1,95.6 262.1,93.7 262.1,96.2 262.2,108.4 262.2,100.4 262.2,99.1 262.2,103.6 262.2,101.0 262.3,102.2 262.3,105.0 262.3,102.8 262.3,105.7 262.4,94.6 262.4,101.4 262.4,99.1 262.4,101.6 262.4,100.9 262.5,97.7 262.5,99.2 262.5,106.2 262.5,98.2 262.6,94.5 262.6,104.3 262.6,106.4 262.6,99.7 262.7,101.9 262.7,96.7 262.7,100.1 262.7,107.1 262.7,105.5 262.8,102.0 262.8,99.8 262.8,92.5 262.8,103.0 262.9,103.7 262.9,106.9 262.9,112.1 262.9,103.3 262.9,106.4 263.0,95.4 263.0,107.8 263.0,106.0 263.0,108.6 263.1,105.0 263.1,103.8 263.1,109.3 263.1,97.9 263.1,104.9 263.2,107.2 263.2,97.3 263.2,95.3 263.2,103.8 263.3,102.2 263.3,104.7 263.3,104.9 263.3,97.4 263.3,103.3 263.4,107.6 263.4,99.7 263.4,100.1 263.4,95.6 263.5,105.9 263.5,112.0 263.5,94.3 263.5,105.7 263.6,106.4 263.6,98.7 263.6,99.7 263.6,96.1 263.6,97.5 263.7,102.6 263.7,105.2 263.7,102.3 263.7,106.3 263.8,102.8 263.8,95.5 263.8,109.5 263.8,108.1 263.8,98.0 263.9,111.2 263.9,104.3 263.9,102.5 263.9,112.0 264.0,88.6 264.0,93.3 264.0,105.7 264.0,100.6 264.0,96.9 264.1,109.9 264.1,104.5 264.1,95.1 264.1,98.4 264.2,106.5 264.2,111.5 264.2,91.3 264.2,103.3 264.3,100.0 264.3,92.7 264.3,101.1 264.3,93.5 264.3,99.2 264.4,110.7 264.4,104.8 264.4,106.2 264.4,105.3 264.5,104.0 264.5,107.3 264.5,95.9 264.5,100.2 264.5,106.7 264.6,98.3 264.6,99.8 264.6,108.6 264.6,110.4 264.7,99.0 264.7,97.9 264.7,105.3 264.7,103.7 264.7,98.7 264.8,105.4 264.8,105.2 264.8,102.7 264.8,115.7 264.9,109.6 264.9,106.7 264.9,107.8 264.9,115.8 264.9,108.2 265.0,98.5 265.0,104.1 265.0,102.8 265.0,99.4 265.1,103.8 265.1,103.8 265.1,102.1 265.1,99.9 265.2,106.9 265.2,94.0 265.2,106.9 265.2,102.5 265.2,104.0 265.3,89.8 265.3,111.5 265.3,93.3 265.3,97.9 265.4,106.0 265.4,99.3 265.4,100.4 265.4,90.6 265.4,100.2 265.5,103.7 265.5,106.2 265.5,101.1 265.5,103.8 265.6,105.0 265.6,99.0 265.6,98.6 265.6,113.1 265.6,98.1 265.7,109.3 265.7,103.1 265.7,110.6 265.7,99.3 265.8,105.5 265.8,104.5 265.8,101.5 265.8,104.4 265.9,98.6 265.9,102.3 265.9,100.6 265.9,106.9 265.9,102.3 266.0,95.4 266.0,100.8 266.0,102.3 266.0,98.0 266.1,110.0 266.1,105.0 266.1,107.4 266.1,98.8 266.1,100.7 266.2,108.3 266.2,95.2 266.2,104.9 266.2,103.4 266.3,100.2 266.3,103.4 266.3,97.2 266.3,104.2 266.3,96.4 266.4,96.1 266.4,110.5 266.4,99.2 266.4,91.7 266.5,108.2 266.5,98.9 266.5,89.1 266.5,102.7 266.6,108.0 266.6,104.9 266.6,112.3 266.6,102.4 266.6,106.3 266.7,97.7 266.7,104.0 266.7,111.3 266.7,105.8 266.8,104.0 266.8,92.5 266.8,101.1 266.8,96.2 266.8,107.3 266.9,99.2 266.9,105.1 266.9,97.8 266.9,113.3 267.0,96.9 267.0,104.0 267.0,116.6 267.0,104.4 267.0,98.6 267.1,106.6 267.1,108.6 267.1,108.0 267.1,92.7 267.2,104.5 267.2,91.9 267.2,113.5 267.2,103.7 267.2,100.9 267.3,107.0 267.3,106.0 267.3,97.0 267.3,112.1 267.4,102.1 267.4,93.9 267.4,110.9 267.4,111.7 267.5,110.2 267.5,106.4 267.5,98.6 267.5,108.5 267.5,113.5 267.6,107.9 267.6,112.1 267.6,99.3 267.6,109.0 267.7,108.6 267.7,95.5 267.7,94.7 267.7,99.6 267.7,104.0 267.8,106.0 267.8,102.3 267.8,103.2 267.8,103.0 267.9,104.1 267.9,106.8 267.9,106.3 267.9,103.3 267.9,105.0 268.0,101.2 268.0,108.0 268.0,100.9 268.0,112.6 268.1,103.6 268.1,105.2 268.1,99.6 268.1,101.8 268.2,104.6 268.2,103.8 268.2,100.4 268.2,97.5 268.2,104.0 268.3,104.6 268.3,106.8 268.3,110.6 268.3,102.1 268.4,93.0 268.4,103.0 268.4,93.8 268.4,96.9 268.4,109.4 268.5,106.9 268.5,100.4 268.5,100.4 268.5,103.4 268.6,94.4 268.6,106.5 268.6,102.0 268.6,113.9 268.6,98.2 268.7,109.4 268.7,100.2 268.7,109.5 268.7,98.6 268.8,108.0 268.8,101.6 268.8,99.5 268.8,103.2 268.8,106.6 268.9,106.2 268.9,112.6 268.9,108.5 268.9,90.1 269.0,101.9 269.0,93.2 269.0,102.0 269.0,107.5 269.1,96.8 269.1,97.7 269.1,104.9 269.1,102.6 269.1,112.8 269.2,105.9 269.2,107.1 269.2,113.7 269.2,101.5 269.3,104.2 269.3,98.8 269.3,105.6 269.3,109.9 269.3,111.7 269.4,104.0 269.4,100.4 269.4,100.1 269.4,96.7 269.5,104.9 269.5,111.7 269.5,91.4 269.5,92.4 269.5,112.0 269.6,95.5 269.6,106.1 269.6,97.5 269.6,108.6 269.7,108.6 269.7,105.3 269.7,108.9 269.7,104.7 269.8,107.5 269.8,114.4 269.8,110.4 269.8,100.9 269.8,100.1 269.9,103.2 269.9,103.2 269.9,104.9 269.9,101.2 270.0,108.1 270.0,104.7 270.0,106.5 270.0,104.6 270.0,107.9 270.1,98.0 270.1,113.2 270.1,106.5 270.1,107.1 270.2,108.0 270.2,110.5 270.2,108.7 270.2,106.0 270.2,103.7 270.3,95.7 270.3,105.9 270.3,103.0 270.3,103.0 270.4,117.9 270.4,94.6 270.4,105.0 270.4,111.4 270.5,110.0 270.5,111.6 270.5,97.9 270.5,99.5 270.5,108.2 270.6,103.2 270.6,114.2 270.6,106.1 270.6,105.9 270.7,107.3 270.7,103.4 270.7,105.5 270.7,101.2 270.7,104.7 270.8,102.3 270.8,106.3 270.8,97.2 270.8,96.8 270.9,107.5 270.9,106.2 270.9,99.7 270.9,103.8 270.9,99.3 271.0,116.2 271.0,96.5 271.0,114.4 271.0,100.6 271.1,107.4 271.1,103.6 271.1,103.0 271.1,110.2 271.1,109.6 271.2,103.5 271.2,100.2 271.2,116.5 271.2,112.8 271.3,105.9 271.3,103.5 271.3,106.8 271.3,105.6 271.4,111.8 271.4,99.9 271.4,105.3 271.4,100.9 271.4,112.4 271.5,115.1 271.5,104.8 271.5,108.2 271.5,113.0 271.6,103.7 271.6,100.2 271.6,111.0 271.6,108.1 271.6,104.2 271.7,113.3 271.7,106.6 271.7,95.6 271.7,107.3 271.8,105.1 271.8,115.7 271.8,105.3 271.8,104.3 271.8,107.8 271.9,106.8 271.9,97.7 271.9,106.1 271.9,103.7 272.0,113.2 272.0,118.6 272.0,99.4 272.0,100.2 272.1,100.9 272.1,101.9 272.1,101.7 272.1,105.8 272.1,111.5 272.2,98.4 272.2,97.1 272.2,95.5 272.2,111.6 272.3,112.9 272.3,97.2 272.3,96.7 272.3,106.3 272.3,111.6 272.4,111.2 272.4,106.7 272.4,109.4 272.4,107.5 272.5,102.6 272.5,116.1 272.5,105.7 272.5,99.6 272.5,103.2 272.6,97.3 272.6,105.8 272.6,111.8 272.6,98.8 272.7,111.9 272.7,117.2 272.7,107.9 272.7,99.4 272.7,101.1 272.8,104.0 272.8,98.8 272.8,99.0 272.8,104.4 272.9,104.9 272.9,109.2 272.9,99.3 272.9,116.1 273.0,111.7 273.0,110.8 273.0,102.3 273.0,115.4 273.0,104.0 273.1,115.9 273.1,111.8 273.1,101.0 273.1,103.5 273.2,116.2 273.2,111.5 273.2,105.1 273.2,107.1 273.2,107.1 273.3,101.8 273.3,104.9 273.3,102.4 273.3,103.7 273.4,108.6 273.4,100.8 273.4,110.1 273.4,106.7 273.4,110.3 273.5,111.0 273.5,112.9 273.5,109.6 273.5,110.0 273.6,105.1 273.6,109.3 273.6,101.2 273.6,104.8 273.7,110.3 273.7,105.9 273.7,108.6 273.7,100.4 273.7,113.7 273.8,103.0 273.8,108.4 273.8,106.1 273.8,111.4 273.9,104.1 273.9,100.8 273.9,95.8 273.9,104.6 273.9,99.7 274.0,109.2 274.0,114.2 274.0,94.1 274.0,99.2 274.1,108.0 274.1,113.1 274.1,108.0 274.1,108.1 274.1,109.1 274.2,109.5 274.2,115.4 274.2,109.8 274.2,99.6 274.3,103.8 274.3,107.6 274.3,102.0 274.3,105.0 274.4,103.6 274.4,102.6 274.4,110.3 274.4,104.3 274.4,100.5 274.5,102.6 274.5,106.7 274.5,118.1 274.5,107.9 274.6,114.7 274.6,109.3 274.6,94.7 274.6,108.6 274.6,101.9 274.7,99.1 274.7,100.6 274.7,116.4 274.7,97.9 274.8,103.2 274.8,113.0 274.8,110.3 274.8,97.2 274.8,106.0 274.9,103.8 274.9,105.6 274.9,110.8 274.9,103.5 275.0,104.9 275.0,114.7 275.0,96.5 275.0,104.7 275.0,109.3 275.1,99.8 275.1,103.3 275.1,99.5 275.1,107.6 275.2,103.3 275.2,111.1 275.2,112.4 275.2,107.0 275.3,104.7 275.3,108.2 275.3,107.1 275.3,100.1 275.3,112.7 275.4,108.1 275.4,111.2 275.4,99.3 275.4,111.7 275.5,118.5 275.5,110.3 275.5,98.9 275.5,107.1 275.5,106.6 275.6,108.1 275.6,105.6 275.6,109.7 275.6,104.4 275.7,108.2 275.7,103.1 275.7,107.5 275.7,112.5 275.7,104.3 275.8,110.7 275.8,102.1 275.8,104.9 275.8,105.7 275.9,113.9 275.9,102.8 275.9,113.8 275.9,98.9 276.0,106.2 276.0,112.1 276.0,110.9 276.0,101.5 276.0,100.3 276.1,111.9 276.1,100.1 276.1,110.3 276.1,104.2 276.2,107.1 276.2,120.0 276.2,115.7 276.2,111.8 276.2,99.5 276.3,108.9 276.3,107.5 276.3,106.6 276.3,114.6 276.4,97.7 276.4,109.0 276.4,107.9 276.4,103.1 276.4,116.8 276.5,100.2 276.5,107.4 276.5,107.7 276.5,95.1 276.6,99.3 276.6,101.9 276.6,111.7 276.6,112.5 276.6,110.6 276.7,108.6 276.7,95.1 276.7,108.5 276.7,104.5 276.8,113.8 276.8,114.8 276.8,119.8 276.8,111.3 276.9,111.9 276.9,101.7 276.9,107.8 276.9,100.5 276.9,112.4 277.0,100.8 277.0,106.2 277.0,102.9 277.0,104.8 277.1,110.0 277.1,104.3 277.1,108.7 277.1,101.9 277.1,115.2 277.2,103.9 277.2,113.1 277.2,119.4 277.2,93.9 277.3,102.0 277.3,106.4 277.3,114.0 277.3,104.8 277.3,109.7 277.4,103.5 277.4,110.7 277.4,100.8 277.4,112.2 277.5,93.5 277.5,97.1 277.5,117.7 277.5,108.6 277.6,102.6 277.6,119.9 277.6,113.5 277.6,113.9 277.6,105.3 277.7,111.1 277.7,110.5 277.7,98.4 277.7,111.0 277.8,106.7 277.8,114.9 277.8,115.0 277.8,104.1 277.8,104.3 277.9,108.8 277.9,111.4 277.9,105.4 277.9,107.1 278.0,111.2 278.0,110.1 278.0,114.3 278.0,109.1 278.0,102.8 278.1,97.9 278.1,112.4 278.1,106.0 278.1,105.9 278.2,106.2 278.2,99.0 278.2,105.7 278.2,93.8 278.2,105.6 278.3,102.9 278.3,118.2 278.3,110.4 278.3,106.7 278.4,108.8 278.4,112.0 278.4,103.7 278.4,106.6 278.5,105.9 278.5,121.3 278.5,108.4 278.5,96.9 278.5,112.5 278.6,121.4 278.6,102.6 278.6,121.4 278.6,107.7 278.7,113.7 278.7,104.8 278.7,106.5 278.7,101.1 278.7,102.1 278.8,96.0 278.8,114.5 278.8,101.6 278.8,110.2 278.9,110.0 278.9,104.4 278.9,108.4 278.9,107.6 278.9,105.3 279.0,108.4 279.0,108.4 279.0,102.4 279.0,100.8 279.1,103.4 279.1,108.9 279.1,116.0 279.1,116.5 279.2,110.0 279.2,113.6 279.2,108.9 279.2,114.5 279.2,109.0 279.3,110.5 279.3,106.6 279.3,108.2 279.3,119.0 279.4,101.5 279.4,108.3 279.4,104.9 279.4,113.7 279.4,118.6 279.5,106.5 279.5,94.3 279.5,111.8 279.5,111.8 279.6,98.8 279.6,107.0 279.6,108.0 279.6,95.2 279.6,112.2 279.7,110.9 279.7,109.7 279.7,102.4 279.7,104.3 279.8,104.8 279.8,111.1 279.8,102.8 279.8,116.8 279.9,110.6 279.9,96.0 279.9,118.0 279.9,109.4 279.9,105.3 280.0,109.1 280.0,98.1 280.0,109.6 280.0,94.5 280.1,102.7 280.1,116.2 280.1,115.7 280.1,106.6 280.1,103.0 280.2,113.9 280.2,108.3 280.2,109.8 280.2,112.1 280.3,102.4 280.3,113.1 280.3,96.5 280.3,116.9 280.3,99.6 280.4,105.0 280.4,104.8 280.4,112.8 280.4,112.9 280.5,110.7 280.5,111.7 280.5,111.3 280.5,108.2 280.5,97.7 280.6,95.5 280.6,95.5 280.6,108.4 280.6,107.4 280.7,107.9 280.7,110.0 280.7,107.4 280.7,103.0 280.8,100.1 280.8,97.8 280.8,115.7 280.8,113.9 280.8,101.0 280.9,107.2 280.9,111.3 280.9,117.9 280.9,105.3 281.0,109.8 281.0,115.4 281.0,98.8 281.0,81.3 281.0,86.6 281.0,81.4 281.1,102.7 281.1,93.4 281.1,88.3 281.1,79.6 281.2,93.4 281.2,91.6 281.2,83.0 281.2,83.6 281.3,75.8 281.3,86.2 281.3,93.3 281.3,94.4 281.3,91.2 281.4,93.0 281.4,82.4 281.4,83.3 281.4,95.9 281.5,90.2 281.5,80.8 281.5,90.6 281.5,93.1 281.6,92.1 281.6,87.6 281.6,82.9 281.6,89.8 281.6,99.5 281.7,87.9 281.7,81.8 281.7,89.3 281.7,77.5 281.8,88.5 281.8,84.5 281.8,94.0 281.8,87.6 281.8,94.7 281.9,104.1 281.9,85.2 281.9,80.5 281.9,90.2 282.0,86.1 282.0,87.8 282.0,82.3 282.0,90.9 282.1,87.3 282.1,70.6 282.1,85.0 282.1,89.3 282.1,95.6 282.2,82.4 282.2,80.8 282.2,95.4 282.2,82.2 282.3,87.6 282.3,90.3 282.3,92.3 282.3,86.8 282.4,78.4 282.4,94.3 282.4,83.5 282.4,82.9 282.4,101.8 282.5,93.3 282.5,78.8 282.5,83.2 282.5,84.9 282.6,81.1 282.6,72.4 282.6,92.8 282.6,92.6 282.7,88.6 282.7,83.7 282.7,88.3 282.7,91.5 282.7,79.0 282.8,84.3 282.8,82.6 282.8,91.9 282.8,88.7 282.9,77.0 282.9,82.1 282.9,99.9 282.9,79.5 282.9,87.9 283.0,82.0 283.0,96.0 283.0,86.3 283.0,83.5 283.1,78.0 283.1,84.9 283.1,92.9 283.1,91.7 283.2,76.8 283.2,98.4 283.2,84.9 283.2,78.9 283.2,87.7 283.3,82.1 283.3,82.4 283.3,82.0 283.3,86.0 283.4,83.0 283.4,73.9 283.4,90.6 283.4,82.8 283.5,95.6 283.5,90.7 283.5,91.3 283.5,88.0 283.5,96.3 283.6,84.2 283.6,79.3 283.6,89.3 283.6,68.1 283.7,83.9 283.7,88.3 283.7,83.6 283.7,96.0 283.8,91.9 283.8,87.5 283.8,83.7 283.8,94.8 283.8,81.6 283.9,83.6 283.9,92.2 283.9,91.1 283.9,101.8 284.0,85.1 284.0,72.7 284.0,91.6 284.0,96.0 284.1,85.4 284.1,98.3 284.1,99.9 284.1,81.7 284.1,83.1 284.2,77.3 284.2,90.7 284.2,92.0 284.2,91.1 284.3,77.5 284.3,81.0 284.3,76.0 284.3,74.7 284.3,76.6 284.4,74.9 284.4,85.3 284.4,89.8 284.4,91.3 284.5,86.5 284.5,81.6 284.5,86.6 284.5,90.9 284.6,84.4 284.6,87.0 284.6,84.3 284.6,82.7 284.6,86.9 284.7,78.3 284.7,94.4 284.7,75.0 284.7,90.0 284.8,76.5 284.8,97.8 284.8,93.1 284.8,80.6 284.9,83.3 284.9,78.2 284.9,86.2 284.9,89.7 284.9,105.1 285.0,76.5 285.0,95.8 285.0,82.3 285.0,88.6 285.1,93.1 285.1,90.6 285.1,89.7 285.1,85.1 285.2,86.5 285.2,87.7 285.2,95.5 285.2,75.7 285.2,83.0 285.3,77.4 285.3,79.5 285.3,80.7 285.3,94.7 285.4,102.5 285.4,96.6 285.4,77.8 285.4,87.2 285.5,78.2 285.5,89.9 285.5,96.0 285.5,91.0 285.5,93.0 285.6,85.5 285.6,72.0 285.6,71.9 285.6,85.9 285.7,90.9 285.7,96.0 285.7,84.0 285.7,87.2 285.7,88.5 285.8,94.5 285.8,86.1 285.8,78.5 285.8,94.6 285.9,89.6 285.9,89.4 285.9,77.2 285.9,86.5 286.0,73.9 286.0,71.8 286.0,84.8 286.0,83.4 286.0,90.8 286.1,97.3 286.1,86.3 286.1,99.8 286.1,82.2 286.2,92.2 286.2,77.2 286.2,87.5 286.2,84.3 286.3,85.1 286.3,91.0 286.3,72.7 286.3,87.5 286.3,80.6 286.4,87.5 286.4,89.5 286.4,83.9 286.4,83.8 286.5,78.1 286.5,90.7 286.5,81.6 286.5,89.9 286.6,76.1 286.6,96.7 286.6,79.0 286.6,95.1 286.6,83.3 286.7,90.6 286.7,85.5 286.7,91.6 286.7,86.6 286.8,96.0 286.8,91.6 286.8,91.6 286.8,98.9 286.8,81.4 286.9,96.2 286.9,87.1 286.9,75.7 286.9,90.1 287.0,85.1 287.0,99.1 287.0,83.0 287.0,86.9 287.1,88.3 287.1,72.5 287.1,90.3 287.1,79.2 287.1,96.9 287.2,98.8 287.2,86.4 287.2,74.7 287.2,87.8 287.3,87.7 287.3,91.7 287.3,84.2 287.3,77.6 287.4,85.3 287.4,79.5 287.4,99.4 287.4,81.1 287.4,81.4 287.5,85.9 287.5,77.1 287.5,82.9 287.5,85.2 287.6,82.6 287.6,84.3 287.6,95.3 287.6,89.3 287.7,76.2 287.7,82.9 287.7,91.6 287.7,81.3 287.7,86.6 287.8,85.8 287.8,89.9 287.8,84.7 287.8,84.9 287.9,79.6 287.9,88.6 287.9,79.1 287.9,98.7 288.0,85.7 288.0,84.2 288.0,91.7 288.0,85.2 288.0,86.5 288.1,85.4 288.1,80.4 288.1,79.0 288.1,80.6 288.2,94.1 288.2,81.1 288.2,82.7 288.2,82.4 288.2,90.8 288.3,100.3 288.3,78.8 288.3,89.7 288.3,86.5 288.4,83.3 288.4,89.3 288.4,76.2 288.4,91.7 288.5,87.1 288.5,78.1 288.5,97.2 288.5,91.7 288.5,94.0 288.6,74.7 288.6,83.4 288.6,81.5 288.6,90.0 288.7,95.3 288.7,71.3 288.7,85.5 288.7,84.4 288.8,92.6 288.8,85.0 288.8,75.9 288.8,83.8 288.8,77.6 288.9,79.5 288.9,85.5 288.9,81.6 288.9,87.2 289.0,74.0 289.0,102.2 289.0,94.4 289.0,90.4 289.1,75.5 289.1,69.2 289.1,78.7 289.1,83.3 289.1,101.4 289.2,94.6 289.2,81.1 289.2,93.8 289.2,93.9 289.3,85.0 289.3,93.8 289.3,87.3 289.3,80.0 289.4,76.2 289.4,83.9 289.4,92.1 289.4,74.8 289.4,72.9 289.5,88.8 289.5,66.2 289.5,98.1 289.5,81.5 289.6,90.1 289.6,98.4 289.6,74.0 289.6,76.9 289.6,101.1 289.7,82.5 289.7,83.6 289.7,86.2 289.7,92.3 289.8,94.3 289.8,85.3 289.8,82.0 289.8,84.2 289.9,86.7 289.9,94.1 289.9,85.4 289.9,97.8 289.9,78.1 290.0,88.3 290.0,97.3 290.0,93.8 290.0,86.8 290.1,77.8 290.1,79.0 290.1,83.1 290.1,86.5 290.2,82.4 290.2,73.5 290.2,78.8 290.2,88.0 290.2,90.3 290.3,73.8 290.3,81.5 290.3,71.8 290.3,79.9 290.4,102.6 290.4,84.5 290.4,81.5 290.4,79.7 290.5,75.1 290.5,70.3 290.5,83.7 290.5,81.9 290.5,94.8 290.6,71.9 290.6,87.1 290.6,93.8 290.6,69.5 290.7,88.7 290.7,72.0 290.7,87.7 290.7,94.7 290.7,83.8 290.8,85.9 290.8,78.6 290.8,85.9 290.8,92.1 290.9,82.4 290.9,82.7 290.9,86.5 290.9,89.7 291.0,71.6 291.0,84.1 291.0,78.6 291.0,87.3 291.0,91.2 291.1,85.9 291.1,93.1 291.1,76.3 291.1,80.6 291.2,76.3 291.2,84.0 291.2,84.3 291.2,82.1 291.3,74.7 291.3,83.0 291.3,80.4"/>
<polyline fill="none" stroke="#464646" stroke-width="1.5" stroke-linejoin="round" points="55.6,17.7 55.8,18.4 56.1,19.0 56.3,19.4 56.5,20.1 56.7,19.4 57.0,19.4 57.2,19.5 57.4,19.3 57.6,18.7 57.9,18.6 58.1,18.5 58.3,18.7 58.5,19.7 58.8,20.0 59.0,19.4 59.2,19.4 59.4,19.7 59.7,19.7 59.9,20.0 60.1,20.2 60.3,19.5 60.6,19.7 60.8,20.0 61.0,20.1 61.2,21.1 61.5,20.3 61.7,20.3 61.9,20.8 62.1,20.7 62.4,21.4 62.6,22.2 62.8,20.9 63.0,21.1 63.3,21.3 63.5,21.0 63.7,21.6 63.9,21.1 64.2,20.4 64.4,20.4 64.6,20.8 64.8,21.6 65.1,22.6 65.3,22.9 65.5,22.8 65.7,23.0 66.0,22.7 66.2,22.2 66.4,22.3 66.6,22.0 66.9,22.0 67.1,22.8 67.3,23.3 67.5,23.8 67.8,23.9 68.0,23.1 68.2,22.8 68.4,22.3 68.7,22.1 68.9,22.5 69.1,22.6 69.4,23.0 69.6,23.7 69.8,23.7 70.0,23.3 70.3,23.6 70.5,22.9 70.7,23.0 70.9,23.9 71.2,23.0 71.4,23.5 71.6,24.0 71.8,23.9 72.1,24.8 72.3,24.9 72.5,24.5 72.7,24.6 73.0,25.3 73.2,26.5 73.4,27.0 73.6,26.7 73.9,26.4 74.1,25.2 74.3,25.6 74.5,25.5 74.8,25.1 75.0,26.2 75.2,25.6 75.4,26.0 75.7,26.4 75.9,25.2 76.1,25.1 76.3,25.6 76.6,26.2 76.8,27.0 77.0,27.4 77.2,27.1 77.5,26.7 77.7,26.4 77.9,26.6 78.1,27.1 78.4,26.8 78.6,27.0 78.8,27.1 79.0,26.6 79.3,26.9 79.5,27.2 79.7,28.3 79.9,28.8 80.2,29.2 80.4,28.9 80.6,27.7 80.8,27.8 81.1,27.6 81.3,27.4 81.5,27.2 81.7,27.3 82.0,27.3 82.2,28.0 82.4,28.7 82.7,29.3 82.9,29.0 83.1,28.5 83.3,28.3 83.6,27.4 83.8,27.8 84.0,28.7 84.2,29.4 84.5,30.4 84.7,30.9 84.9,30.7 85.1,29.6 85.4,28.6 85.6,28.8 85.8,28.5 86.0,29.1 86.3,30.1 86.5,30.3 86.7,30.7 86.9,31.2 87.2,30.8 87.4,30.1 87.6,30.5 87.8,30.2 88.1,30.4 88.3,30.9 88.5,30.2 88.7,30.6 89.0,30.6 89.2,31.7 89.4,32.8 89.6,32.8 89.9,32.8 90.1,32.4 90.3,32.4 90.5,32.0 90.8,32.6 91.0,32.8 91.2,32.5 91.4,33.2 91.7,33.6 91.9,32.7 92.1,33.0 92.3,32.9 92.6,32.6 92.8,33.0 93.0,33.0 93.2,33.0 93.5,33.6 93.7,33.5 93.9,32.8 94.1,32.4 94.4,31.8 94.6,32.3 94.8,33.3 95.0,34.9 95.3,35.1 95.5,35.2 95.7,34.4 96.0,33.8 96.2,33.4 96.4,34.0 96.6,34.4 96.9,34.8 97.1,35.3 97.3,35.1 97.5,35.0 97.8,34.8 98.0,34.7 98.2,34.1 98.4,35.1 98.7,35.3 98.9,35.4 99.1,36.6 99.3,36.1 99.6,36.1 99.8,35.7 100.0,35.6 100.2,35.6 100.5,35.7 100.7,36.0 100.9,36.0 101.1,36.2 101.4,37.2 101.6,36.9 101.8,36.6 102.0,36.9 102.3,36.8 102.5,37.0 102.7,37.7 102.9,38.0 103.2,37.7 103.4,38.2 103.6,37.6 103.8,37.0 104.1,37.3 104.3,37.2 104.5,38.3 104.7,38.9 105.0,38.6 105.2,39.1 105.4,39.1 105.6,39.0 105.9,39.4 106.1,39.0 106.3,39.0 106.5,39.1 106.8,38.6 107.0,39.3 107.2,39.1 107.4,39.4 107.7,40.4 107.9,40.3 108.1,41.3 108.3,40.9 108.6,40.2 108.8,40.4 109.0,39.4 109.3,39.8 109.5,39.9 109.7,39.8 109.9,40.4 110.2,40.0 110.4,39.6 110.6,38.9 110.8,38.7 111.1,39.1 111.3,39.5 111.5,39.7 111.7,40.2 112.0,40.7 112.2,40.6 112.4,40.8 112.6,40.0 112.9,40.1 113.1,40.3 113.3,40.6 113.5,40.7 113.8,40.3 114.0,40.5 114.2,41.4 114.4,41.8 114.7,42.3 114.9,42.5 115.1,41.6 115.3,42.2 115.6,42.4 115.8,41.9 116.0,41.9 116.2,41.5 116.5,41.7 116.7,42.2 116.9,42.5 117.1,42.4 117.4,41.9 117.6,42.0 117.8,42.0 118.0,42.3 118.3,43.0 118.5,43.3 118.7,43.4 118.9,44.4 119.2,43.7 119.4,43.8 119.6,44.2 119.8,43.8 120.1,44.3 120.3,43.8 120.5,43.5 120.7,44.0 121.0,44.5 121.2,45.0 121.4,45.3 121.6,44.7 121.9,44.1 122.1,43.8 122.3,44.0 122.6,43.9 122.8,43.4 123.0,45.1 123.2,45.0 123.5,45.3 123.7,46.5 123.9,46.3 124.1,46.2 124.4,46.2 124.6,46.1 124.8,45.2 125.0,46.1 125.3,46.7 125.5,46.0 125.7,46.3 125.9,46.1 126.2,45.8 126.4,46.3 126.6,46.9 126.8,47.3 127.1,47.6 127.3,48.0 127.5,47.5 127.7,46.8 128.0,47.0 128.2,47.1 128.4,47.6 128.6,48.6 128.9,48.0 129.1,48.2 129.3,47.9 129.5,48.2 129.8,48.2 130.0,48.1 130.2,48.3 130.4,47.5 130.7,47.4 130.9,47.8 131.1,48.0 131.3,47.9 131.6,48.3 131.8,47.4 132.0,47.3 132.2,47.8 132.5,48.6 132.7,49.3 132.9,50.1 133.1,50.4 133.4,50.2 133.6,50.7 133.8,49.9 134.0,50.1 134.3,49.2 134.5,48.6 134.7,48.9 134.9,48.8 135.2,49.8 135.4,50.8 135.6,50.5 135.9,51.1 136.1,51.0 136.3,50.6 136.5,50.8 136.8,49.9 137.0,50.5 137.2,50.9 137.4,51.4 137.7,51.9 137.9,51.7 138.1,51.3 138.3,51.1 138.6,50.8 138.8,51.0 139.0,51.5 139.2,51.4 139.5,52.3 139.7,52.0 139.9,51.9 140.1,51.8 140.4,51.6 140.6,51.5 140.8,50.8 141.0,51.7 141.3,52.1 141.5,52.9 141.7,54.2 141.9,53.4 142.2,52.8 142.4,52.2 142.6,51.8 142.8,53.2 143.1,53.7 143.3,54.4 143.5,54.5 143.7,54.1 144.0,54.3 144.2,54.4 144.4,54.6 144.6,54.0 144.9,53.9 145.1,53.5 145.3,53.4 145.5,53.9 145.8,53.6 146.0,53.3 146.2,53.0 146.4,53.1 146.7,54.0 146.9,54.4 147.1,55.0 147.3,54.9 147.6,54.4 147.8,54.6 148.0,54.1 148.2,54.2 148.5,54.0 148.7,54.7 148.9,55.2 149.2,55.5 149.4,55.8 149.6,55.6 149.8,55.9 150.1,55.6 150.3,55.6 150.5,55.0 150.7,55.2 151.0,56.0 151.2,56.5 151.4,57.6 151.6,57.6 151.9,57.4 152.1,57.1 152.3,56.6 152.5,56.9 152.8,56.4 153.0,56.9 153.2,56.7 153.4,56.6 153.7,57.3 153.9,57.0 154.1,57.4 154.3,57.4 154.6,57.1 154.8,57.8 155.0,58.3 155.2,58.4 155.5,59.0 155.7,58.5 155.9,58.1 156.1,58.3 156.4,58.7 156.6,59.6 156.8,59.8 157.0,60.0 157.3,59.5 157.5,59.0 157.7,59.3 157.9,59.1 158.2,58.2 158.4,58.1 158.6,58.2 158.8,58.7 159.1,59.8 159.3,60.2 159.5,60.2 159.7,59.7 160.0,60.1 160.2,60.4 160.4,60.6 160.6,61.3 160.9,60.9 161.1,60.6 161.3,61.1 161.5,61.4 161.8,61.8 162.0,62.1 162.2,61.7 162.5,61.3 162.7,61.3 162.9,61.6 163.1,62.2 163.4,61.6 163.6,62.6 163.8,61.5 164.0,60.8 164.3,61.1 164.5,60.0 164.7,60.8 164.9,61.4 165.2,61.9 165.4,62.8 165.6,63.1 165.8,63.0 166.1,63.5 166.3,63.1 166.5,63.0 166.7,63.1 167.0,63.1 167.2,62.5 167.4,62.5 167.6,63.0 167.9,62.7 168.1,63.7 168.3,63.7 168.5,63.4 168.8,63.5 169.0,63.5 169.2,63.7 169.4,64.2 169.7,64.4 169.9,64.7 170.1,64.7 170.3,64.6 170.6,65.1 170.8,65.3 171.0,65.0 171.2,65.3 171.5,64.4 171.7,64.2 171.9,65.5 172.1,66.1 172.4,66.8 172.6,66.4 172.8,65.6 173.0,64.6 173.3,64.3 173.5,65.4 173.7,65.6 173.9,65.8 174.2,66.5 174.4,65.9 174.6,66.0 174.8,66.6 175.1,66.0 175.3,66.3 175.5,66.1 175.8,65.6 176.0,66.2 176.2,66.3 176.4,67.1 176.7,67.4 176.9,67.5 177.1,67.6 177.3,67.1 177.6,66.9 177.8,66.7 178.0,66.1 178.2,65.5 178.5,65.2 178.7,65.2 178.9,65.8 179.1,67.0 179.4,67.5 179.6,67.8 179.8,68.1 180.0,67.8 180.3,67.8 180.5,67.8 180.7,67.6 180.9,67.7 181.2,67.5 181.4,67.4 181.6,66.9 181.8,67.4 182.1,67.4 182.3,67.7 182.5,68.2 182.7,68.4 183.0,69.0 183.2,69.2 183.4,69.7 183.6,70.4 183.9,70.6 184.1,70.6 184.3,70.1 184.5,69.9 184.8,69.2 185.0,69.8 185.2,70.1 185.4,69.4 185.7,70.0 185.9,69.5 186.1,69.9 186.3,71.1 186.6,70.7 186.8,70.9 187.0,71.4 187.2,71.0 187.5,71.8 187.7,71.9 187.9,71.4 188.1,71.5 188.4,71.7 188.6,72.1 188.8,72.7 189.1,73.0 189.3,73.1 189.5,73.1 189.7,72.9 190.0,72.4 190.2,72.6 190.4,72.5 190.6,72.7 190.9,73.3 191.1,72.9 191.3,73.2 191.5,72.7 191.8,72.4 192.0,72.3 192.2,71.9 192.4,72.3 192.7,72.2 192.9,72.4 193.1,73.2 193.3,73.4 193.6,73.5 193.8,73.2 194.0,72.9 194.2,73.2 194.5,73.5 194.7,74.1 194.9,74.6 195.1,74.6 195.4,74.5 195.6,74.9 195.8,74.7 196.0,74.4 196.3,74.7 196.5,74.1 196.7,74.5 196.9,75.2 197.2,74.5 197.4,75.2 197.6,75.4 197.8,74.7 198.1,75.7 198.3,75.9 198.5,75.8 198.7,75.7 199.0,75.9 199.2,75.6 199.4,75.6 199.6,76.4 199.9,76.5 200.1,77.3 200.3,77.8 200.5,77.3 200.8,77.6 201.0,77.4 201.2,77.5 201.4,77.4 201.7,77.7 201.9,77.8 202.1,77.9 202.4,78.0 202.6,77.5 202.8,77.6 203.0,76.4 203.3,76.9 203.5,77.7 203.7,76.7 203.9,78.1 204.2,78.2 204.4,77.0 204.6,77.1 204.8,76.3 205.1,76.3 205.3,77.3 205.5,78.2 205.7,78.5 206.0,78.6 206.2,78.5 206.4,78.7 206.6,78.6 206.9,78.7 207.1,78.8 207.3,78.6 207.5,78.7 207.8,78.1 208.0,78.2 208.2,78.9 208.4,79.4 208.7,80.1 208.9,80.5 209.1,79.4 209.3,79.3 209.6,79.4 209.8,79.6 210.0,79.8 210.2,79.9 210.5,80.3 210.7,80.7 210.9,81.2 211.1,81.7 211.4,82.5 211.6,82.4 211.8,82.1 212.0,81.7 212.3,80.8 212.5,80.2 212.7,80.5 212.9,80.2 213.2,80.8 213.4,80.7 213.6,80.8 213.8,81.6 214.1,81.9 214.3,82.0 214.5,82.4 214.7,82.3 215.0,81.3 215.2,81.7 215.4,81.6 215.7,82.1 215.9,82.7 216.1,82.5 216.3,82.5 216.6,82.0 216.8,81.9 217.0,81.8 217.2,82.0 217.5,82.4 217.7,82.7 217.9,83.2 218.1,83.2 218.4,83.0 218.6,83.5 218.8,83.5 219.0,83.8 219.3,84.6 219.5,84.8 219.7,84.6 219.9,85.0 220.2,84.2 220.4,83.6 220.6,83.8 220.8,83.3 221.1,83.4 221.3,84.4 221.5,84.9 221.7,85.3 222.0,85.5 222.2,85.5 222.4,85.1 222.6,84.3 222.9,83.9 223.1,83.8 223.3,84.3 223.5,85.6 223.8,86.6 224.0,85.9 224.2,86.2 224.4,85.3 224.7,85.4 224.9,86.0 225.1,85.9 225.3,85.9 225.6,85.4 225.8,85.7 226.0,85.9 226.2,87.0 226.5,87.9 226.7,87.7 226.9,87.9 227.1,87.1 227.4,87.1 227.6,87.3 227.8,87.1 228.0,87.3 228.3,87.0 228.5,86.9 228.7,86.8 228.9,87.0 229.2,87.3 229.4,87.2 229.6,87.7 229.9,87.8 230.1,87.1 230.3,87.2 230.5,87.1 230.8,87.7 231.0,88.9 231.2,89.4 231.4,89.7 231.7,89.3 231.9,89.0 232.1,88.4 232.3,88.5 232.6,88.2 232.8,88.4 233.0,89.2 233.2,89.3 233.5,90.2 233.7,90.4 233.9,90.0 234.1,90.0 234.4,89.9 234.6,89.4 234.8,89.7 235.0,90.0 235.3,89.7 235.5,90.1 235.7,90.8 235.9,90.9 236.2,91.6 236.4,91.3 236.6,90.5 236.8,90.2 237.1,89.7 237.3,90.1 237.5,90.7 237.7,90.8 238.0,91.3 238.2,91.5 238.4,91.9 238.6,91.7 238.9,91.9 239.1,92.2 239.3,91.8 239.5,91.7 239.8,91.3 240.0,91.1 240.2,91.2 240.4,92.7 240.7,92.9 240.9,93.2 241.1,93.8 241.3,93.6 241.6,94.0 241.8,94.1 242.0,93.5 242.2,93.3 242.5,93.0 242.7,93.3 242.9,93.2 243.2,93.2 243.4,93.1 243.6,93.0 243.8,93.2 244.1,93.5 244.3,93.8 244.5,94.1 244.7,94.5 245.0,94.7 245.2,95.0 245.4,95.4 245.6,95.6 245.9,95.9 246.1,95.5 246.3,93.9 246.5,93.8 246.8,93.5 247.0,93.9 247.2,95.1 247.4,94.9 247.7,94.9 247.9,94.5 248.1,93.7 248.3,94.2 248.6,93.5 248.8,93.8 249.0,94.7 249.2,95.1 249.5,96.4 249.7,96.8 249.9,96.6 250.1,96.2 250.4,95.9 250.6,95.3 250.8,96.0 251.0,96.6 251.3,96.4 251.5,97.2 251.7,98.0 251.9,97.6 252.2,97.8 252.4,97.7 252.6,96.7 252.8,96.4 253.1,96.1 253.3,96.5 253.5,96.2 253.7,97.1 254.0,97.9 254.2,97.4 254.4,98.2 254.6,97.9 254.9,98.0 255.1,97.8 255.3,97.5 255.5,97.8 255.8,97.6 256.0,98.5 256.2,98.8 256.5,98.8 256.7,99.0 256.9,99.4 257.1,100.1 257.4,100.0 257.6,100.0 257.8,99.7 258.0,99.0 258.3,99.1 258.5,99.0 258.7,99.5 258.9,100.1 259.2,101.1 259.4,101.8 259.6,101.7 259.8,101.5 260.1,101.2 260.3,100.6 260.5,100.3 260.7,99.9 261.0,99.8 261.2,100.9 261.4,101.0 261.6,101.6 261.9,102.0 262.1,101.2 262.3,101.5 262.5,101.4 262.8,100.6 263.0,100.7 263.2,100.3 263.4,100.3 263.7,100.5 263.9,100.0 264.1,100.9 264.3,101.7 264.6,102.5 264.8,103.0 265.0,102.5 265.2,102.3 265.5,102.3 265.7,102.8 265.9,103.7 266.1,103.7 266.4,103.5 266.6,102.3 266.8,101.7 267.0,101.1 267.3,101.7 267.5,102.8 267.7,102.5 267.9,103.4 268.2,102.8 268.4,102.5 268.6,103.0 268.8,103.5 269.1,103.7 269.3,104.6 269.5,104.4 269.8,104.2 270.0,104.6 270.2,104.3 270.4,104.9 270.7,105.2 270.9,104.3 271.1,104.6 271.3,104.0 271.6,104.4 271.8,104.9 272.0,105.0 272.2,105.0 272.5,104.5 272.7,104.0 272.9,104.2 273.1,104.8 273.4,105.4 273.6,106.5 273.8,106.7 274.0,106.9 274.3,106.5 274.5,106.5 274.7,105.9 274.9,105.8 275.2,105.8 275.4,104.6 275.6,104.4 275.8,105.0 276.1,105.6 276.3,107.0 276.5,107.8 276.7,107.8 277.0,108.1 277.2,107.6 277.4,107.6 277.6,107.6 277.9,107.1 278.1,107.2 278.3,107.5 278.5,107.2 278.8,107.3 279.0,108.1 279.2,108.1 279.4,107.8 279.7,107.3 279.9,106.9 280.1,106.5 280.3,107.1 280.6,107.8 280.8,107.9"/>
<polyline fill="none" stroke="#4a4a4a" stroke-width="1.4" stroke-linejoin="round" points="281.0,87.1 281.3,87.4 281.7,87.3 282.0,87.0 282.4,86.8 282.7,86.6 283.1,86.4 283.4,86.2 283.8,86.0 284.1,86.2 284.4,86.2 284.8,86.8 285.1,87.1 285.5,87.7 285.8,87.7 286.2,87.1 286.5,86.6 286.8,86.4 287.2,86.6 287.5,86.5 287.9,86.3 288.2,85.7 288.6,85.5 288.9,84.8 289.3,84.7 289.6,84.5 289.9,84.5 290.3,84.5 290.6,84.0 291.0,83.8"/>
<polyline fill="none" stroke="#1a1a1a" stroke-width="0.95" points="54.0,66.2 86.0,65.2 130.0,64.4 180.0,63.6 220.0,62.0 256.0,59.8 270.0,58.7 279.5,58.0 280.8,57.5 287.0,38.0 291.4,20.0"/>
<path stroke="#111" stroke-width="0.88" fill="none" d="M53.6 8.4 V126.4 H292"/>
<path stroke="#111" stroke-width="0.88" fill="none" d="M291.4 19.5 V66.4"/>
<path stroke="#111" stroke-width="0.88" fill="none" d="M46.2 17.50 H53.6"/>
<text transform="translate(42.4 20.9) scale(0.93 1.0)" font-size="11.0" text-anchor="end" fill="#111">200</text>
<path stroke="#111" stroke-width="0.88" fill="none" d="M46.2 34.33 H53.6"/>
<text transform="translate(42.4 37.7) scale(0.93 1.0)" font-size="11.0" text-anchor="end" fill="#111">150</text>
<path stroke="#111" stroke-width="0.88" fill="none" d="M46.2 51.17 H53.6"/>
<text transform="translate(42.4 54.6) scale(0.93 1.0)" font-size="11.0" text-anchor="end" fill="#111">100</text>
<path stroke="#111" stroke-width="0.88" fill="none" d="M46.2 68.00 H53.6"/>
<text transform="translate(42.4 71.4) scale(0.93 1.0)" font-size="11.0" text-anchor="end" fill="#111">50</text>
<path stroke="#111" stroke-width="0.88" fill="none" d="M46.2 84.83 H53.6"/>
<text transform="translate(42.4 88.2) scale(0.93 1.0)" font-size="11.0" text-anchor="end" fill="#111">0</text>
<path stroke="#111" stroke-width="0.88" fill="none" d="M46.2 101.66 H53.6"/>
<text transform="translate(42.4 105.1) scale(0.93 1.0)" font-size="11.0" text-anchor="end" fill="#111">-50</text>
<path stroke="#111" stroke-width="0.88" fill="none" d="M46.2 118.50 H53.6"/>
<text transform="translate(42.4 121.9) scale(0.93 1.0)" font-size="11.0" text-anchor="end" fill="#111">-100</text>
<path stroke="#111" stroke-width="0.88" fill="none" d="M55.40 126.4 V133.5"/>
<text transform="translate(55.8 147.2) scale(0.93 1.0)" font-size="11.0" text-anchor="middle" fill="#111">0.0</text>
<path stroke="#111" stroke-width="0.88" fill="none" d="M112.43 126.4 V133.5"/>
<text transform="translate(112.8 147.2) scale(0.93 1.0)" font-size="11.0" text-anchor="middle" fill="#111">0.2</text>
<path stroke="#111" stroke-width="0.88" fill="none" d="M169.46 126.4 V133.5"/>
<text transform="translate(169.9 147.2) scale(0.93 1.0)" font-size="11.0" text-anchor="middle" fill="#111">0.4</text>
<path stroke="#111" stroke-width="0.88" fill="none" d="M226.49 126.4 V133.5"/>
<text transform="translate(226.9 147.2) scale(0.93 1.0)" font-size="11.0" text-anchor="middle" fill="#111">0.6</text>
<path stroke="#111" stroke-width="0.88" fill="none" d="M283.52 126.4 V133.5"/>
<text transform="translate(283.9 147.2) scale(0.93 1.0)" font-size="11.0" text-anchor="middle" fill="#111">0.8</text>
<path stroke="#111" stroke-width="0.88" fill="none" d="M291.4 23.2 H299.2"/>
<text transform="translate(307.4 26.8) scale(0.93 1.0)" font-size="11.0" fill="#111">150</text>
<path stroke="#111" stroke-width="0.88" fill="none" d="M291.4 36.3 H299.2"/>
<text transform="translate(307.4 39.9) scale(0.93 1.0)" font-size="11.0" fill="#111">100</text>
<path stroke="#111" stroke-width="0.88" fill="none" d="M291.4 49.4 H299.2"/>
<text transform="translate(307.4 53.0) scale(0.93 1.0)" font-size="11.0" fill="#111">50</text>
<path stroke="#111" stroke-width="0.88" fill="none" d="M291.4 62.5 H299.2"/>
<text transform="translate(307.4 66.1) scale(0.93 1.0)" font-size="11.0" fill="#111">0</text>
<text x="157.2" y="160.6" font-size="11" textLength="34" lengthAdjust="spacingAndGlyphs" fill="#111">Time [s]</text>
<text transform="translate(15.0 66.5) rotate(-90) scale(1 0.92)" font-size="10.45" text-anchor="middle" fill="#111">Force [pN]</text>
<text transform="translate(340.0 42.3) rotate(-90) scale(1 0.92)" font-size="10.8" text-anchor="middle" fill="#111">Displacement [nm]</text>
<text transform="translate(0.2 10.3) scale(0.94 1.0)" font-size="15" fill="#111">(a)</text>
<text x="193.2" y="13" font-size="10.5" font-weight="bold" text-anchor="middle" fill="#111">A</text>
<text x="250.1" y="13" font-size="10.5" font-weight="bold" text-anchor="middle" fill="#111">B</text>
<text x="294.3" y="13" font-size="10.5" font-weight="bold" text-anchor="middle" fill="#111">C</text>
<path stroke="#111" stroke-width="0.88" fill="none" d="M217.3 8.3 V31.5 M281.3 8.3 V31.6"/>
<path stroke="#222" stroke-width="1.1" d="M230.5 44.2 H263"/><path fill="#222" d="M269.2 44.2 L261 41.9 V46.5 Z"/>
<path stroke="#7c7c7c" stroke-width="0.8" d="M218 110.4 H171"/><path fill="#808080" d="M164.8 110.4 L173 108.4 V112.4 Z"/>
<path stroke="#111" stroke-width="1.05" fill="none" d="M275.4 86.1 H286.8 M280.8 86.1 V109.1 M275.9 109.1 H287.3"/>
<polyline fill="none" stroke="#a2a2a2" stroke-width="0.6" stroke-linejoin="round" points="100.6,235.2 100.7,245.7 100.9,236.7 101.0,245.1 101.2,235.8 101.3,240.3 101.4,248.5 101.6,235.7 101.7,242.7 101.8,246.5 102.0,241.5 102.1,240.4 102.3,242.3 102.4,236.4 102.5,247.3 102.7,247.0 102.8,253.7 103.0,244.2 103.1,249.4 103.2,239.1 103.4,245.5 103.5,236.5 103.7,243.9 103.8,240.4 103.9,248.5 104.1,229.6 104.2,241.4 104.3,240.6 104.5,246.6 104.6,238.0 104.8,239.9 104.9,250.3 105.0,238.6 105.2,240.1 105.3,249.6 105.5,229.7 105.6,245.1 105.7,244.7 105.9,244.2 106.0,231.8 106.1,234.0 106.3,237.6 106.4,237.5 106.6,246.7 106.7,240.0 106.8,251.2 107.0,242.6 107.1,246.4 107.3,238.8 107.4,239.2 107.5,245.3 107.7,248.0 107.8,238.9 107.9,250.4 108.1,241.4 108.2,252.0 108.4,235.7 108.5,240.8 108.6,246.6 108.8,242.5 108.9,239.6 109.1,246.6 109.2,248.4 109.3,240.6 109.5,247.3 109.6,240.4 109.8,238.4 109.9,250.2 110.0,239.7 110.2,240.1 110.3,247.2 110.4,237.3 110.6,237.5 110.7,241.4 110.9,243.3 111.0,248.1 111.1,241.7 111.3,239.1 111.4,235.5 111.6,240.9 111.7,240.1 111.8,248.9 112.0,233.7 112.1,232.7 112.2,232.2 112.4,241.2 112.5,245.0 112.7,251.5 112.8,233.5 112.9,243.3 113.1,239.0 113.2,251.3 113.4,244.3 113.5,250.7 113.6,242.2 113.8,248.2 113.9,244.2 114.1,238.7 114.2,247.4 114.3,240.5 114.5,229.8 114.6,241.6 114.7,235.4 114.9,245.0 115.0,250.5 115.2,243.7 115.3,245.0 115.4,235.3 115.6,237.6 115.7,238.7 115.9,252.6 116.0,239.6 116.1,243.3 116.3,231.9 116.4,239.1 116.5,242.4 116.7,241.0 116.8,240.1 117.0,244.0 117.1,244.3 117.2,235.1 117.4,234.4 117.5,244.6 117.7,245.9 117.8,234.2 117.9,245.1 118.1,233.9 118.2,240.5 118.3,248.3 118.5,232.6 118.6,241.3 118.8,240.2 118.9,235.2 119.0,245.4 119.2,236.2 119.3,237.6 119.5,235.3 119.6,243.5 119.7,244.1 119.9,248.4 120.0,239.8 120.2,236.6 120.3,249.0 120.4,237.7 120.6,244.6 120.7,249.6 120.8,245.2 121.0,231.1 121.1,235.3 121.3,236.6 121.4,245.3 121.5,236.6 121.7,244.9 121.8,241.9 122.0,241.6 122.1,240.5 122.2,236.6 122.4,247.9 122.5,241.2 122.6,248.6 122.8,235.7 122.9,231.4 123.1,247.9 123.2,234.2 123.3,241.0 123.5,238.4 123.6,239.5 123.8,238.5 123.9,234.4 124.0,233.9 124.2,241.4 124.3,236.4 124.5,249.4 124.6,240.6 124.7,247.7 124.9,237.7 125.0,244.4 125.1,237.0 125.3,235.2 125.4,238.9 125.6,239.1 125.7,252.6 125.8,233.1 126.0,236.7 126.1,244.0 126.3,239.3 126.4,241.0 126.5,244.3 126.7,239.5 126.8,236.4 126.9,233.0 127.1,239.9 127.2,243.2 127.4,241.4 127.5,246.6 127.6,238.2 127.8,241.9 127.9,236.0 128.1,230.2 128.2,243.5 128.3,238.0 128.5,243.9 128.6,237.2 128.8,232.3 128.9,235.7 129.0,239.0 129.2,236.9 129.3,239.1 129.4,243.5 129.6,240.5 129.7,243.1 129.9,239.9 130.0,237.1 130.1,235.5 130.3,229.1 130.4,243.9 130.6,246.6 130.7,235.5 130.8,235.8 131.0,236.3 131.1,242.6 131.2,241.4 131.4,239.6 131.5,240.6 131.7,232.1 131.8,240.2 131.9,239.9 132.1,243.5 132.2,237.2 132.4,238.2 132.5,242.1 132.6,253.5 132.8,237.9 132.9,251.9 133.0,236.3 133.2,241.5 133.3,236.3 133.5,248.4 133.6,241.9 133.7,242.3 133.9,246.7 134.0,248.2 134.2,237.9 134.3,242.7 134.4,238.8 134.6,247.6 134.7,230.4 134.9,253.0 135.0,240.3 135.1,230.6 135.3,243.0 135.4,237.1 135.5,241.8 135.7,242.3 135.8,247.3 136.0,232.0 136.1,243.8 136.2,247.8 136.4,234.9 136.5,245.7 136.7,246.1 136.8,239.0 136.9,231.7 137.1,242.7 137.2,239.4 137.3,250.1 137.5,240.7 137.6,245.7 137.8,243.8 137.9,243.0 138.0,235.5 138.2,238.2 138.3,242.6 138.5,241.7 138.6,241.5 138.7,246.2 138.9,242.4 139.0,245.9 139.2,242.6 139.3,244.2 139.4,239.5 139.6,234.3 139.7,246.7 139.8,246.8 140.0,245.7 140.1,238.0 140.3,248.1 140.4,242.8 140.5,243.2 140.7,238.8 140.8,239.7 141.0,239.0 141.1,244.3 141.2,238.7 141.4,242.2 141.5,239.5 141.6,235.6 141.8,242.6 141.9,243.0 142.1,242.8 142.2,230.2 142.3,247.8 142.5,242.3 142.6,237.3 142.8,252.4 142.9,242.5 143.0,246.3 143.2,243.1 143.3,230.2 143.4,248.7 143.6,236.4 143.7,248.1 143.9,241.7 144.0,237.9 144.1,230.2 144.3,239.9 144.4,237.1 144.6,242.6 144.7,236.6 144.8,246.1 145.0,239.6 145.1,240.0 145.3,252.8 145.4,246.5 145.5,239.0 145.7,244.3 145.8,233.9 145.9,238.5 146.1,241.5 146.2,238.5 146.4,237.1 146.5,245.8 146.6,239.2 146.8,238.1 146.9,239.2 147.1,238.9 147.2,246.5 147.3,243.9 147.5,234.5 147.6,249.4 147.7,248.0 147.9,240.9 148.0,237.2 148.2,242.5 148.3,239.4 148.4,245.1 148.6,242.2 148.7,249.0 148.9,233.9 149.0,239.2 149.1,243.9 149.3,239.8 149.4,240.2 149.6,236.4 149.7,252.4 149.8,241.5 150.0,246.0 150.1,238.3 150.2,240.0 150.4,242.0 150.5,251.0 150.7,249.5 150.8,253.2 150.9,250.3 151.1,250.1 151.2,241.3 151.4,238.8 151.5,249.2 151.6,238.7 151.8,245.2 151.9,239.2 152.0,237.0 152.2,242.7 152.3,237.8 152.5,240.8 152.6,247.0 152.7,241.4 152.9,247.6 153.0,240.1 153.2,244.2 153.3,237.2 153.4,249.3 153.6,231.9 153.7,243.9 153.8,245.3 154.0,230.4 154.1,233.9 154.3,234.5 154.4,242.0 154.5,241.1 154.7,240.7 154.8,245.6 155.0,254.3 155.1,237.2 155.2,244.3 155.4,242.7 155.5,248.1 155.7,231.4 155.8,234.1 155.9,236.9 156.1,236.8 156.2,243.7 156.3,240.0 156.5,232.0 156.6,238.6 156.8,234.0 156.9,238.5 157.0,241.4 157.2,238.4 157.3,248.8 157.5,254.1 157.6,245.0 157.7,234.4 157.9,249.8 158.0,253.3 158.1,241.5 158.3,244.4 158.4,248.1 158.6,243.5 158.7,249.0 158.8,245.3 159.0,239.3 159.1,239.9 159.3,241.1 159.4,238.9 159.5,249.3 159.7,244.1 159.8,241.4 160.0,246.7 160.1,242.9 160.2,247.9 160.4,250.9 160.5,243.4 160.6,239.4 160.8,236.3 160.9,251.6 161.1,244.5 161.2,239.4 161.3,242.0 161.5,236.6 161.6,249.4 161.8,244.1 161.9,240.6 162.0,234.8 162.2,253.4 162.3,243.1 162.4,230.9 162.6,239.5 162.7,242.3 162.9,243.3 163.0,236.8 163.1,248.5 163.3,245.5 163.4,242.7 163.6,239.1 163.7,233.3 163.8,240.1 164.0,241.4 164.1,236.3 164.2,244.0 164.4,246.6 164.5,240.0 164.7,240.4 164.8,242.4 164.9,251.1 165.1,249.9 165.2,233.8 165.4,239.9 165.5,254.8 165.6,240.7 165.8,251.5 165.9,245.0 166.1,249.0 166.2,240.6 166.3,242.9 166.5,245.2 166.6,242.3 166.7,242.1 166.9,249.8 167.0,241.6 167.2,249.3 167.3,239.3 167.4,240.8 167.6,246.2 167.7,245.0 167.9,247.4 168.0,242.6 168.1,242.2 168.3,239.9 168.4,234.2 168.5,240.2 168.7,247.7 168.8,242.0 169.0,243.4 169.1,248.8 169.2,237.6 169.4,244.1 169.5,239.4 169.7,248.1 169.8,234.7 169.9,240.5 170.1,239.6 170.2,240.5 170.4,239.4 170.5,251.9 170.6,241.1 170.8,241.5 170.9,234.8 171.0,235.4 171.2,238.3 171.3,235.9 171.5,244.8 171.6,239.2 171.7,239.8 171.9,241.4 172.0,237.5 172.2,235.6 172.3,238.7 172.4,243.2 172.6,241.6 172.7,237.7 172.8,250.3 173.0,244.0 173.1,245.5 173.3,250.0 173.4,237.4 173.5,247.0 173.7,243.4 173.8,243.6 174.0,234.2 174.1,237.9 174.2,242.1 174.4,241.8 174.5,250.0 174.7,240.1 174.8,243.3 174.9,240.4 175.1,235.3 175.2,240.2 175.3,242.5 175.5,250.9 175.6,248.4 175.8,239.2 175.9,237.4 176.0,241.8 176.2,239.1 176.3,254.3 176.5,246.3 176.6,241.7 176.7,239.2 176.9,236.5 177.0,241.5 177.1,229.8 177.3,239.9 177.4,239.6 177.6,249.7 177.7,232.9 177.8,246.5 178.0,240.2 178.1,245.9 178.3,238.1 178.4,244.0 178.5,246.2 178.7,254.1 178.8,237.7 178.9,241.2 179.1,241.3 179.2,238.8 179.4,241.4 179.5,242.0 179.6,240.1 179.8,233.0 179.9,243.2 180.1,234.4 180.2,241.4 180.3,247.0 180.5,235.3 180.6,241.1 180.8,242.8 180.9,241.5 181.0,239.4 181.2,241.8 181.3,245.2 181.4,236.6 181.6,240.9 181.7,245.4 181.9,238.7 182.0,235.6 182.1,245.6 182.3,245.3 182.4,246.6 182.6,241.6 182.7,238.4 182.8,249.4 183.0,248.0 183.1,245.8 183.2,239.1 183.4,242.3 183.5,237.2 183.7,236.3 183.8,242.1 183.9,243.3 184.1,244.5 184.2,242.2 184.4,252.1 184.5,236.6 184.6,248.3 184.8,239.6 184.9,246.4 185.1,237.0 185.2,252.9 185.3,249.0 185.5,233.5 185.6,248.4 185.7,242.6 185.9,246.3 186.0,241.7 186.2,241.0 186.3,234.7 186.4,239.4 186.6,241.6 186.7,233.2 186.9,236.7 187.0,241.8 187.1,244.1 187.3,239.5 187.4,249.0 187.5,239.2 187.7,245.0 187.8,248.6 188.0,237.9 188.1,247.8 188.2,241.2 188.4,237.6 188.5,250.2 188.7,250.3 188.8,240.4 188.9,247.5 189.1,247.1 189.2,241.9 189.3,253.3 189.5,241.4 189.6,238.7 189.8,242.2 189.9,241.5 190.0,239.9 190.2,240.7 190.3,235.3 190.5,245.3 190.6,235.2 190.7,247.8 190.9,245.7 191.0,240.2 191.2,240.2 191.3,238.8 191.4,242.2 191.6,251.2 191.7,243.9 191.8,240.1 192.0,251.2 192.1,240.2 192.3,240.5 192.4,253.3 192.5,245.7 192.7,248.5 192.8,245.5 193.0,245.1 193.1,245.8 193.2,246.3 193.4,253.7 193.5,236.4 193.6,230.2 193.8,240.9 193.9,234.8 194.1,243.2 194.2,236.3 194.3,242.6 194.5,248.1 194.6,239.8 194.8,238.6 194.9,246.5 195.0,238.6 195.2,242.0 195.3,241.7 195.5,235.9 195.6,247.3 195.7,236.9 195.9,247.1 196.0,244.4 196.1,237.0 196.3,240.7 196.4,246.9 196.6,241.0 196.7,253.8 196.8,237.4 197.0,248.7 197.1,234.0 197.3,241.2 197.4,247.7 197.5,232.7 197.7,243.9 197.8,236.9 197.9,235.7 198.1,238.8 198.2,239.7 198.4,240.0 198.5,239.5 198.6,238.1 198.8,230.1 198.9,249.5 199.1,253.4 199.2,244.9 199.3,241.1 199.5,237.5 199.6,244.0 199.7,244.0 199.9,237.9 200.0,241.6 200.2,246.4 200.3,244.0 200.4,242.2 200.6,243.2 200.7,238.7 200.9,242.2 201.0,242.9 201.1,238.7 201.3,241.9 201.4,247.2 201.6,247.8 201.7,231.1 201.8,235.0 202.0,247.6 202.1,244.6 202.2,244.7 202.4,235.2 202.5,242.7 202.7,245.4 202.8,244.6 202.9,238.6 203.1,239.4 203.2,243.9 203.4,243.3 203.5,249.0 203.6,230.6 203.8,239.2 203.9,248.7 204.0,236.3 204.2,242.8 204.3,249.7 204.5,237.0 204.6,243.9 204.7,252.1 204.9,235.6 205.0,231.9 205.2,247.6 205.3,239.6 205.4,241.9 205.6,242.5 205.7,248.5 205.9,240.6 206.0,247.2 206.1,246.0 206.3,242.0 206.4,247.5 206.5,243.6 206.7,241.5 206.8,254.0 207.0,231.6 207.1,236.0 207.2,236.7 207.4,239.8 207.5,242.8 207.7,240.8 207.8,253.7 207.9,239.2 208.1,236.3 208.2,242.0 208.3,239.6 208.5,239.3 208.6,246.6 208.8,243.5 208.9,247.7 209.0,236.3 209.2,244.9 209.3,241.8 209.5,238.5 209.6,233.6 209.7,241.3 209.9,235.7 210.0,245.4 210.1,244.1 210.3,244.2 210.4,253.8 210.6,248.2 210.7,231.1 210.8,244.7 211.0,242.7 211.1,242.7 211.3,239.0 211.4,246.4 211.5,229.3 211.7,234.6 211.8,244.7 212.0,242.5 212.1,246.3 212.2,239.5 212.4,238.7 212.5,245.5 212.6,242.3 212.8,232.4 212.9,246.3 213.1,235.7 213.2,246.0 213.3,242.4 213.5,244.4 213.6,246.7 213.8,236.1 213.9,244.8 214.0,241.0 214.2,240.0 214.3,241.3 214.4,238.7 214.6,241.5 214.7,242.6 214.9,238.0 215.0,247.0 215.1,241.8 215.3,235.5 215.4,243.6 215.6,244.0 215.7,233.8 215.8,242.7 216.0,239.3 216.1,242.6 216.3,240.3 216.4,243.2 216.5,242.2 216.7,229.3 216.8,241.6 216.9,244.0 217.1,244.9 217.2,247.6 217.4,242.9 217.5,248.0 217.6,245.6 217.8,238.7 217.9,237.5 218.1,247.8 218.2,244.8 218.3,232.0 218.5,235.6 218.6,247.2 218.7,241.9 218.9,232.1 219.0,243.4 219.2,246.3 219.3,244.5 219.4,240.8 219.6,240.0 219.7,238.3 219.9,238.4 220.0,242.5 220.1,253.2 220.3,253.2 220.4,240.2 220.5,233.3 220.7,240.5 220.8,239.5 221.0,239.7 221.1,232.3 221.2,240.6 221.4,237.6 221.5,241.2 221.7,232.9 221.8,241.2 221.9,234.6 222.1,236.6 222.2,237.5 222.4,238.1 222.5,238.1 222.6,238.0 222.8,237.7 222.9,237.2 223.0,237.9 223.2,239.1 223.3,250.8 223.5,245.7 223.6,237.8 223.7,233.7 223.9,246.8 224.0,240.8 224.2,242.7 224.3,246.9 224.4,230.9 224.6,237.7 224.7,241.8 224.8,248.1 225.0,240.4 225.1,241.2 225.3,240.6 225.4,240.6 225.5,241.6 225.7,237.8 225.8,237.1 226.0,238.8 226.1,244.1 226.2,246.9 226.4,241.5 226.5,239.4 226.7,247.2 226.8,243.7 226.9,244.6 227.1,240.1 227.2,238.6 227.3,243.3 227.5,239.9 227.6,246.9 227.8,236.1 227.9,242.5 228.0,240.8 228.2,235.4 228.3,238.9 228.5,235.2 228.6,238.9 228.7,239.3 228.9,252.8 229.0,235.3 229.1,244.1 229.3,238.3 229.4,242.6 229.6,238.9 229.7,236.5 229.8,248.2 230.0,246.6 230.1,231.6 230.3,240.0 230.4,238.9 230.5,232.4 230.7,241.6 230.8,243.4 231.0,241.0 231.1,243.2 231.2,250.0 231.4,238.4 231.5,247.3 231.6,252.2 231.8,228.6 231.9,239.6 232.1,247.9 232.2,242.6 232.3,237.7 232.5,248.3 232.6,245.5 232.8,232.5 232.9,245.2 233.0,240.0 233.2,242.0 233.3,234.8 233.4,243.8 233.6,241.8 233.7,236.1 233.9,239.3 234.0,248.5 234.1,249.1 234.3,233.3 234.4,243.7 234.6,239.5 234.7,238.4 234.8,242.4 235.0,249.1 235.1,244.0 235.2,236.1 235.4,241.4 235.5,243.5 235.7,247.0 235.8,240.8 235.9,241.9 236.1,242.5 236.2,244.6 236.4,231.4 236.5,248.5 236.6,243.0 236.8,241.4 236.9,235.6 237.1,242.7 237.2,251.7 237.3,238.2 237.5,232.8 237.6,243.7 237.7,241.5 237.9,241.1 238.0,233.4 238.2,243.6 238.3,244.8 238.4,229.1 238.6,242.3 238.7,245.5 238.9,236.8 239.0,230.3 239.1,242.0 239.3,252.7 239.4,243.4 239.5,253.3 239.7,243.3 239.8,240.4 240.0,237.5 240.1,249.0 240.2,234.6 240.4,238.4 240.5,239.4 240.7,243.2 240.8,241.9 240.9,233.9 241.1,235.5 241.2,250.7 241.4,242.1 241.5,241.7 241.6,239.9 241.8,243.2 241.9,237.8 242.0,247.6 242.2,246.3 242.3,241.7 242.5,246.6 242.6,240.9 242.7,239.6 242.9,247.0 243.0,241.3 243.2,237.6 243.3,250.2 243.4,240.9 243.6,244.2 243.7,249.8 243.8,235.2 244.0,240.3 244.1,247.0 244.3,240.3 244.4,239.5 244.5,241.1 244.7,240.3 244.8,240.2 245.0,244.0 245.1,242.3 245.2,250.9 245.4,243.5 245.5,250.6 245.6,242.5 245.8,250.9 245.9,241.1 246.1,248.2 246.2,242.6 246.3,250.2 246.5,237.6 246.6,239.3 246.8,243.7 246.9,236.6 247.0,249.3 247.2,240.6 247.3,244.3 247.5,246.9 247.6,244.7 247.7,237.6 247.9,234.5 248.0,232.6 248.1,236.6 248.3,237.4 248.4,237.1 248.6,243.7 248.7,234.1 248.8,232.7 249.0,242.1 249.1,250.5 249.3,236.3 249.4,240.4 249.5,240.8 249.7,246.7 249.8,245.5 249.9,238.6 250.1,245.7 250.2,241.2 250.4,245.1 250.5,250.3 250.6,229.3 250.8,233.3 250.9,233.6 251.1,234.2 251.2,241.2 251.3,241.2 251.5,249.7 251.6,248.0 251.8,242.0 251.9,239.8 252.0,243.9 252.2,242.6 252.3,237.9 252.4,244.0 252.6,237.7 252.7,239.8 252.9,239.4 253.0,237.1 253.1,236.8 253.3,240.5 253.4,239.5 253.6,233.6 253.7,248.7 253.8,248.9 254.0,248.6 254.1,246.1 254.2,239.4 254.4,234.9 254.5,234.5 254.7,230.8 254.8,238.1 254.9,230.8 255.1,240.3 255.2,241.1 255.4,236.9 255.5,236.8 255.6,239.3 255.8,242.6 255.9,237.8 256.0,248.4 256.2,234.9 256.3,236.3 256.5,237.0 256.6,238.4 256.7,240.6 256.9,242.3 257.0,237.7 257.2,247.7 257.3,229.6 257.4,240.8 257.6,239.6 257.7,232.1 257.9,231.8 258.0,239.8 258.1,245.3 258.3,241.3 258.4,238.8 258.5,237.5 258.7,236.5 258.8,237.0 259.0,242.5 259.1,244.8 259.2,241.9 259.4,235.4 259.5,242.0 259.7,244.5 259.8,229.3 259.9,240.6 260.1,236.1 260.2,239.5 260.3,232.2 260.5,233.3 260.6,238.3 260.8,235.9 260.9,236.2 261.0,234.1 261.2,241.1 261.3,244.5 261.5,233.6 261.6,240.1 261.7,236.4 261.9,240.1 262.0,244.6 262.2,240.0 262.3,238.0 262.4,233.0 262.6,244.6 262.7,247.4 262.8,228.4 263.0,241.7 263.1,237.6 263.3,231.7 263.4,247.8 263.5,241.3 263.7,249.7 263.8,234.3 264.0,236.0 264.1,230.4 264.2,238.8 264.4,229.4 264.5,236.7 264.6,244.6 264.8,241.3 264.9,243.6 265.1,239.1 265.2,242.6 265.3,237.8 265.5,231.6 265.6,241.0 265.8,238.1 265.9,234.2 266.0,232.5 266.2,245.0 266.3,229.6 266.4,234.0 266.6,240.5 266.7,241.8 266.9,239.8 267.0,230.3 267.1,244.5 267.3,238.0 267.4,230.6 267.6,244.5 267.7,238.1 267.8,228.6 268.0,225.9 268.1,237.8 268.3,235.2 268.4,240.2 268.5,239.6 268.7,234.5 268.8,241.1 268.9,240.0 269.1,233.0 269.2,243.1 269.4,239.9 269.5,237.8 269.6,240.8 269.8,234.5 269.9,234.5 270.1,238.3 270.2,233.8 270.3,247.3 270.5,240.3 270.6,243.0 270.7,248.9 270.9,247.0 271.0,250.7 271.2,234.3 271.3,248.2 271.4,236.8 271.6,238.0 271.7,240.3 271.9,239.6 272.0,239.0 272.1,240.9 272.3,247.6 272.4,226.9 272.6,231.0 272.7,231.8 272.8,240.7 273.0,239.7 273.1,241.2 273.2,249.6 273.4,239.2 273.5,231.0 273.7,241.4 273.8,249.1 273.9,250.0 274.1,238.5 274.2,239.7 274.4,240.7 274.5,242.1 274.6,237.9 274.8,236.0 274.9,247.4 275.0,247.3 275.2,238.7 275.3,235.3 275.5,235.0 275.6,232.0 275.7,231.5 275.9,236.9 276.0,234.3 276.2,239.9 276.3,235.4 276.4,233.1 276.6,236.1 276.7,224.8 276.9,240.3 277.0,236.8 277.1,245.9 277.3,235.5 277.4,237.2 277.5,232.8 277.7,249.9 277.8,239.5 278.0,244.9 278.1,235.9 278.2,241.2 278.4,232.4 278.5,234.2 278.7,236.0 278.8,232.6 278.9,241.9 279.1,242.5 279.2,244.5 279.3,232.4 279.5,234.3 279.6,237.3 279.8,241.3 279.9,230.3 280.0,236.0 280.2,243.5 280.3,238.1 280.5,236.9 280.6,231.0 280.7,235.6 280.9,241.5 281.0,243.4 281.1,227.8 281.3,239.8 281.4,235.4 281.6,232.1 281.7,248.2 281.8,241.4 282.0,231.3 282.1,231.7 282.3,238.6 282.4,229.0 282.5,236.4 282.7,240.5 282.8,230.0 283.0,238.7 283.1,240.2 283.2,233.9 283.4,239.9 283.5,241.6 283.6,240.2 283.8,233.9 283.9,242.8 284.1,235.9 284.2,239.0 284.3,238.2 284.5,237.8 284.6,226.1 284.8,244.0 284.9,240.7 285.0,238.7 285.2,241.6 285.3,235.5 285.4,237.2 285.6,241.0 285.7,225.4 285.9,233.7 286.0,234.6 286.1,236.4 286.3,235.0 286.4,233.6 286.6,239.6 286.7,242.8 286.8,240.9 287.0,244.3 287.1,241.3 287.3,247.0 287.4,247.7 287.5,235.6 287.7,233.5 287.8,234.8 287.9,236.3 288.1,242.6 288.2,241.4 288.4,239.6 288.5,234.4 288.6,235.9 288.8,237.2 288.9,239.7 289.1,224.5 289.2,239.8 289.3,241.3 289.5,234.0 289.6,246.8 289.7,242.9 289.9,242.5 290.0,228.8 290.2,243.0 290.3,239.2 290.4,239.4 290.6,224.5 290.7,228.9 290.9,236.4 291.0,230.1 291.1,246.1 291.3,231.4 291.4,242.6 291.5,240.3 291.7,252.8 291.8,238.4 292.0,247.1 292.1,235.5 292.2,231.2 292.4,240.2 292.5,245.8 292.7,234.8 292.8,244.4 292.9,241.6 293.1,238.2 293.2,239.3 293.4,238.9 293.5,234.4 293.6,238.9 293.8,240.6 293.9,233.6 294.0,223.8 294.2,242.0 294.3,233.9 294.5,241.4 294.6,232.8"/>
<polyline fill="none" stroke="#999" stroke-width="0.6" stroke-linejoin="round" points="54.3,179.1 54.2,176.0 54.2,178.1 54.2,181.2 54.3,181.2 54.2,173.1 55.6,181.6 55.3,176.2 54.4,178.6 54.2,178.0 55.2,178.6 54.2,176.0 56.3,179.6 54.2,180.9 54.2,176.2 55.5,177.9 54.2,180.5 54.2,181.3 54.2,179.1 54.2,179.0 54.2,179.7 54.6,177.3 54.8,179.4 56.6,177.6 55.7,177.4 54.2,171.5 55.5,173.2 55.0,179.7 54.6,180.9 54.2,180.1 57.1,179.1 57.0,177.9 55.0,180.6 54.2,177.7 54.2,178.9 54.2,183.5 55.9,174.9 54.2,177.3 56.3,178.4 54.5,173.4 55.3,175.7 55.9,182.5 58.1,180.9 55.9,179.0 54.7,183.4 55.4,176.5 55.2,185.4 55.0,179.4 55.2,177.8 54.2,183.0 55.5,181.4 54.2,180.4 56.7,179.5 54.6,174.4 54.2,173.6 56.1,180.0 56.2,183.0 55.4,177.7 54.2,180.4 54.2,175.4 56.1,175.7 58.4,180.1 55.7,182.5 55.8,182.7 56.2,184.2 54.3,178.1 57.0,180.0 54.7,183.0 55.6,177.5 54.5,179.8 54.2,180.8 54.6,180.7 54.4,183.6 55.1,182.2 57.8,179.6 56.1,173.8 55.0,183.5 56.3,184.2 55.0,182.7 57.4,182.3 57.0,182.6 55.4,185.1 55.9,179.8 56.0,181.2 54.6,178.4 54.4,180.8 55.8,179.0 54.8,179.1 56.0,175.5 57.3,181.4 55.8,184.9 57.0,173.5 58.6,185.8 55.6,181.8 58.2,179.8 55.1,183.0 54.7,181.3 56.6,181.9 56.1,186.6 54.4,182.7 58.2,183.4 57.6,181.5 55.1,181.8 56.2,179.5 56.4,182.1 54.8,180.0 57.0,186.2 54.7,181.9 54.2,185.0 58.6,186.8 55.8,186.0 55.6,180.7 56.4,188.2 55.8,176.9 59.7,187.5 57.4,175.0 58.0,180.2 58.1,182.9 59.8,180.9 54.2,176.5 58.0,178.5 57.2,184.2 57.1,178.0 58.6,185.5 57.9,187.2 54.7,187.9 57.4,184.5 56.9,183.6 58.7,182.5 54.3,192.3 58.1,187.8 57.4,186.0 58.1,185.1 57.8,187.6 54.4,178.0 58.3,187.0 57.3,182.5 56.3,177.0 58.7,188.0 57.4,182.1 59.7,186.0 58.9,182.3 56.0,183.5 58.6,190.0 57.5,186.0 57.5,186.2 57.4,180.0 59.0,188.0 56.5,183.1 58.3,186.8 55.6,182.0 58.2,186.6 56.0,187.2 56.0,180.8 57.7,186.6 56.3,182.8 59.4,189.8 56.4,187.0 60.1,186.1 59.1,194.5 58.1,188.8 58.9,184.9 58.3,189.0 61.3,187.2 58.8,190.7 57.3,183.1 58.7,192.9 57.7,184.9 58.1,185.4 57.4,184.3 57.5,185.8 59.4,193.1 58.2,187.5 59.4,183.4 57.9,186.5 58.2,187.9 57.7,190.3 60.2,186.2 60.7,188.0 58.3,196.0 59.7,187.0 56.5,187.9 56.8,183.6 59.6,190.8 56.2,186.2 62.1,193.9 60.0,191.9 61.1,190.6 58.6,186.3 56.9,187.0 57.5,186.9 57.6,188.5 60.0,187.1 57.4,186.6 57.7,188.8 61.1,188.4 57.2,187.3 58.1,191.7 60.9,192.2 62.5,186.9 56.8,196.1 55.7,190.2 58.1,193.1 59.4,195.4 59.1,184.4 58.4,190.9 57.4,192.4 60.4,193.4 58.5,192.1 58.4,192.9 59.3,184.5 61.3,186.4 59.6,191.7 62.8,182.9 59.0,188.0 60.3,189.3 56.5,191.3 58.6,193.1 59.5,191.0 58.6,187.4 58.5,187.0 58.8,191.8 58.3,192.4 58.9,191.8 59.8,191.0 60.2,191.0 58.2,186.0 59.5,190.7 58.6,193.4 61.1,187.1 62.2,192.5 60.1,193.4 60.5,199.1 59.5,191.0 60.6,190.4 59.7,187.2 58.2,187.7 61.8,185.9 63.2,185.4 60.9,194.0 60.1,191.7 60.8,192.8 62.5,186.4 59.5,184.9 61.2,185.9 60.5,197.6 57.2,196.0 59.8,187.6 61.1,192.6 60.8,192.9 60.2,189.0 58.6,190.3 60.8,195.8 60.7,195.1 61.2,195.8 63.0,193.9 60.6,193.3 62.1,194.7 61.3,192.5 64.0,198.9 61.3,193.9 64.1,195.1 59.3,193.0 59.0,191.0 61.4,193.3 60.6,192.4 62.6,190.8 62.0,196.5 62.0,200.7 59.8,194.8 60.9,193.5 62.1,191.4 60.2,188.9 61.0,196.2 62.8,196.2 61.0,191.5 61.4,194.6 62.8,191.4 61.8,199.4 59.1,194.9 61.4,196.1 61.3,200.7 61.7,186.9 64.5,196.3 62.9,195.8 61.6,193.9 60.4,195.1 62.6,199.5 61.7,192.9 63.3,193.0 61.9,201.4 62.9,199.0 60.4,197.2 61.3,198.4 61.7,196.0 60.5,194.7 62.2,195.3 61.1,197.0 61.2,194.3 60.7,190.4 61.6,195.5 59.5,197.2 63.0,195.8 62.4,198.7 62.6,197.4 63.6,199.9 62.3,197.0 61.5,196.0 63.8,198.7 61.4,199.9 62.2,195.3 59.0,193.8 61.3,201.7 62.0,195.2 63.0,198.4 62.8,195.5 63.5,198.0 61.4,202.3 61.4,203.4 62.5,192.8 61.1,192.4 61.7,187.9 62.3,199.8 59.5,203.3 60.1,198.7 62.9,196.8 61.3,200.9 63.4,194.7 61.7,200.4 61.0,203.0 63.3,202.7 62.1,200.8 63.0,196.6 61.6,197.3 61.4,195.2 62.1,205.2 61.5,203.1 62.3,198.5 61.2,198.5 63.1,199.7 63.8,196.5 63.4,200.9 61.0,200.9 64.5,200.7 60.3,199.4 63.1,190.2 63.0,198.6 63.9,194.3 61.9,193.4 62.2,207.6 64.5,197.8 64.5,199.0 61.6,198.6 62.6,196.7 61.9,205.7 59.5,193.2 64.7,201.7 62.2,197.9 63.2,204.7 63.5,203.3 61.4,200.6 64.5,194.9 62.3,203.3 61.2,204.0 63.8,202.9 63.5,199.5 62.6,203.0 63.3,197.9 65.8,201.7 64.4,202.2 63.5,200.1 63.0,197.4 66.1,200.3 62.9,197.9 60.8,196.8 65.3,205.1 62.9,200.8 60.6,199.5 61.7,199.6 61.8,203.2 60.6,200.5 62.7,199.1 62.9,202.8 66.1,202.4 63.7,198.6 63.0,198.0 63.6,206.9 64.2,201.1 65.3,206.7 65.8,204.5 61.2,202.1 61.9,201.6 64.0,208.6 66.7,200.2 63.4,201.2 65.6,199.7 63.3,202.2 63.4,199.4 63.8,203.4 66.1,198.4 63.6,205.1 64.4,204.5 64.7,204.1 65.6,201.1 64.4,208.2 65.6,211.0 66.8,203.1 65.5,200.8 63.9,206.1 64.3,203.0 64.9,204.4 64.2,206.4 63.0,198.9 63.3,206.8 63.8,200.3 61.9,199.6 68.1,202.9 65.9,209.9 63.9,202.1 63.7,206.3 66.5,201.1 62.8,207.1 63.4,206.0 66.3,209.2 64.8,205.6 66.0,205.0 65.1,198.0 64.9,206.4 64.1,208.2 65.7,206.1 65.4,206.1 65.4,207.6 64.5,208.8 66.8,202.2 65.2,205.4 66.0,207.4 63.5,206.8 62.9,202.3 66.3,198.5 64.3,207.3 64.1,208.9 65.8,212.6 67.2,207.9 65.0,203.1 65.0,208.1 66.0,206.1 66.2,204.0 65.6,201.2 63.0,199.8 66.6,204.2 64.5,205.3 68.5,207.2 64.6,207.1 65.9,208.0 65.6,214.5 66.0,207.0 69.2,212.6 65.4,204.5 67.2,204.7 65.8,205.6 65.3,200.8 66.9,214.1 66.3,208.8 65.6,210.7 64.6,214.6 66.5,209.8 69.4,214.4 65.8,199.1 66.9,213.2 65.2,209.5 69.5,206.3 64.1,212.7 65.3,208.7 63.5,205.9 67.2,201.2 66.4,215.7 66.8,198.7 66.2,209.2 68.5,215.2 68.2,211.7 68.0,206.7 62.8,208.2 65.1,206.9 66.6,210.4 67.7,209.2 62.9,204.5 68.7,203.9 67.0,214.2 68.8,204.8 64.9,205.4 65.5,219.1 65.2,206.7 65.8,204.9 65.6,206.3 64.2,213.2 68.6,207.3 67.5,209.8 65.6,201.3 63.9,208.1 68.5,210.7 63.6,210.8 65.3,216.5 65.1,212.8 65.9,200.5 67.6,204.5 68.2,207.5 67.4,209.9 65.4,211.3 68.9,213.7 68.7,204.6 68.2,202.5 70.5,214.6 65.6,207.5 66.1,202.2 66.1,207.8 66.3,209.9 68.2,206.9 67.6,207.2 66.7,216.0 68.9,207.6 67.2,213.3 66.6,213.0 66.5,210.8 65.6,221.8 67.1,206.9 66.2,222.8 67.3,208.7 68.0,211.5 68.2,213.9 66.9,217.2 70.3,215.7 66.0,211.5 68.6,211.6 67.7,217.8 68.1,219.4 66.8,211.1 66.6,218.3 68.7,215.7 65.4,214.5 68.0,209.1 65.8,208.5 65.3,215.5 68.0,203.3 67.1,211.9 70.7,215.7 65.5,207.3 68.2,220.7 68.2,220.9 68.3,209.9 67.4,213.9 65.8,213.9 69.2,212.3 69.2,212.6 68.7,216.6 68.6,221.5 69.9,215.2 69.6,215.3 69.3,215.5 67.4,212.2 69.8,217.7 67.1,213.2 68.9,211.3 67.0,218.0 68.2,207.8 69.6,213.5 68.1,214.0 69.9,215.1 67.9,209.4 70.9,211.9 68.4,215.3 72.1,218.5 69.7,215.6 68.6,215.3 67.1,212.8 68.1,216.4 71.5,205.7 67.0,219.1 66.6,220.5 69.3,216.5 70.6,212.7 68.4,222.3 67.7,214.0 68.6,222.5 68.7,215.9 70.6,213.9 71.7,216.3 68.8,214.4 67.9,216.6 67.4,219.4 66.7,216.4 69.0,215.6 67.0,217.5 70.2,219.3 68.9,217.8 68.3,220.1 71.3,220.3 66.9,219.2 70.6,221.0 69.5,218.2 69.7,223.0 69.4,220.0 67.8,221.9 70.3,217.7 71.2,212.7 66.7,216.8 69.7,218.9 69.4,220.3 69.2,218.7 70.2,225.0 69.3,213.6 69.1,211.8 71.4,218.4 68.3,216.4 69.2,219.4 69.2,222.1 68.6,230.4 69.1,214.1 71.8,215.2 68.7,219.5 73.4,213.7 67.7,216.7 66.5,225.3 69.0,219.8 68.2,220.0 71.8,224.8 70.7,213.1 68.5,220.8 69.8,220.2 69.7,221.6 73.7,216.4 70.4,218.8 70.6,220.3 71.0,223.8 70.5,217.8 70.2,223.5 69.1,212.2 70.4,222.8 70.6,224.4 68.5,217.4 70.5,220.1 68.6,221.4 68.1,222.7 70.4,226.5 71.2,222.4 71.8,220.7 69.7,220.9 68.5,223.0 69.3,225.2 70.2,223.1 70.5,219.8 71.3,220.7 70.4,218.9 72.2,218.7 69.8,220.3 71.4,220.0 71.7,225.7 71.4,217.6 71.6,223.0 69.3,217.8 72.1,226.1 70.2,224.1 70.7,228.2 69.5,225.3 71.5,218.8 70.4,223.3 70.1,220.6 72.0,221.1 70.0,219.1 71.6,222.2 71.4,223.9 71.9,224.5 71.3,234.0 69.5,223.0 71.5,224.2 71.8,223.5 74.0,222.9 74.0,222.7 72.6,224.3 72.8,223.3 68.0,227.3 70.7,226.1 69.9,220.6 72.4,224.4 72.3,225.8 72.3,223.4 72.4,223.6 72.1,224.3 71.5,227.3 70.9,225.5 72.7,222.6 71.7,224.7 73.3,230.2 71.2,221.1 71.4,227.9 70.7,224.2 72.8,236.6 70.7,228.0 68.6,225.6 70.8,225.0 71.0,219.2 72.0,223.5 71.5,234.1 73.8,227.3 72.5,224.6 73.5,225.8 74.1,226.1 73.6,222.0 73.5,226.5 71.5,228.3 72.9,220.0 72.1,225.3 73.4,214.9 71.5,219.3 73.3,230.0 71.7,231.7 73.5,234.4 74.2,221.2 74.2,226.4 71.9,225.4 74.4,231.4 70.1,228.3 72.8,227.4 70.6,229.6 72.6,225.2 71.0,231.3 72.6,225.9 71.7,232.0 74.5,228.2 75.8,228.5 74.0,222.8 74.3,221.1 73.5,221.1 72.7,229.8 72.6,218.8 71.3,233.7 71.8,226.6 74.1,222.3 72.4,229.6 73.6,222.9 71.8,228.4 76.3,227.2 75.0,233.4 73.0,232.2 75.8,232.5 73.9,226.6 74.8,233.9 73.0,228.4 72.6,229.3 75.3,230.7 74.4,230.1 74.5,223.3 74.8,231.8 73.6,222.3 72.8,231.2 74.0,228.9 71.0,229.6 73.7,224.7 75.1,233.7 73.3,228.9 76.2,233.2 73.1,226.5 72.2,226.6 74.5,230.1 73.5,234.2 74.6,224.3 72.9,227.5 74.6,227.9 74.0,228.9 74.2,228.2 75.2,234.8 72.8,233.3 73.7,230.5 75.5,234.0 75.7,234.9 75.0,227.9 72.5,227.5 74.3,233.7 73.5,239.9 73.7,220.6 72.0,228.2 71.2,234.3 75.6,227.6 75.3,234.8 72.2,232.1 73.8,225.8 74.4,229.3 73.5,233.0 75.0,227.6 73.8,234.0 72.4,232.9 73.8,230.3 75.1,233.4 73.2,230.2 75.5,232.8 76.0,227.6 75.4,238.1 75.3,230.8 74.4,237.1 75.4,241.4 73.6,239.0 71.4,232.2 73.7,233.0 76.7,232.2 76.2,233.8 73.3,228.9 74.5,224.6 73.8,234.0 73.2,232.9 74.4,239.4 76.0,240.7 75.0,226.8 74.6,228.8 71.9,236.3 78.0,238.1 73.4,233.6 75.0,233.4 76.2,225.1 75.3,243.2 76.3,230.2 71.9,235.8 73.9,234.9 74.2,229.5 73.3,237.3 73.0,240.0 76.5,233.4 73.5,234.3 76.8,236.6 76.6,238.1 74.9,237.6 73.4,230.0 74.6,229.8 74.4,231.6 74.5,222.2 74.4,228.3 75.6,233.3 75.1,231.3 75.5,230.6 75.5,238.2 77.3,235.9 78.4,238.1 75.7,233.8 75.6,232.7 75.5,230.8 77.1,235.8 76.7,226.7 75.9,230.9 75.6,237.4 76.6,238.7 77.3,234.7 75.3,229.9 76.5,237.6 73.4,231.8 75.0,234.6 76.7,230.9 73.8,243.4 73.9,242.0 76.4,231.6 73.3,230.2 75.7,235.3 79.0,238.4 76.7,241.2 78.6,235.4 78.4,230.2 75.2,237.1 76.0,237.0 76.8,228.8 77.9,234.8 78.4,234.7 77.5,231.7 76.9,237.1 75.0,240.9 77.9,240.8 75.7,232.3 77.9,233.7 78.4,239.5 74.5,234.9 79.4,234.9 76.4,246.5 78.2,225.1 78.0,233.7 79.3,232.9 78.4,236.5 79.0,244.5 78.0,236.2 75.7,235.7 76.6,237.7 77.8,235.7 78.2,238.8 77.1,248.6 75.9,234.1 75.2,236.3 77.1,237.0 80.5,227.8 76.9,240.2 76.4,237.2 78.0,228.6 78.2,236.3 77.3,238.4 74.4,233.6 76.3,242.7 76.4,235.1 78.1,231.0 76.4,241.5 77.0,237.3 75.8,238.6 76.6,230.7 80.5,231.7 78.6,233.5 78.0,237.4 76.3,237.5 75.8,244.5 79.0,245.3 77.5,238.9 78.4,237.9 78.0,247.0 77.8,238.7 74.2,243.1 79.0,236.3 80.2,238.1 77.8,237.3 77.5,235.4 78.1,240.4 77.5,234.9 75.3,238.2 77.4,240.6 77.9,248.5 79.4,230.1 76.6,239.2 77.5,241.9 78.0,237.4 78.7,243.0 80.8,241.5 79.0,241.3 79.0,237.2 76.5,238.2 80.4,238.1 75.8,234.7 80.1,240.1 79.5,234.4 78.4,235.0 76.8,233.0 79.1,244.5 77.7,236.9 80.3,235.4 74.9,243.2 78.5,237.6 74.9,241.2 78.6,238.8 78.1,241.4 79.7,240.6 77.0,229.7 77.2,246.6 75.6,244.5 78.0,233.1 78.9,244.1 78.3,238.9 77.3,240.5 78.4,246.0 79.5,244.7 79.2,244.7 76.0,249.5 78.1,245.3 77.6,237.4 75.4,234.3 79.7,244.2 79.4,232.4 77.5,238.8 79.7,238.8 79.3,237.2 78.4,246.8 79.5,242.0 78.8,239.5 78.1,244.8 80.6,238.8 77.0,246.3 81.9,250.3 79.6,240.2 78.7,240.1 79.9,246.2 78.0,231.7 78.7,235.1 82.1,236.2 80.0,233.4 79.2,241.0 79.2,242.5 80.7,241.0 80.8,241.0 79.0,245.5 81.2,246.3 79.5,247.1 79.5,240.7 80.7,241.4 78.6,248.3 77.5,243.4 79.5,247.7 81.0,239.3 79.3,241.3 81.0,238.6 81.5,241.5 79.3,243.7 79.9,239.6 79.7,251.0 80.8,234.8 80.6,245.9 80.2,236.7 81.9,243.3 80.6,238.3 80.4,242.3 79.0,242.4 80.2,238.3 82.0,236.3 81.1,238.8 80.3,242.3 80.1,246.1 78.9,249.9 79.2,234.1 81.7,244.5 80.4,240.1 80.5,242.5 82.1,244.0 79.8,246.2 79.8,244.4 82.4,242.4 81.4,250.0 78.3,244.0 80.5,242.7 79.5,248.1 79.9,237.3 80.3,238.3 78.3,249.7 79.7,241.9 83.2,234.4 80.4,246.7 80.1,248.7 82.1,239.3 78.9,236.8 80.5,242.8 82.7,244.8 80.9,240.3 81.4,238.8 80.6,245.7 81.4,245.8 82.0,235.7 80.8,238.0 81.2,241.8 81.4,240.4 78.4,244.4 82.4,245.9 83.7,252.3 82.3,245.2 81.5,247.9 80.7,236.1 81.8,240.3 84.0,248.7 83.4,236.7 80.4,250.1 83.5,246.3 80.4,244.3 80.5,243.2 81.2,238.2 82.3,238.6 81.2,241.3 82.9,241.8 82.0,249.8 83.8,239.0 79.7,240.9 81.8,235.6 82.6,244.7 83.8,244.0 78.8,249.3 81.4,253.3 79.0,246.6 82.4,239.9 81.0,245.2 82.3,245.5 83.3,243.9 83.1,239.0 81.6,245.9 82.8,238.4 85.4,243.8 81.3,242.8 82.8,231.8 81.4,247.3 83.3,254.6 81.0,242.6 83.0,241.4 80.1,248.9 82.5,238.1 85.6,244.6 80.7,245.7 81.5,241.8 83.6,244.2 80.8,240.5 79.1,241.8 80.1,247.8 82.7,240.4 84.0,241.9 82.6,241.3 82.6,247.2 84.0,242.9 82.5,240.6 84.4,246.4 84.7,235.0 82.2,235.6 84.4,246.3 83.7,254.0 82.5,242.5 82.7,246.6 84.3,238.2 81.1,245.6 80.6,246.0 84.5,247.9 85.6,241.4 83.3,254.6 84.4,240.4 80.7,252.6 81.1,239.9 82.2,249.1 82.5,251.8 83.3,255.9 82.4,244.7 83.0,237.2 82.8,249.5 84.0,241.9 84.7,240.1 84.4,242.5 85.2,241.0 83.0,249.2 82.6,246.4 80.7,248.9 81.0,249.8 84.5,243.7 84.0,249.1 83.4,251.6 83.0,254.8 81.7,246.5 80.4,244.4 82.7,241.2 83.1,243.8 79.9,245.9 85.4,247.1 82.6,239.2 84.2,243.9 85.5,244.9 85.8,243.0 83.2,242.9 85.1,247.7 85.0,241.2 83.8,248.4 84.2,240.7 82.6,247.2 84.2,240.6 82.9,252.0 83.6,249.9 84.1,252.9 85.3,242.1 83.6,239.7 83.6,239.7 83.4,245.2 87.5,251.6 83.5,249.9 84.7,249.7 82.0,240.3 84.2,251.8 82.5,250.1 83.4,243.8 85.3,233.8 86.7,242.6 84.5,245.9 85.1,254.5 84.6,247.7 83.7,246.3 84.5,254.6 85.8,254.5 84.7,248.6 83.9,249.9 83.8,253.1 85.2,243.2 84.1,248.9 85.9,244.7 82.6,242.0 85.7,249.4 83.5,252.5 84.6,256.4 87.7,250.9 86.2,252.8 84.0,246.1 84.2,239.5 86.1,243.9 86.1,249.1 84.8,244.2 85.9,256.9 84.3,253.4 81.3,246.2 86.5,256.1 84.3,250.6 85.8,255.7 84.8,246.4 84.7,251.4 83.8,246.2 86.2,247.5 86.3,253.3 86.9,257.2 86.2,248.2 85.8,249.1 84.5,243.1 85.3,246.5 85.9,250.1 81.8,241.2 83.7,245.4 85.1,242.0 86.5,248.7 87.4,252.3 87.9,249.5 84.4,246.3 85.6,242.6 84.8,239.5 84.4,247.9 85.1,255.7 85.8,246.5 86.8,247.6 83.6,245.7 85.5,242.2 84.3,253.5 87.7,251.7 88.2,240.4 85.1,241.7 84.8,255.0 86.7,243.6 87.2,247.9 84.5,242.8 85.3,249.8 86.3,244.1 84.5,245.1 88.1,242.5 86.1,258.0 86.1,261.7 84.4,249.4 87.8,251.8 84.2,251.3 85.1,248.4 85.3,247.9 86.0,246.5 84.2,252.5 85.1,242.1 87.1,244.1 86.2,252.1 86.5,241.2 87.7,256.9 87.0,247.1 87.8,249.5 86.4,255.5 85.2,248.4 88.8,249.3 84.1,245.6 84.6,251.3 84.9,252.3 89.9,244.2 86.7,252.1 88.1,253.8 84.4,251.2 85.1,244.9 87.1,253.7 86.1,255.9 86.9,246.3 87.6,239.4 86.9,245.3 86.9,249.0 87.1,255.7 86.6,255.2 87.3,252.5 88.3,245.7 85.6,253.0 87.4,249.0 88.3,243.8 86.8,239.8 86.9,254.3 89.7,240.7 88.7,255.6 90.4,260.9 89.8,249.4 86.7,244.9 86.2,245.9 86.8,245.7 88.5,251.3 83.7,254.5 87.4,245.4 89.1,247.6 87.4,246.0 87.9,255.3 87.1,254.5 85.1,245.0 88.8,247.9 87.1,250.3 88.2,240.2 87.6,246.7 90.3,250.3 88.3,242.3 88.3,250.7 87.5,249.8 86.5,246.7 88.3,255.0 89.3,244.8 87.8,251.9 84.8,248.4 86.7,255.4 90.6,245.7 87.1,252.9 88.2,253.0 85.3,255.7 87.2,258.2 86.8,242.0 89.1,249.5 88.9,244.3 88.8,255.0 89.5,257.0 87.4,248.4 90.5,251.2 87.8,256.8 89.5,251.1 91.2,249.4 87.5,241.5 88.8,246.4 88.1,255.3 88.5,242.5 88.8,251.6 88.3,251.3 88.4,250.1 89.4,254.3 86.6,246.3 87.4,257.5 87.8,248.0 86.6,255.6 89.0,247.3 87.9,251.7 87.4,248.6 86.7,259.1 87.4,245.0 89.3,247.1 86.9,258.0 90.0,254.7 89.6,250.3 89.2,249.2 86.4,243.8 87.8,249.1 90.3,252.4 88.4,256.9 87.8,255.5 87.9,258.2 89.5,252.6 86.4,247.0 90.5,248.9 89.4,258.7 87.6,251.3 89.9,258.1 85.5,242.5 87.4,248.2 89.6,246.7 91.3,252.2 87.5,246.8 87.3,244.0 89.2,250.5 89.4,239.0 88.2,247.9 88.2,253.2 91.5,245.0 88.1,250.7 87.1,246.4 88.9,249.2 91.3,252.3 90.5,253.5 89.5,253.4 87.7,247.2 89.4,259.1 93.0,252.9 90.5,247.8 91.1,258.2 87.4,249.2 89.1,261.5 88.9,255.7 92.2,250.8 89.4,248.8 89.7,247.0 89.1,247.3 86.3,250.0 91.5,258.5 87.2,252.4 89.1,251.1 87.7,253.8 89.1,249.9 89.3,245.0 89.3,243.8 92.1,259.1 88.4,250.2 89.7,260.1 90.9,261.7 89.6,253.2 89.4,255.8 92.9,249.9 91.3,251.1 89.1,252.2 90.6,251.8 89.0,259.8 91.0,251.4 88.3,256.6 91.5,252.6 90.9,255.2 90.9,261.7 90.5,243.8 90.8,258.2 89.3,248.7 90.6,253.1 91.4,250.2 91.2,249.6 89.3,244.9 91.4,238.0 89.0,263.5 89.7,256.8 89.5,250.9 89.9,242.3 90.6,255.8 91.7,260.6 92.3,254.6 91.5,243.2 89.8,249.5 91.9,253.7 92.3,251.9 89.9,258.3 89.3,247.2 90.8,249.0 93.7,239.1 90.6,258.5 90.8,255.8 92.1,250.1 89.5,242.8 89.6,257.1 91.0,244.9 92.4,245.7 90.8,242.2 90.3,244.9 88.9,247.5 93.5,246.7 89.6,258.5 93.2,256.4 90.4,253.0 93.0,249.5 93.8,252.4 90.2,245.5 92.3,254.8 92.5,247.6 93.3,249.9 91.1,254.5 93.3,248.0 91.8,245.2 90.2,258.3 93.1,243.4 93.5,245.8 91.7,246.5 91.6,248.9 92.9,252.1 94.2,238.8 90.1,250.1 93.3,260.5 94.7,259.3 90.7,257.7 92.7,252.5 92.0,254.1 92.5,250.0 93.8,243.9 89.8,254.9 91.3,258.9 90.1,254.7 91.7,252.9 94.8,257.8 90.7,254.8 91.5,259.2 91.3,250.8 92.8,243.4 91.8,255.8 91.2,258.0 91.2,249.0 92.1,254.5 90.6,257.2 89.0,239.2 94.1,266.7 92.6,257.6 91.6,252.2 92.3,247.0 93.5,244.8 91.3,267.4 92.6,251.6 91.8,257.2 94.3,249.8 89.2,251.7 90.7,257.1 94.7,248.4 91.0,253.1 91.6,252.4 91.0,256.2 89.5,258.3 92.7,252.6 93.8,261.3 93.3,251.0 91.2,251.5 92.2,254.1 95.3,252.3 92.7,258.0 91.7,239.7 94.3,244.0 92.6,241.9 90.4,261.5 91.9,258.3 94.4,250.0 92.9,256.0 93.0,244.2 94.1,252.2 92.1,262.0 91.1,257.5 93.3,265.7 92.4,251.3 93.3,260.3 92.3,254.6 92.3,255.8 91.4,255.5 93.8,258.3 96.2,261.4 91.7,254.5 95.1,256.2 94.5,253.6 92.7,255.8 92.2,249.8 94.4,259.8 93.1,258.1 93.3,256.1 93.1,254.3 96.4,250.7 91.5,249.2 94.4,248.3 96.5,250.1 94.1,259.5 96.9,256.8 93.9,246.6 94.2,249.2 95.0,261.9 93.0,263.7 94.0,259.2 94.8,266.2 93.1,250.9 94.7,257.1 95.6,251.2 92.5,266.9 94.0,257.2 94.8,257.1 93.2,256.9 95.7,251.1 96.0,254.6 93.5,242.4 94.7,252.5 93.5,249.5 94.2,259.4 95.1,262.4 94.2,256.6 94.7,249.5 93.9,249.1 96.2,259.2 95.9,253.7 93.7,253.8 95.4,249.3 98.1,256.6 94.0,256.4 96.6,259.7 98.2,250.2 94.5,255.2 95.9,247.6 91.7,256.7 96.8,255.5 95.8,253.4 96.1,260.4 95.2,248.5 96.3,264.1 96.5,257.8 96.0,258.8 94.6,257.1 94.8,251.8 95.1,252.6 94.8,260.9 94.0,255.6 93.4,257.5 95.0,253.8 93.9,260.4 94.7,259.4 93.5,248.7 93.4,266.6 94.7,261.6 95.0,260.4 98.4,257.7 95.3,255.6 96.9,260.7 96.1,269.5 95.9,255.5 95.1,250.0 96.4,255.9 96.3,256.5 93.6,261.3 96.5,249.4 95.3,253.7 93.4,254.4 94.6,261.5 96.7,262.2 97.0,257.3 95.6,262.0 97.5,256.8 96.9,256.8 93.6,243.7 94.3,251.3 96.4,250.1 94.6,258.7 95.0,256.7 96.4,250.3 95.6,256.5 95.0,255.6 94.0,258.4 98.9,253.2 94.1,252.4 95.5,263.0 97.7,254.9 96.0,261.9 94.8,251.5 94.6,255.1 97.9,254.6 97.3,251.1 93.5,260.3 94.3,249.1 97.2,257.7 98.6,244.8 95.6,260.2 97.8,256.7 94.2,262.6 94.1,267.5 94.7,252.8 97.2,256.6 96.8,249.5 97.6,254.1 94.1,256.9 99.0,256.8 96.1,260.9 100.1,259.3 97.1,262.0 94.1,253.0 96.7,257.5 95.6,251.0 99.0,255.8 97.1,242.5 98.6,256.2 95.7,257.0 95.8,254.3 97.1,254.6 97.0,247.5 95.6,253.3 97.7,253.6 98.7,258.0 96.5,259.3 96.4,254.5 96.4,256.1 97.9,258.8 97.0,252.1 97.8,262.4 98.8,268.0 96.8,259.0 96.8,254.4 96.8,258.2 99.4,263.4 97.2,263.9 97.4,249.8 96.9,258.9 98.7,253.2 98.0,254.8 95.8,258.6 98.8,260.1 98.1,255.7 99.2,252.6 98.3,256.2 97.5,251.7 96.2,266.7 99.0,248.9 99.4,260.5 96.4,257.9 97.6,257.4 98.4,251.7 97.6,254.7 98.3,255.6 97.3,254.5 96.9,256.1 99.6,258.0 95.5,255.1 98.8,259.8 96.8,261.4 98.0,254.6 97.0,261.5 98.2,257.9 97.1,254.5 98.4,260.1 96.1,263.6 96.6,255.9 97.9,247.8 99.0,261.8 97.0,263.0 101.0,251.7 97.7,257.0 99.4,260.2 95.7,245.0 96.9,261.9 96.9,261.6 96.7,262.1 96.1,265.8 97.8,252.1 97.2,262.9 100.8,270.1 98.4,245.7 98.9,255.9 95.6,261.7 100.7,254.0 100.8,248.0 97.0,259.6 97.1,258.8 97.6,254.0 100.7,259.3 96.8,262.9 97.3,263.4 96.5,260.3 99.2,251.3 100.0,256.4 97.5,245.8 100.5,252.3 99.1,259.0 97.7,261.0 99.7,258.0 100.8,258.0 100.8,247.6 99.8,251.2 100.9,251.9 99.1,255.0 99.6,255.0 101.0,270.0 99.0,263.7 98.0,252.7 97.5,254.6 98.5,255.3 96.6,255.1 98.0,255.5 97.7,247.3 99.1,264.6 97.4,262.0 99.2,261.8 99.4,258.9 100.6,260.9 101.0,256.5 101.0,247.7 99.2,259.1 97.6,258.6 100.7,251.3 100.2,246.4 99.0,264.7 100.9,253.0 101.0,257.4 100.3,254.8 99.2,267.7 100.1,250.5 98.5,264.3 101.0,244.9 98.1,263.6 98.4,256.0 101.0,246.5 99.7,259.0 98.2,258.3 101.0,250.0 101.0,260.7 97.7,258.6 101.0,261.4 101.0,251.2 101.0,254.7 100.8,253.6 101.0,259.5 100.4,256.0 101.0,253.4 101.0,266.4 101.0,256.0 99.5,264.9 100.2,263.5 101.0,255.1 98.6,249.0 99.6,260.1 99.5,262.7 101.0,265.4 99.3,261.2 99.9,261.4 100.5,255.7 101.0,255.2 101.0,273.5 99.0,265.3"/>
<polyline fill="none" stroke="#9e9e9e" stroke-width="0.5" stroke-linejoin="round" points="100.6,237.9 100.7,242.3 100.8,242.8 100.9,236.7 101.0,240.8 101.1,243.1 101.2,246.1 101.3,246.0 101.4,240.6 101.5,240.7 101.6,240.3 101.7,242.2 101.8,243.9 101.9,238.8 102.0,241.1 102.1,240.0 102.2,239.5 102.3,240.3 102.4,246.6 102.5,246.4 102.6,245.7 102.7,237.2 102.8,242.6 102.9,248.3 103.0,242.9 103.1,239.8 103.2,243.4 103.3,241.1 103.4,240.7 103.5,242.5 103.6,243.1 103.7,241.3 103.8,241.8 103.9,239.1 104.0,241.7 104.1,243.8 104.2,242.1 104.3,241.4 104.4,238.0 104.5,245.0 104.6,238.7 104.7,243.8 104.8,241.0 104.9,244.1 105.0,244.8 105.1,241.1 105.2,233.7 105.3,236.4 105.4,239.3 105.5,239.5 105.6,242.8 105.7,247.4 105.8,243.9 105.9,241.7 106.0,245.8 106.1,241.6 106.2,244.4 106.3,243.1 106.4,236.8 106.5,244.8 106.6,246.9 106.7,241.2 106.8,244.3 106.9,243.6 107.0,241.5 107.1,241.2 107.2,244.9 107.3,240.5 107.4,240.8 107.5,244.6 107.6,244.8 107.7,246.5 107.8,240.7 107.9,238.7 108.0,245.3 108.1,238.1 108.2,241.2 108.3,241.7 108.4,247.0 108.5,242.4 108.6,239.1 108.7,242.3 108.8,246.0 108.9,237.5 109.0,238.8 109.1,245.2 109.2,242.7 109.3,239.6 109.4,241.8 109.5,242.6 109.6,239.3 109.7,240.8 109.8,246.3 109.9,243.3 110.0,245.4 110.1,242.3 110.2,240.9 110.3,243.2 110.4,239.9 110.5,243.4 110.6,241.5 110.7,241.6 110.8,241.6 110.9,239.7 111.0,246.0 111.1,238.2 111.2,242.9 111.3,238.8 111.4,244.7 111.5,241.7 111.6,242.8 111.7,243.5 111.8,243.2 111.9,242.7 112.0,243.2 112.1,243.1 112.2,240.9 112.3,241.3 112.4,241.5 112.5,240.2 112.6,240.6 112.7,245.6 112.8,238.2 112.9,246.6 113.0,240.6 113.1,243.7 113.2,242.0 113.3,241.5 113.4,243.5 113.5,246.5 113.6,241.6 113.7,241.8 113.8,240.4 113.9,247.4 114.0,245.0 114.1,244.9 114.2,241.9 114.3,236.7 114.4,243.1 114.5,236.9 114.6,240.0 114.7,244.3 114.8,240.1 114.9,239.8 115.0,235.9 115.1,243.6 115.2,242.8 115.3,240.3 115.4,242.6 115.5,237.2 115.6,239.0 115.7,242.1 115.8,243.9 115.9,241.4 116.0,238.2 116.1,240.2 116.2,244.5 116.3,239.8 116.4,242.1 116.5,242.6 116.6,239.9 116.7,241.4 116.8,236.5 116.9,239.8 117.0,241.4 117.1,243.0 117.2,244.8 117.3,240.0 117.4,242.5 117.5,240.9 117.6,239.1 117.7,239.1 117.8,241.0 117.9,241.2 118.0,239.1 118.1,248.5 118.2,241.0 118.3,242.9 118.4,240.3 118.5,248.6 118.6,235.0 118.7,240.1 118.8,241.5 118.9,244.2 119.0,240.8 119.1,238.3 119.2,245.2 119.3,242.7 119.4,240.2 119.5,240.2 119.6,240.2 119.7,241.3 119.8,236.2 119.9,241.2 120.0,239.1 120.1,242.1 120.2,241.6 120.3,237.9 120.4,244.3 120.5,242.7 120.6,238.2 120.7,237.8 120.8,238.8 120.9,241.5 121.0,244.0 121.1,238.1 121.2,238.5 121.3,241.9 121.4,240.4 121.5,240.4 121.6,240.2 121.7,239.6 121.8,245.1 121.9,243.1 122.0,239.5 122.1,243.8 122.2,245.5 122.3,241.6 122.4,241.2 122.5,239.0 122.6,240.6 122.7,240.9 122.8,243.8 122.9,237.7 123.0,235.9 123.1,238.9 123.2,241.2 123.3,234.8 123.4,239.6 123.5,238.0 123.6,237.1 123.7,240.5 123.8,243.2 123.9,236.5 124.0,240.7 124.1,239.6 124.2,241.8 124.3,240.1 124.4,238.4 124.5,242.4 124.6,241.2 124.7,237.3 124.8,234.7 124.9,238.1 125.0,240.6 125.1,242.1 125.2,238.5 125.3,239.0 125.4,235.2 125.5,238.8 125.6,240.3 125.7,238.5 125.8,239.8 125.9,237.4 126.0,237.6 126.1,240.8 126.2,235.9 126.3,240.1 126.4,243.3 126.5,238.6 126.6,238.8 126.7,237.9 126.8,236.6 126.9,238.6 127.0,236.7 127.1,239.6 127.2,238.7 127.3,237.1 127.4,240.3 127.5,242.9 127.6,242.3 127.7,239.5 127.8,240.2 127.9,237.4 128.0,239.6 128.1,242.0 128.2,242.3 128.3,243.9 128.4,236.3 128.5,244.5 128.6,241.4 128.7,244.5 128.8,240.4 128.9,243.7 129.0,240.3 129.1,237.6 129.2,241.3 129.3,239.1 129.4,240.3 129.5,241.9 129.6,242.6 129.7,242.2 129.8,243.1 129.9,236.4 130.0,243.6 130.1,238.3 130.2,240.8 130.3,239.5 130.4,237.5 130.5,243.0 130.6,237.9 130.7,239.2 130.8,244.6 130.9,234.7 131.0,236.2 131.1,243.3 131.2,239.6 131.3,242.9 131.4,240.7 131.5,239.5 131.6,242.7 131.7,238.9 131.8,239.4 131.9,241.5 132.0,237.9 132.1,237.0 132.2,236.5 132.3,243.4 132.4,246.1 132.5,244.1 132.6,239.3 132.7,239.6 132.8,238.3 132.9,241.0 133.0,243.8 133.1,240.8 133.2,241.0 133.3,232.4 133.4,241.9 133.5,237.9 133.6,240.5 133.7,242.1 133.8,241.5 133.9,243.2 134.0,245.3 134.1,235.1 134.2,237.1 134.3,245.7 134.4,242.6 134.5,239.4 134.6,240.6 134.7,241.4 134.8,244.2 134.9,240.5 135.0,241.4 135.1,237.8 135.2,245.4 135.3,242.7 135.4,240.2 135.5,237.9 135.6,241.5 135.7,243.9 135.8,247.8 135.9,246.7 136.0,240.6 136.1,240.5 136.2,239.0 136.3,242.9 136.4,239.6 136.5,243.3 136.6,242.6 136.7,242.9 136.8,239.1 136.9,244.9 137.0,241.3 137.1,238.5 137.2,241.7 137.3,242.3 137.4,242.0 137.5,244.4 137.6,245.2 137.7,248.1 137.8,241.7 137.9,245.2 138.0,235.0 138.1,247.1 138.2,242.0 138.3,245.5 138.4,241.4 138.5,243.5 138.6,243.8 138.7,240.4 138.8,240.6 138.9,234.3 139.0,243.6 139.1,241.7 139.2,241.6 139.3,245.5 139.4,243.1 139.5,242.8 139.6,237.1 139.7,242.6 139.8,241.4 139.9,244.9 140.0,240.9 140.1,238.9 140.2,241.6 140.3,247.3 140.4,239.9 140.5,245.8 140.6,241.8 140.7,236.8 140.8,244.0 140.9,248.7 141.0,243.5 141.1,239.4 141.2,241.7 141.3,239.9 141.4,250.1 141.5,243.8 141.6,235.9 141.7,244.6 141.8,243.6 141.9,239.6 142.0,240.7 142.1,242.2 142.2,247.0 142.3,240.9 142.4,240.3 142.5,245.0 142.6,240.6 142.7,239.5 142.8,242.0 142.9,244.6 143.0,242.8 143.1,241.4 143.2,246.3 143.3,246.1 143.4,238.0 143.5,239.2 143.6,239.9 143.7,241.8 143.8,242.8 143.9,242.2 144.0,242.6 144.1,243.6 144.2,238.9 144.3,236.5 144.4,243.2 144.5,245.8 144.6,242.9 144.7,241.3 144.8,243.9 144.9,241.5 145.0,238.9 145.1,241.4 145.2,244.5 145.3,243.3 145.4,244.3 145.5,241.1 145.6,243.9 145.7,246.3 145.8,241.5 145.9,241.1 146.0,245.8 146.1,242.7 146.2,239.3 146.3,241.3 146.4,246.0 146.5,243.4 146.6,247.5 146.7,244.2 146.8,243.1 146.9,245.3 147.0,240.8 147.1,245.3 147.2,242.2 147.3,241.8 147.4,243.5 147.5,241.2 147.6,239.4 147.7,240.0 147.8,243.9 147.9,243.3 148.0,242.7 148.1,244.4 148.2,240.1 148.3,241.4 148.4,246.9 148.5,239.9 148.6,246.0 148.7,241.8 148.8,243.9 148.9,243.1 149.0,241.8 149.1,242.8 149.2,245.1 149.3,240.6 149.4,240.0 149.5,244.8 149.6,241.4 149.7,242.1 149.8,242.0 149.9,241.4 150.0,237.7 150.1,242.3 150.2,241.3 150.3,238.9 150.4,241.0 150.5,243.2 150.6,247.2 150.7,241.1 150.8,246.1 150.9,241.3 151.0,243.8 151.1,241.9 151.2,244.6 151.3,242.9 151.4,241.5 151.5,238.4 151.6,245.2 151.7,238.5 151.8,240.9 151.9,247.3 152.0,243.2 152.1,242.8 152.2,242.9 152.3,243.2 152.4,241.6 152.5,243.5 152.6,242.1 152.7,241.7 152.8,243.8 152.9,244.3 153.0,243.5 153.1,245.1 153.2,247.6 153.3,247.2 153.4,242.9 153.5,239.7 153.6,245.7 153.7,242.9 153.8,244.7 153.9,241.7 154.0,244.9 154.1,239.6 154.2,243.1 154.3,239.0 154.4,248.0 154.5,241.9 154.6,237.0 154.7,246.1 154.8,245.3 154.9,246.3 155.0,239.6 155.1,243.7 155.2,246.2 155.3,242.2 155.4,243.7 155.5,242.1 155.6,241.9 155.7,246.4 155.8,240.6 155.9,242.8 156.0,244.2 156.1,242.8 156.2,245.0 156.3,237.4 156.4,245.8 156.5,239.6 156.6,242.1 156.7,241.8 156.8,244.0 156.9,242.2 157.0,241.6 157.1,244.6 157.2,248.2 157.3,241.1 157.4,241.0 157.5,241.2 157.6,239.5 157.7,239.5 157.8,241.5 157.9,244.6 158.0,241.4 158.1,240.5 158.2,242.4 158.3,240.6 158.4,249.9 158.5,246.8 158.6,242.8 158.7,238.2 158.8,241.2 158.9,240.3 159.0,240.4 159.1,236.9 159.2,241.3 159.3,241.1 159.4,240.9 159.5,239.3 159.6,243.7 159.7,240.4 159.8,236.7 159.9,240.0 160.0,244.8 160.1,245.9 160.2,239.7 160.3,242.2 160.4,244.2 160.5,245.1 160.6,241.4 160.7,243.5 160.8,241.5 160.9,237.9 161.0,245.1 161.1,242.5 161.2,243.8 161.3,242.1 161.4,240.4 161.5,241.4 161.6,243.6 161.7,239.3 161.8,246.8 161.9,248.7 162.0,236.7 162.1,245.1 162.2,241.5 162.3,244.3 162.4,243.2 162.5,242.2 162.6,245.1 162.7,242.9 162.8,246.6 162.9,243.6 163.0,238.9 163.1,242.3 163.2,242.7 163.3,241.2 163.4,239.5 163.5,247.9 163.6,242.5 163.7,242.6 163.8,238.4 163.9,244.2 164.0,242.4 164.1,245.6 164.2,247.2 164.3,241.0 164.4,240.8 164.5,245.8 164.6,245.6 164.7,243.6 164.8,244.7 164.9,241.9 165.0,242.7 165.1,242.7 165.2,237.1 165.3,244.7 165.4,244.8 165.5,240.3 165.6,241.3 165.7,243.5 165.8,244.6 165.9,242.7 166.0,241.5 166.1,243.8 166.2,243.0 166.3,240.1 166.4,241.8 166.5,241.7 166.6,244.4 166.7,239.2 166.8,240.5 166.9,241.6 167.0,242.7 167.1,248.9 167.2,242.2 167.3,245.4 167.4,244.7 167.5,246.0 167.6,247.2 167.7,244.1 167.8,240.1 167.9,241.7 168.0,246.5 168.1,248.3 168.2,246.0 168.3,248.9 168.4,244.4 168.5,240.4 168.6,242.8 168.7,243.3 168.8,245.0 168.9,244.8 169.0,240.2 169.1,245.7 169.2,241.1 169.3,243.3 169.4,244.2 169.5,244.4 169.6,243.9 169.7,241.1 169.8,242.2 169.9,245.0 170.0,241.3 170.1,239.4 170.2,235.8 170.3,242.5 170.4,240.1 170.5,242.5 170.6,239.6 170.7,241.3 170.8,241.4 170.9,244.9 171.0,240.1 171.1,239.3 171.2,242.7 171.3,244.6 171.4,240.0 171.5,243.7 171.6,242.4 171.7,243.7 171.8,237.4 171.9,242.6 172.0,241.7 172.1,242.9 172.2,240.5 172.3,242.0 172.4,236.5 172.5,242.3 172.6,245.9 172.7,242.8 172.8,242.5 172.9,243.2 173.0,246.0 173.1,240.5 173.2,238.4 173.3,239.3 173.4,240.5 173.5,242.5 173.6,244.4 173.7,240.3 173.8,239.5 173.9,244.6 174.0,245.1 174.1,240.2 174.2,244.2 174.3,241.7 174.4,240.9 174.5,241.8 174.6,239.9 174.7,237.6 174.8,238.4 174.9,240.1 175.0,242.9 175.1,243.2 175.2,244.4 175.3,240.0 175.4,242.0 175.5,238.3 175.6,239.5 175.7,244.8 175.8,241.7 175.9,247.1 176.0,243.9 176.1,240.8 176.2,240.2 176.3,236.5 176.4,245.5 176.5,244.7 176.6,251.6 176.7,247.6 176.8,242.9 176.9,239.2 177.0,237.3 177.1,241.0 177.2,241.9 177.3,238.1 177.4,243.9 177.5,244.6 177.6,239.4 177.7,241.3 177.8,238.2 177.9,244.7 178.0,239.6 178.1,238.9 178.2,236.7 178.3,239.2 178.4,237.3 178.5,244.8 178.6,243.6 178.7,238.6 178.8,239.5 178.9,241.7 179.0,242.2 179.1,239.0 179.2,245.5 179.3,243.6 179.4,247.3 179.5,234.4 179.6,237.6 179.7,243.8 179.8,242.4 179.9,241.1 180.0,238.7 180.1,243.2 180.2,240.4 180.3,245.5 180.4,244.8 180.5,244.3 180.6,236.8 180.7,242.7 180.8,246.6 180.9,246.8 181.0,245.2 181.1,244.9 181.2,239.7 181.3,245.8 181.4,246.9 181.5,242.9 181.6,243.2 181.7,241.4 181.8,242.3 181.9,240.9 182.0,243.0 182.1,241.3 182.2,237.6 182.3,240.1 182.4,242.8 182.5,242.3 182.6,245.7 182.7,244.3 182.8,245.2 182.9,241.6 183.0,244.6 183.1,239.8 183.2,239.9 183.3,244.1 183.4,242.3 183.5,239.5 183.6,244.3 183.7,245.6 183.8,243.7 183.9,245.2 184.0,244.2 184.1,244.2 184.2,239.5 184.3,236.6 184.4,240.7 184.5,232.8 184.6,240.1 184.7,238.6 184.8,241.9 184.9,239.7 185.0,241.6 185.1,239.2 185.2,240.9 185.3,245.7 185.4,238.8 185.5,236.9 185.6,245.5 185.7,243.7 185.8,241.5 185.9,240.5 186.0,242.5 186.1,240.6 186.2,244.3 186.3,240.8 186.4,239.9 186.5,243.1 186.6,239.5 186.7,243.2 186.8,238.5 186.9,240.2 187.0,242.2 187.1,239.8 187.2,244.3 187.3,241.4 187.4,242.3 187.5,236.4 187.6,243.2 187.7,241.9 187.8,236.3 187.9,242.4 188.0,242.6 188.1,239.8 188.2,238.8 188.3,237.9 188.4,241.8 188.5,241.8 188.6,241.2 188.7,247.2 188.8,241.7 188.9,242.2 189.0,237.5 189.1,242.6 189.2,244.3 189.3,239.4 189.4,247.5 189.5,240.3 189.6,242.2 189.7,240.8 189.8,240.7 189.9,234.0 190.0,244.1 190.1,235.9 190.2,245.2 190.3,238.8 190.4,240.4 190.5,248.6 190.6,239.2 190.7,241.2 190.8,238.5 190.9,241.3 191.0,243.0 191.1,246.1 191.2,234.8 191.3,241.7 191.4,243.5 191.5,244.3 191.6,239.8 191.7,242.1 191.8,247.0 191.9,242.9 192.0,247.7 192.1,238.6 192.2,240.0 192.3,242.0 192.4,239.2 192.5,243.7 192.6,238.9 192.7,242.9 192.8,237.9 192.9,239.7 193.0,242.7 193.1,243.6 193.2,239.4 193.3,237.9 193.4,243.5 193.5,239.3 193.6,243.1 193.7,245.5 193.8,243.8 193.9,237.9 194.0,245.4 194.1,245.1 194.2,240.4 194.3,240.9 194.4,245.9 194.5,242.9 194.6,243.2 194.7,245.0 194.8,243.6 194.9,249.8 195.0,245.9 195.1,242.5 195.2,242.5 195.3,241.3 195.4,245.5 195.5,238.9 195.6,244.6 195.7,240.6 195.8,237.2 195.9,244.9 196.0,243.4 196.1,243.0 196.2,241.4 196.3,242.2 196.4,240.5 196.5,245.9 196.6,246.0 196.7,242.1 196.8,242.3 196.9,243.1 197.0,244.7 197.1,242.9 197.2,241.1 197.3,241.7 197.4,243.1 197.5,241.9 197.7,241.3 197.8,245.7 197.9,243.5 198.0,244.8 198.1,240.0 198.2,244.6 198.3,242.4 198.4,241.7 198.5,240.5 198.6,240.7 198.7,241.1 198.8,242.7 198.9,242.2 199.0,247.9 199.1,243.7 199.2,243.1 199.3,242.2 199.4,240.3 199.5,240.2 199.6,243.4 199.7,238.3 199.8,246.8 199.9,246.7 200.0,238.4 200.1,245.7 200.2,245.4 200.3,245.5 200.4,244.3 200.5,246.9 200.6,240.2 200.7,241.2 200.8,244.1 200.9,242.5 201.0,238.5 201.1,244.6 201.2,245.2 201.3,241.8 201.4,243.4 201.5,245.0 201.6,236.7 201.7,240.9 201.8,240.0 201.9,242.0 202.0,239.0 202.1,238.9 202.2,242.9 202.3,247.3 202.4,239.0 202.5,246.7 202.6,244.9 202.7,245.0 202.8,245.9 202.9,241.1 203.0,245.3 203.1,238.2 203.2,240.1 203.3,243.1 203.4,244.3 203.5,238.5 203.6,237.1 203.7,243.3 203.8,243.0 203.9,244.1 204.0,242.0 204.1,238.6 204.2,245.3 204.3,244.3 204.4,242.6 204.5,248.1 204.6,242.8 204.7,246.2 204.8,241.8 204.9,234.2 205.0,239.0 205.1,234.7 205.2,241.5 205.3,245.3 205.4,237.5 205.5,244.0 205.6,241.3 205.7,244.5 205.8,243.1 205.9,239.4 206.0,243.6 206.1,241.9 206.2,244.5 206.3,247.3 206.4,241.5 206.5,246.5 206.6,241.7 206.7,243.7 206.8,242.5 206.9,240.2 207.0,242.3 207.1,240.8 207.2,243.5 207.3,239.1 207.4,239.3 207.5,244.3 207.6,243.4 207.7,243.5 207.8,243.5 207.9,244.8 208.0,243.2 208.1,244.4 208.2,239.8 208.3,243.3 208.4,239.9 208.5,238.5 208.6,241.3 208.7,243.6 208.8,241.9 208.9,246.7 209.0,243.7 209.1,243.0 209.2,242.1 209.3,238.2 209.4,242.0 209.5,241.9 209.6,246.5 209.7,239.7 209.8,241.4 209.9,239.8 210.0,242.2 210.1,237.1 210.2,242.6 210.3,241.8 210.4,242.2 210.5,248.9 210.6,241.5 210.7,243.0 210.8,241.7 210.9,244.7 211.0,247.8 211.1,246.3 211.2,242.6 211.3,238.2 211.4,242.8 211.5,237.2 211.6,239.3 211.7,240.0 211.8,238.6 211.9,241.6 212.0,240.6 212.1,239.6 212.2,242.6 212.3,239.6 212.4,245.1 212.5,243.3 212.6,240.4 212.7,242.7 212.8,239.7 212.9,239.8 213.0,244.3 213.1,237.2 213.2,242.8 213.3,246.7 213.4,235.4 213.5,248.0 213.6,236.2 213.7,235.3 213.8,235.7 213.9,238.2 214.0,239.8 214.1,236.2 214.2,240.8 214.3,243.6 214.4,239.3 214.5,241.7 214.6,243.0 214.7,246.1 214.8,241.1 214.9,243.3 215.0,242.7 215.1,241.5 215.2,240.4 215.3,242.3 215.4,243.2 215.5,237.7 215.6,240.3 215.7,242.2 215.8,242.1 215.9,242.2 216.0,245.8 216.1,244.1 216.2,237.8 216.3,245.6 216.4,239.3 216.5,239.0 216.6,244.2 216.7,240.3 216.8,236.6 216.9,242.9 217.0,242.4 217.1,242.7 217.2,237.3 217.3,243.4 217.4,239.5 217.5,243.7 217.6,237.8 217.7,238.5 217.8,235.8 217.9,239.0 218.0,244.1 218.1,241.8 218.2,239.6 218.3,244.9 218.4,241.7 218.5,243.3 218.6,242.1 218.7,240.8 218.8,241.5 218.9,242.3 219.0,244.2 219.1,242.8 219.2,243.5 219.3,238.0 219.4,235.9 219.5,242.0 219.6,241.5 219.7,242.3 219.8,238.3 219.9,241.5 220.0,238.1 220.1,241.3 220.2,240.8 220.3,240.6 220.4,241.9 220.5,239.7 220.6,241.0 220.7,243.0 220.8,245.2 220.9,242.1 221.0,243.3 221.1,242.6 221.2,245.6 221.3,246.8 221.4,239.2 221.5,242.9 221.6,241.8 221.7,245.4 221.8,234.2 221.9,239.2 222.0,236.2 222.1,244.8 222.2,241.7 222.3,242.8 222.4,242.1 222.5,241.7 222.6,242.1 222.7,239.8 222.8,235.3 222.9,241.8 223.0,240.8 223.1,239.4 223.2,239.3 223.3,244.5 223.4,238.9 223.5,238.0 223.6,242.7 223.7,244.9 223.8,237.3 223.9,238.2 224.0,238.0 224.1,241.9 224.2,242.4 224.3,244.8 224.4,240.7 224.5,240.2 224.6,239.2 224.7,244.0 224.8,239.2 224.9,238.6 225.0,240.2 225.1,240.8 225.2,241.9 225.3,239.1 225.4,245.6 225.5,246.1 225.6,237.7 225.7,241.2 225.8,238.0 225.9,240.0 226.0,237.4 226.1,240.0 226.2,241.5 226.3,241.2 226.4,237.1 226.5,235.2 226.6,235.7 226.7,244.1 226.8,240.3 226.9,241.0 227.0,244.8 227.1,238.0 227.2,241.9 227.3,238.9 227.4,241.3 227.5,235.5 227.6,239.6 227.7,240.5 227.8,241.0 227.9,236.8 228.0,240.0 228.1,243.1 228.2,240.4 228.3,243.1 228.4,242.5 228.5,241.4 228.6,239.7 228.7,240.9 228.8,238.1 228.9,242.5 229.0,241.6 229.1,244.0 229.2,246.9 229.3,243.0 229.4,242.2 229.5,241.2 229.6,243.0 229.7,244.5 229.8,239.9 229.9,237.2 230.0,236.9 230.1,243.4 230.2,242.0 230.3,242.2 230.4,236.1 230.5,239.1 230.6,236.4 230.7,237.5 230.8,239.1 230.9,238.8 231.0,245.1 231.1,237.2 231.2,239.0 231.3,238.7 231.4,240.9 231.5,242.8 231.6,238.5 231.7,236.1 231.8,239.6 231.9,241.9 232.0,237.8 232.1,243.5 232.2,238.0 232.3,239.0 232.4,239.6 232.5,246.1 232.6,243.0 232.7,241.8 232.8,238.0 232.9,237.8 233.0,238.9 233.1,245.3 233.2,244.5 233.3,241.3 233.4,238.9 233.5,236.0 233.6,239.6 233.7,242.3 233.8,242.5 233.9,242.0 234.0,239.0 234.1,242.3 234.2,240.5 234.3,243.4 234.4,241.7 234.5,243.1 234.6,241.9 234.7,239.7 234.8,244.2 234.9,238.1 235.0,242.9 235.1,239.8 235.2,240.0 235.3,241.8 235.4,239.6 235.5,238.2 235.6,238.5 235.7,238.0 235.8,241.2 235.9,242.0 236.0,240.9 236.1,236.8 236.2,241.5 236.3,243.7 236.4,238.0 236.5,238.7 236.6,243.7 236.7,240.7 236.8,244.1 236.9,240.2 237.0,237.2 237.1,241.1 237.2,241.0 237.3,242.0 237.4,238.9 237.5,239.9 237.6,246.8 237.7,239.7 237.8,245.6 237.9,238.2 238.0,241.9 238.1,242.3 238.2,243.7 238.3,241.3 238.4,239.5 238.5,241.6 238.6,237.2 238.7,234.5 238.8,237.1 238.9,245.6 239.0,243.6 239.1,246.4 239.2,242.7 239.3,237.3 239.4,238.6 239.5,242.2 239.6,239.1 239.7,238.8 239.8,238.4 239.9,239.3 240.0,236.2 240.1,242.6 240.2,239.5 240.3,244.9 240.4,246.0 240.5,241.3 240.6,244.3 240.7,244.5 240.8,242.0 240.9,241.0 241.0,245.0 241.1,243.3 241.2,241.0 241.3,240.1 241.4,241.5 241.5,244.1 241.6,243.4 241.7,239.9 241.8,241.1 241.9,242.0 242.0,240.5 242.1,241.3 242.2,238.9 242.3,239.4 242.4,242.4 242.5,242.3 242.6,240.8 242.7,247.5 242.8,241.2 242.9,243.6 243.0,242.4 243.1,240.4 243.2,243.5 243.3,244.7 243.4,241.7 243.5,243.1 243.6,249.4 243.7,239.3 243.8,241.2 243.9,243.3 244.0,241.7 244.1,239.5 244.2,240.4 244.3,241.1 244.4,241.0 244.5,241.9 244.6,246.0 244.7,242.3 244.8,240.7 244.9,243.6 245.0,243.4 245.1,238.8 245.2,240.0 245.3,238.7 245.4,242.6 245.5,244.0 245.6,241.0 245.7,245.0 245.8,240.1 245.9,240.7 246.0,241.4 246.1,242.1 246.2,246.1 246.3,238.5 246.4,243.1 246.5,241.7 246.6,244.7 246.7,237.9 246.8,238.3 246.9,246.1 247.0,244.8 247.1,244.3 247.2,241.0 247.3,244.2 247.4,241.4 247.5,238.4 247.6,240.9 247.7,240.6 247.8,238.4 247.9,239.7 248.0,239.3 248.1,242.6 248.2,243.8 248.3,244.1 248.4,244.1 248.5,238.2 248.6,242.6 248.7,243.2 248.8,242.1 248.9,238.5 249.0,233.1 249.1,241.4 249.2,238.7 249.3,243.3 249.4,236.9 249.5,242.3 249.6,239.7 249.7,237.2 249.8,239.6 249.9,240.4 250.0,243.0 250.1,242.9 250.2,244.0 250.3,242.7 250.4,239.4 250.5,239.5 250.6,241.0 250.7,239.7 250.8,236.1 250.9,235.0 251.0,242.6 251.1,240.8 251.2,245.8 251.3,239.1 251.4,243.2 251.5,240.8 251.6,241.7 251.7,240.6 251.8,243.3 251.9,241.7 252.0,239.0 252.1,240.0 252.2,239.6 252.3,240.5 252.4,240.8 252.5,239.0 252.6,238.6 252.7,240.1 252.8,235.3 252.9,241.2 253.0,241.1 253.1,231.7 253.2,237.1 253.3,240.0 253.4,233.9 253.5,241.1 253.6,242.6 253.7,241.2 253.8,242.5 253.9,239.6 254.0,242.2 254.1,241.7 254.2,239.5 254.3,240.0 254.4,235.3 254.5,236.1 254.6,242.5 254.7,242.5 254.8,237.5 254.9,235.6 255.0,234.3 255.1,242.8 255.2,240.6 255.3,244.8 255.4,243.0 255.5,245.1 255.6,241.8 255.7,238.0 255.8,238.6 255.9,242.5 256.0,235.7 256.1,241.0 256.2,238.4 256.3,243.0 256.4,238.0 256.5,237.5 256.6,242.0 256.7,230.7 256.8,242.3 256.9,240.2 257.0,237.8 257.1,241.2 257.2,238.1 257.3,241.0 257.4,239.6 257.5,241.4 257.6,236.7 257.7,237.5 257.8,244.3 257.9,240.1 258.0,238.8 258.1,236.8 258.2,237.8 258.3,239.9 258.4,235.9 258.5,239.1 258.6,238.5 258.7,233.9 258.8,239.2 258.9,242.5 259.0,238.0 259.1,238.6 259.2,239.8 259.3,237.5 259.4,234.4 259.5,239.2 259.6,237.9 259.7,237.3 259.8,242.8 259.9,239.3 260.0,237.0 260.1,237.2 260.2,243.3 260.3,241.2 260.4,234.2 260.5,240.6 260.6,237.6 260.7,237.4 260.8,242.0 260.9,240.9 261.0,236.6 261.1,238.9 261.2,240.6 261.3,238.6 261.4,240.0 261.5,237.0 261.6,242.4 261.7,242.8 261.8,237.1 261.9,235.0 262.0,237.5 262.1,241.2 262.2,239.4 262.3,238.6 262.4,239.3 262.5,234.8 262.6,238.6 262.7,238.5 262.8,237.0 262.9,240.9 263.0,236.9 263.1,237.0 263.2,240.6 263.3,240.4 263.4,238.9 263.5,239.3 263.6,239.7 263.7,239.6 263.8,236.0 263.9,240.9 264.0,244.1 264.1,239.7 264.2,237.9 264.3,241.8 264.4,240.3 264.5,236.6 264.6,238.4 264.7,237.1 264.8,241.4 264.9,235.1 265.0,242.0 265.1,236.8 265.2,239.4 265.3,237.4 265.4,239.7 265.5,241.8 265.6,240.3 265.7,235.3 265.8,237.9 265.9,239.0 266.0,243.8 266.1,237.3 266.2,237.6 266.3,236.6 266.4,238.5 266.5,240.5 266.6,236.0 266.7,242.5 266.8,242.2 266.9,240.9 267.0,240.4 267.1,245.4 267.2,235.9 267.3,237.3 267.4,244.6 267.5,235.5 267.6,239.7 267.7,238.4 267.8,236.3 267.9,236.3 268.0,238.3 268.1,239.6 268.2,240.2 268.3,240.5 268.4,239.1 268.5,239.0 268.6,240.6 268.7,237.2 268.8,235.4 268.9,241.3 269.0,233.4 269.1,240.5 269.2,242.5 269.3,235.7 269.4,233.0 269.5,236.8 269.6,239.9 269.7,236.5 269.8,241.9 269.9,240.9 270.0,236.4 270.1,241.2 270.2,235.2 270.3,237.9 270.4,239.8 270.5,242.8 270.6,241.3 270.7,243.3 270.8,235.3 270.9,247.9 271.0,236.8 271.1,240.0 271.2,243.5 271.3,240.6 271.4,242.5 271.5,235.9 271.6,236.2 271.7,238.0 271.8,237.7 271.9,239.5 272.0,238.3 272.1,236.0 272.2,239.8 272.3,235.3 272.4,237.3 272.5,240.0 272.6,236.7 272.7,239.1 272.8,240.9 272.9,243.2 273.0,242.4 273.1,241.5 273.2,240.4 273.3,235.6 273.4,236.7 273.5,236.6 273.6,237.5 273.7,238.6 273.8,236.3 273.9,237.7 274.0,241.9 274.1,237.7 274.2,233.5 274.3,238.0 274.4,238.4 274.5,237.8 274.6,244.6 274.7,241.2 274.8,243.3 274.9,237.0 275.0,240.7 275.1,239.3 275.2,238.3 275.3,236.3 275.4,239.1 275.5,233.2 275.6,241.1 275.7,246.0 275.8,242.5 275.9,232.7 276.0,238.9 276.1,236.3 276.2,236.6 276.3,237.5 276.4,241.5 276.5,240.2 276.6,235.9 276.7,239.7 276.8,238.6 276.9,243.7 277.0,234.1 277.1,237.7 277.2,235.5 277.3,237.9 277.4,232.5 277.5,235.4 277.6,237.6 277.7,236.3 277.8,235.5 277.9,237.5 278.0,236.3 278.1,235.3 278.2,237.1 278.3,237.8 278.4,238.6 278.5,233.0 278.6,236.6 278.7,240.9 278.8,233.7 278.9,238.0 279.0,236.3 279.1,240.6 279.2,240.9 279.3,238.3 279.4,236.2 279.5,233.3 279.6,236.1 279.7,235.3 279.8,237.6 279.9,241.7 280.0,242.7 280.1,238.4 280.2,237.9 280.3,237.2 280.4,238.3 280.5,237.0 280.6,242.3 280.7,235.5 280.8,237.9 280.9,235.9 281.0,240.1 281.1,242.4 281.2,239.4 281.3,238.1 281.4,237.8 281.5,239.2 281.6,236.4 281.7,242.1 281.8,242.4 281.9,240.4 282.0,239.9 282.1,236.7 282.2,242.7 282.3,234.1 282.4,235.9 282.5,243.5 282.6,236.7 282.7,235.7 282.8,233.4 282.9,240.7 283.0,241.1 283.1,238.5 283.2,233.6 283.3,237.8 283.4,235.9 283.5,240.5 283.6,242.0 283.7,239.3 283.8,239.2 283.9,242.3 284.0,242.7 284.1,235.0 284.2,239.4 284.3,235.1 284.4,236.2 284.5,241.3 284.6,235.3 284.7,237.8 284.8,241.6 284.9,239.6 285.0,234.0 285.1,238.1 285.2,237.8 285.3,236.0 285.4,243.9 285.5,238.6 285.6,238.6 285.7,241.3 285.8,239.0 285.9,235.0 286.0,238.6 286.1,239.7 286.2,239.0 286.3,241.5 286.4,241.0 286.5,240.0 286.6,238.3 286.7,238.8 286.8,243.9 286.9,234.3 287.0,241.8 287.1,240.0 287.2,236.9 287.3,238.8 287.4,240.4 287.5,235.1 287.6,239.3 287.7,240.4 287.8,236.5 287.9,239.2 288.0,242.6 288.1,239.4 288.2,236.6 288.3,234.6 288.4,234.2 288.5,241.5 288.6,238.3 288.7,238.6 288.8,238.3 288.9,236.9 289.0,243.5 289.1,240.7 289.2,242.8 289.3,235.7 289.4,240.5 289.5,240.6 289.6,235.8 289.7,236.5 289.8,236.7 289.9,241.5 290.0,239.4 290.1,236.9 290.2,240.7 290.3,237.0 290.4,239.1 290.5,238.6 290.6,236.5 290.7,241.3 290.8,238.9 290.9,232.7 291.0,238.2 291.1,242.7 291.2,232.8 291.3,241.1 291.4,239.3 291.5,235.4 291.6,238.6 291.7,235.6 291.8,234.6 291.9,239.7 292.0,239.4 292.1,233.8 292.2,237.2 292.3,238.7 292.4,234.4 292.5,241.5 292.6,236.6 292.7,239.6 292.8,240.3 292.9,236.0 293.0,239.5 293.1,238.8 293.2,239.6 293.3,237.4 293.4,241.1 293.5,240.4 293.6,242.6 293.7,241.3 293.8,234.9 293.9,237.0 294.0,239.6 294.1,241.1 294.2,236.6 294.3,238.5 294.4,239.3 294.5,238.2 294.6,241.1"/>
<polyline fill="none" stroke="#585858" stroke-width="2.3" stroke-linejoin="round" points="53.8,177.1 54.1,177.8 54.4,178.3 54.7,178.9 55.0,179.4 55.4,180.0 55.7,180.9 56.0,181.5 56.3,182.2 56.6,182.8 56.9,183.3 57.2,184.1 57.5,184.9 57.9,185.6 58.2,186.3 58.5,187.0 58.8,188.4 59.1,189.0 59.4,189.7 59.7,190.7 60.0,191.2 60.4,192.5 60.7,193.8 61.0,194.6 61.3,195.4 61.6,196.0 61.9,196.9 62.2,197.7 62.5,198.5 62.9,199.5 63.2,200.1 63.5,200.8 63.8,201.7 64.1,202.3 64.4,203.2 64.7,204.5 65.0,205.3 65.4,206.3 65.7,207.3 66.0,208.5 66.3,209.0 66.6,209.7 66.9,210.5 67.2,211.4 67.5,212.5 67.8,213.6 68.2,214.6 68.5,215.2 68.8,216.2 69.1,217.3 69.4,218.1 69.7,218.9 70.0,219.6 70.3,220.3 70.7,221.3 71.0,222.3 71.3,223.5 71.6,224.4 71.9,225.5 72.2,226.4 72.5,227.2 72.8,227.9 73.2,228.8 73.5,229.4 73.8,230.1 74.1,230.8 74.4,231.6 74.7,232.5 75.0,232.8 75.3,233.8 75.7,234.2 76.0,234.6 76.3,235.8 76.6,236.1 76.9,237.1 77.2,237.7 77.5,238.4 77.8,238.9 78.1,239.5 78.5,240.1 78.8,240.4 79.1,240.8 79.4,240.9 79.7,241.2 80.0,241.9 80.3,242.5 80.6,243.5 81.0,243.9 81.3,243.9 81.6,244.0 81.9,243.8 82.2,244.0 82.5,244.3 82.8,245.0 83.1,245.4 83.5,245.6 83.8,246.1 84.1,246.2 84.4,246.6 84.7,246.8 85.0,247.1 85.3,247.5 85.6,248.2 86.0,248.6 86.3,248.9 86.6,249.4 86.9,249.5 87.2,249.5 87.5,249.7 87.8,250.3 88.1,250.5 88.5,250.8 88.8,251.1 89.1,250.7 89.4,251.0 89.7,251.1 90.0,251.5 90.3,251.9 90.6,252.0 90.9,252.2 91.3,252.4 91.6,252.9 91.9,253.4 92.2,253.7 92.5,254.0 92.8,253.9 93.1,253.4 93.4,253.2 93.8,253.8 94.1,254.0 94.4,254.8 94.7,255.7 95.0,255.7 95.3,255.8 95.6,255.8 95.9,256.1 96.3,256.5 96.6,256.9 96.9,257.3 97.2,257.0 97.5,257.3 97.8,257.2 98.1,257.4 98.4,257.7 98.8,257.8 99.1,258.2 99.4,259.0 99.7,259.8 100.0,259.5 100.3,259.9"/>
<polyline fill="none" stroke="#555" stroke-width="1.1" stroke-linejoin="round" points="100.6,241.6 101.4,241.9 102.2,241.9 103.0,242.0 103.8,242.3 104.6,241.8 105.4,241.8 106.2,242.0 107.0,242.2 107.8,242.0 108.6,242.9 109.4,242.5 110.2,242.4 111.0,242.1 111.8,242.0 112.6,241.3 113.4,241.9 114.2,241.5 115.0,241.2 115.8,241.6 116.6,241.7 117.4,241.0 118.2,241.4 119.0,241.9 119.8,241.6 120.6,241.4 121.4,241.4 122.2,240.3 123.0,240.3 123.8,239.9 124.6,240.1 125.4,240.2 126.2,241.1 127.0,240.9 127.8,241.2 128.6,241.5 129.4,241.1 130.2,241.2 131.0,241.4 131.8,241.3 132.6,241.1 133.4,242.1 134.2,242.2 135.0,242.7 135.8,243.0 136.6,243.0 137.4,243.1 138.2,243.3 139.0,243.3 139.8,242.9 140.6,243.3 141.4,243.0 142.2,243.1 143.0,242.3 143.8,242.3 144.6,242.2 145.4,241.8 146.2,241.2 147.0,241.5 147.8,241.9 148.6,241.4 149.4,241.2 150.2,241.7 151.0,241.8 151.8,241.5 152.6,241.6 153.4,241.9 154.2,241.7 155.0,241.5 155.8,241.3 156.6,241.3 157.4,241.5 158.2,241.4 159.0,241.1 159.8,241.6 160.6,241.8 161.4,241.9 162.2,242.1 163.0,242.4 163.8,242.6 164.6,242.8 165.4,243.2 166.2,243.4 167.0,243.3 167.8,243.6 168.6,243.2 169.4,242.9 170.2,242.3 171.0,242.4 171.8,241.8 172.6,242.1 173.4,241.6 174.2,241.7 175.0,241.7 175.8,241.3 176.6,240.7 177.4,241.5 178.2,241.7 179.0,242.0 179.8,242.7 180.6,243.3 181.4,242.8 182.2,242.2 183.0,242.2 183.8,241.2 184.6,240.8 185.4,241.2 186.2,241.5 187.0,241.2 187.8,242.3 188.6,242.0 189.4,241.6 190.2,241.7 191.0,241.6 191.8,241.1 192.6,241.4 193.4,241.7 194.2,242.1 195.0,242.6 195.8,242.9 196.6,243.2 197.4,243.3 198.3,242.6 199.1,242.2 199.9,242.0 200.7,241.8 201.5,241.5 202.3,241.8 203.1,241.7 203.9,241.1 204.7,241.1 205.5,241.6 206.3,241.5 207.1,241.6 207.9,241.9 208.7,241.7 209.5,241.2 210.3,241.2 211.1,241.4 211.9,241.5 212.7,241.6 213.5,241.6 214.3,241.4 215.1,241.0 215.9,241.1 216.7,240.4 217.5,239.9 218.3,240.1 219.1,240.3 219.9,240.4 220.7,240.2 221.5,240.8 222.3,240.6 223.1,240.1 223.9,239.8 224.7,240.2 225.5,240.0 226.3,240.2 227.1,240.5 227.9,241.1 228.7,241.4 229.5,241.1 230.3,240.9 231.1,241.2 231.9,240.8 232.7,240.6 233.5,240.9 234.3,241.6 235.1,241.6 235.9,241.6 236.7,241.8 237.5,241.3 238.3,240.8 239.1,241.0 239.9,240.8 240.7,240.9 241.5,241.4 242.3,241.8 243.1,241.5 243.9,241.8 244.7,241.7 245.5,241.5 246.3,241.3 247.1,241.3 247.9,241.4 248.7,241.2 249.5,241.2 250.3,240.8 251.1,240.4 251.9,240.2 252.7,240.2 253.5,240.4 254.3,240.1 255.1,239.3 255.9,239.1 256.7,238.3 257.5,238.1 258.3,238.0 259.1,238.8 259.9,238.4 260.7,239.2 261.5,238.6 262.3,238.8 263.1,238.5 263.9,238.7 264.7,238.3 265.5,238.6 266.3,238.5 267.1,238.8 267.9,238.8 268.7,239.0 269.5,239.2 270.3,239.1 271.1,239.0 271.9,239.2 272.7,239.2 273.5,238.8 274.3,238.0 275.1,237.6 275.9,237.5 276.7,237.3 277.5,237.1 278.3,237.8 279.1,238.0 279.9,237.1 280.7,237.1 281.5,237.0 282.3,236.9 283.1,236.9 283.9,237.4 284.7,237.4 285.5,238.3 286.3,238.4 287.1,238.6 287.9,238.9 288.7,239.4 289.5,239.0 290.3,238.9 291.1,238.9 291.9,238.8 292.7,238.3 293.5,238.1 294.3,238.2"/>
<path stroke="#111" stroke-width="0.88" fill="none" d="M53.65 173.8 V274.35 H294.5"/>
<path stroke="#111" stroke-width="0.88" fill="none" d="M46.2 182.40 H53.65"/>
<text transform="translate(42.4 185.8) scale(0.93 1.0)" font-size="11.0" text-anchor="end" fill="#111">200</text>
<path stroke="#111" stroke-width="0.88" fill="none" d="M46.2 211.02 H53.65"/>
<text transform="translate(42.4 214.4) scale(0.93 1.0)" font-size="11.0" text-anchor="end" fill="#111">100</text>
<path stroke="#111" stroke-width="0.88" fill="none" d="M46.2 239.64 H53.65"/>
<text transform="translate(42.4 243.0) scale(0.93 1.0)" font-size="11.0" text-anchor="end" fill="#111">0</text>
<path stroke="#111" stroke-width="0.88" fill="none" d="M46.2 268.26 H53.65"/>
<text transform="translate(42.4 271.7) scale(0.93 1.0)" font-size="11.0" text-anchor="end" fill="#111">-100</text>
<path stroke="#111" stroke-width="0.88" fill="none" d="M50.0 196.71 H53.65"/>
<path stroke="#111" stroke-width="0.88" fill="none" d="M50.0 225.33 H53.65"/>
<path stroke="#111" stroke-width="0.88" fill="none" d="M50.0 253.95 H53.65"/>
<path stroke="#111" stroke-width="0.88" fill="none" d="M77.20 274.35 V282.3"/>
<text transform="translate(77.5 295.8) scale(0.93 1.0)" font-size="11.0" text-anchor="middle" fill="#111">0</text>
<path stroke="#111" stroke-width="0.88" fill="none" d="M143.93 274.35 V282.3"/>
<text transform="translate(144.2 295.8) scale(0.93 1.0)" font-size="11.0" text-anchor="middle" fill="#111">50</text>
<path stroke="#111" stroke-width="0.88" fill="none" d="M210.66 274.35 V282.3"/>
<text transform="translate(211.0 295.8) scale(0.93 1.0)" font-size="11.0" text-anchor="middle" fill="#111">100</text>
<path stroke="#111" stroke-width="0.88" fill="none" d="M277.39 274.35 V282.3"/>
<text transform="translate(277.7 295.8) scale(0.93 1.0)" font-size="11.0" text-anchor="middle" fill="#111">150</text>
<text x="112.0" y="309.5" font-size="11" textLength="124.5" lengthAdjust="spacingAndGlyphs" fill="#111">Cantilever Displacement [nm]</text>
<text transform="translate(8.8 223.8) rotate(-90) scale(1 0.92)" font-size="10.45" text-anchor="middle" fill="#111">Force [pN]</text>
<text transform="translate(0.2 175.9) scale(0.94 1.0)" font-size="15" fill="#111">(b)</text>
<text x="67" y="178.2" font-size="10.5" font-weight="bold" text-anchor="middle" fill="#111">A</text>
<text x="90" y="178.2" font-size="10.5" font-weight="bold" text-anchor="middle" fill="#111">B</text>
<text x="115.8" y="178.2" font-size="10.5" font-weight="bold" text-anchor="middle" fill="#111">C</text>
<path stroke="#111" stroke-width="0.88" fill="none" d="M77.2 174.6 V194 M101.1 174.6 V194"/>
<path stroke="#111" stroke-width="1.05" fill="none" d="M95.3 241.4 H107.4 M100.7 241.4 V260.3 M95.3 260.3 H107.4"/>
</svg>
</body></html>
